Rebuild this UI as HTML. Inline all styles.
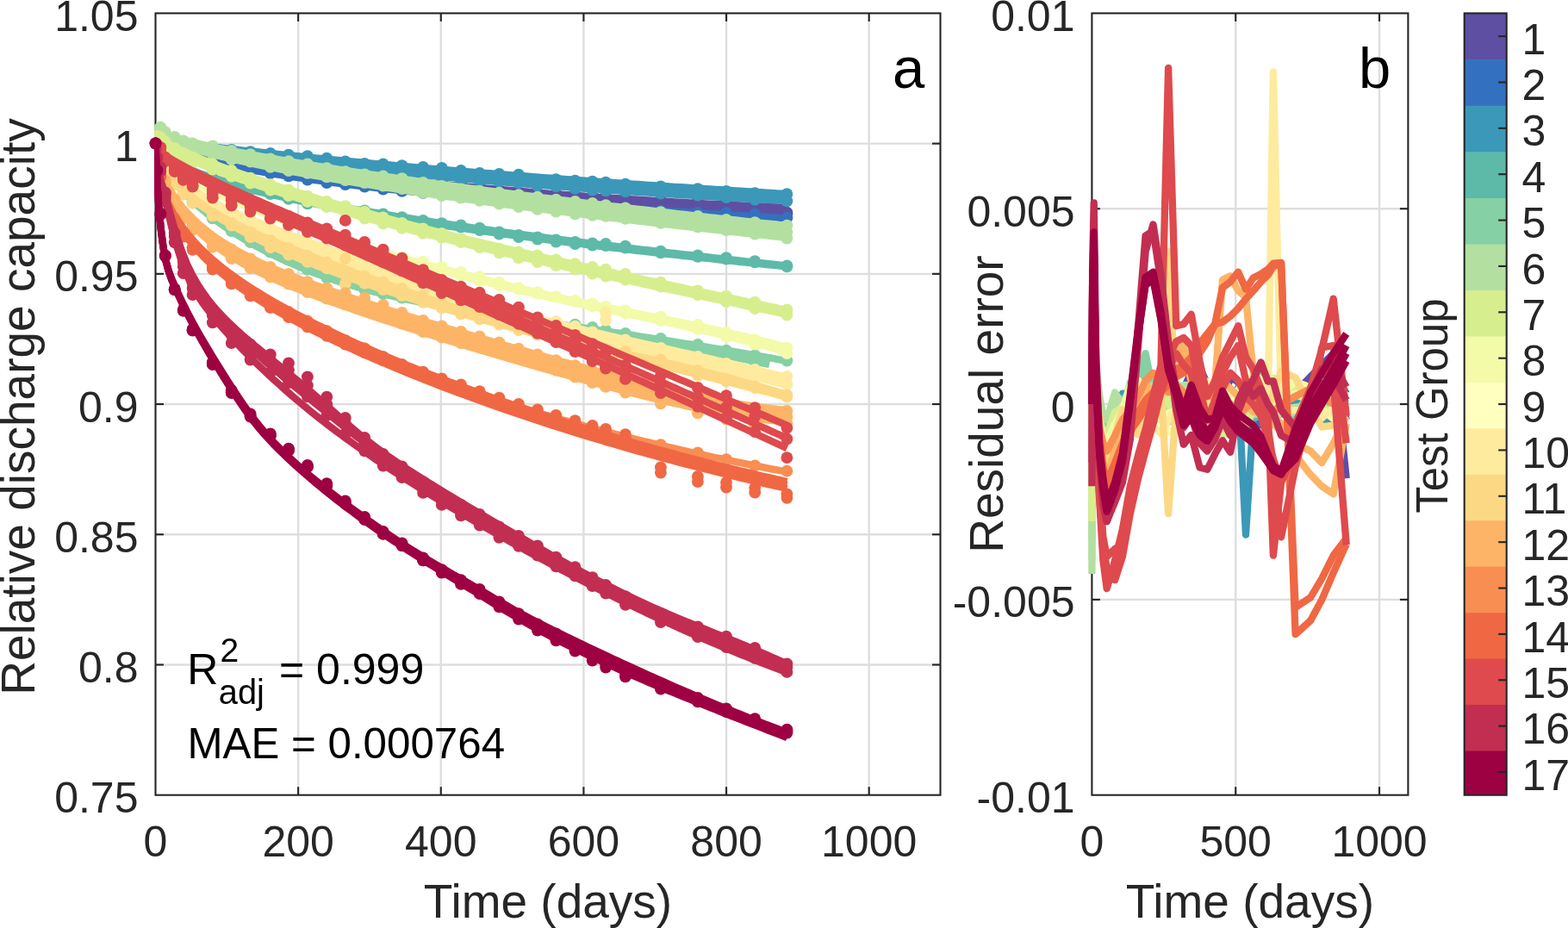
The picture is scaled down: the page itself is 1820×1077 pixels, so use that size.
<!DOCTYPE html>
<html lang="en"><head><meta charset="utf-8"><title>Capacity fade model fit</title>
<style>html,body{margin:0;padding:0;background:#fff;overflow:hidden}svg{display:block}text{font-family:"Liberation Sans", sans-serif}</style>
</head><body>
<svg width="1820" height="1077" viewBox="0 0 1820 1077" role="img" aria-label="Relative discharge capacity and residual error versus time for 17 test groups">
<rect x="0" y="0" width="1820" height="1077" fill="#fff"/>
<defs><clipPath id="ca"><rect x="179.30" y="15.40" width="912.20" height="907.30"/></clipPath>
<clipPath id="cb"><rect x="1267.40" y="15.40" width="367.00" height="907.30"/></clipPath></defs>
<g stroke="#dedede" stroke-width="2.4" fill="none"><line x1="346.14" y1="15.40" x2="346.14" y2="922.70"/><line x1="511.77" y1="15.40" x2="511.77" y2="922.70"/><line x1="677.41" y1="15.40" x2="677.41" y2="922.70"/><line x1="843.05" y1="15.40" x2="843.05" y2="922.70"/><line x1="1008.68" y1="15.40" x2="1008.68" y2="922.70"/><line x1="180.50" y1="771.48" x2="1091.50" y2="771.48"/><line x1="180.50" y1="620.27" x2="1091.50" y2="620.27"/><line x1="180.50" y1="469.05" x2="1091.50" y2="469.05"/><line x1="180.50" y1="317.83" x2="1091.50" y2="317.83"/><line x1="180.50" y1="166.62" x2="1091.50" y2="166.62"/></g>
<g stroke="#dedede" stroke-width="2.4" fill="none"><line x1="1434.22" y1="15.40" x2="1434.22" y2="922.70"/><line x1="1601.04" y1="15.40" x2="1601.04" y2="922.70"/><line x1="1267.40" y1="695.88" x2="1634.40" y2="695.88"/><line x1="1267.40" y1="469.05" x2="1634.40" y2="469.05"/><line x1="1267.40" y1="242.23" x2="1634.40" y2="242.23"/></g>
<!--PLOTS-->
<g stroke="#262626" stroke-width="2.10" fill="none" stroke-linecap="butt"><rect x="180.50" y="15.40" width="911.00" height="907.30"/><line x1="346.14" y1="922.70" x2="346.14" y2="913.20"/><line x1="346.14" y1="15.40" x2="346.14" y2="24.90"/><line x1="511.77" y1="922.70" x2="511.77" y2="913.20"/><line x1="511.77" y1="15.40" x2="511.77" y2="24.90"/><line x1="677.41" y1="922.70" x2="677.41" y2="913.20"/><line x1="677.41" y1="15.40" x2="677.41" y2="24.90"/><line x1="843.05" y1="922.70" x2="843.05" y2="913.20"/><line x1="843.05" y1="15.40" x2="843.05" y2="24.90"/><line x1="1008.68" y1="922.70" x2="1008.68" y2="913.20"/><line x1="1008.68" y1="15.40" x2="1008.68" y2="24.90"/><line x1="180.50" y1="771.48" x2="190.00" y2="771.48"/><line x1="1091.50" y1="771.48" x2="1082.00" y2="771.48"/><line x1="180.50" y1="620.27" x2="190.00" y2="620.27"/><line x1="1091.50" y1="620.27" x2="1082.00" y2="620.27"/><line x1="180.50" y1="469.05" x2="190.00" y2="469.05"/><line x1="1091.50" y1="469.05" x2="1082.00" y2="469.05"/><line x1="180.50" y1="317.83" x2="190.00" y2="317.83"/><line x1="1091.50" y1="317.83" x2="1082.00" y2="317.83"/><line x1="180.50" y1="166.62" x2="190.00" y2="166.62"/><line x1="1091.50" y1="166.62" x2="1082.00" y2="166.62"/></g>
<g stroke="#262626" stroke-width="2.10" fill="none" stroke-linecap="butt"><rect x="1267.40" y="15.40" width="367.00" height="907.30"/><line x1="1434.22" y1="922.70" x2="1434.22" y2="913.20"/><line x1="1434.22" y1="15.40" x2="1434.22" y2="24.90"/><line x1="1601.04" y1="922.70" x2="1601.04" y2="913.20"/><line x1="1601.04" y1="15.40" x2="1601.04" y2="24.90"/><line x1="1267.40" y1="695.88" x2="1276.90" y2="695.88"/><line x1="1634.40" y1="695.88" x2="1624.90" y2="695.88"/><line x1="1267.40" y1="469.05" x2="1276.90" y2="469.05"/><line x1="1634.40" y1="469.05" x2="1624.90" y2="469.05"/><line x1="1267.40" y1="242.23" x2="1276.90" y2="242.23"/><line x1="1634.40" y1="242.23" x2="1624.90" y2="242.23"/></g>
<g clip-path="url(#ca)" fill="none" stroke-linejoin="round" stroke-linecap="butt">
<g stroke="#5e4fa2" fill="#5e4fa2" stroke-width="8.33">
<polyline fill="none" points="180.5,166.5 181.3,165.4 182.2,165.4 183.0,165.5 183.8,165.7 184.6,165.8 185.5,166.0 186.3,166.2 187.1,166.4 188.0,166.6 188.8,166.8 189.6,167.0 190.4,167.2 191.3,167.4 192.1,167.6 192.9,167.8 193.8,168.0 194.6,168.2 195.4,168.4 196.2,168.6 197.1,168.9 197.9,169.1 198.7,169.3 199.5,169.5 200.4,169.7 201.2,169.9 202.0,170.1 202.9,170.3 203.7,170.4 204.5,170.6 205.3,170.8 211.3,172.2 217.2,173.6 223.2,174.9 229.1,176.1 235.1,177.3 241.1,178.5 247.0,179.7 253.0,180.8 258.9,182.0 264.9,183.0 270.8,184.1 276.8,185.2 282.7,186.2 288.7,187.2 294.6,188.2 300.6,189.2 306.5,190.1 312.5,191.0 318.4,192.0 324.4,192.9 330.3,193.8 336.3,194.6 342.2,195.5 348.2,196.4 354.1,197.2 360.1,198.0 366.0,198.8 372.0,199.6 377.9,200.4 383.9,201.2 389.8,202.0 395.8,202.7 401.7,203.5 407.7,204.2 413.6,204.9 419.6,205.7 425.5,206.4 431.5,207.1 437.4,207.8 443.4,208.4 449.3,209.1 455.3,209.8 461.2,210.5 467.2,211.1 473.1,211.7 479.1,212.4 485.0,213.0 491.0,213.6 496.9,214.2 502.9,214.8 508.8,215.4 514.8,216.0 520.7,216.6 526.7,217.2 532.6,217.8 538.6,218.3 544.5,218.9 550.5,219.4 556.4,220.0 562.4,220.5 568.3,221.1 574.3,221.6 580.3,222.1 586.2,222.6 592.2,223.2 598.1,223.7 604.1,224.2 610.0,224.7 616.0,225.1 621.9,225.6 627.9,226.1 633.8,226.6 639.8,227.1 645.7,227.5 651.7,228.0 657.6,228.4 663.6,228.9 669.5,229.3 675.5,229.8 681.4,230.2 687.4,230.6 693.3,231.1 699.3,231.5 705.2,231.9 711.2,232.3 717.1,232.7 723.1,233.1 729.0,233.5 735.0,233.9 740.9,234.3 746.9,234.7 752.8,235.1 758.8,235.4 764.7,235.8 770.7,236.2 776.6,236.6 782.6,236.9 788.5,237.3 794.5,237.6 800.4,238.0 806.4,238.3 812.3,238.7 818.3,239.0 824.2,239.4 830.2,239.7 836.1,240.0 842.1,240.3 848.0,240.7 854.0,241.0 859.9,241.3 865.9,241.6 871.8,241.9 877.8,242.2 883.7,242.5 889.7,242.8 895.6,243.1 901.6,243.4 907.5,243.7 913.5,244.0"/>
<polyline fill="none" points="180.5,166.5 181.3,165.2 182.2,165.2 183.0,165.3 183.8,165.4 184.6,165.5 185.5,165.7 186.3,165.9 187.1,166.0 188.0,166.2 188.8,166.4 189.6,166.6 190.4,166.8 191.3,167.0 192.1,167.2 192.9,167.3 193.8,167.5 194.6,167.7 195.4,167.9 196.2,168.1 197.1,168.3 197.9,168.5 198.7,168.7 199.5,168.9 200.4,169.1 201.2,169.3 202.0,169.5 202.9,169.6 203.7,169.8 204.5,170.0 205.3,170.2 211.3,171.5 217.2,172.8 223.2,174.1 229.1,175.3 235.1,176.5 241.1,177.6 247.0,178.8 253.0,179.9 258.9,180.9 264.9,182.0 270.8,183.0 276.8,184.1 282.7,185.1 288.7,186.0 294.6,187.0 300.6,187.9 306.5,188.9 312.5,189.8 318.4,190.7 324.4,191.6 330.3,192.4 336.3,193.3 342.2,194.1 348.2,195.0 354.1,195.8 360.1,196.6 366.0,197.4 372.0,198.1 377.9,198.9 383.9,199.7 389.8,200.4 395.8,201.2 401.7,201.9 407.7,202.6 413.6,203.3 419.6,204.0 425.5,204.7 431.5,205.4 437.4,206.1 443.4,206.7 449.3,207.4 455.3,208.0 461.2,208.7 467.2,209.3 473.1,209.9 479.1,210.5 485.0,211.2 491.0,211.8 496.9,212.4 502.9,212.9 508.8,213.5 514.8,214.1 520.7,214.7 526.7,215.2 532.6,215.8 538.6,216.3 544.5,216.9 550.5,217.4 556.4,217.9 562.4,218.5 568.3,219.0 574.3,219.5 580.3,220.0 586.2,220.5 592.2,221.0 598.1,221.5 604.1,222.0 610.0,222.4 616.0,222.9 621.9,223.4 627.9,223.9 633.8,224.3 639.8,224.8 645.7,225.2 651.7,225.7 657.6,226.1 663.6,226.5 669.5,227.0 675.5,227.4 681.4,227.8 687.4,228.2 693.3,228.6 699.3,229.0 705.2,229.4 711.2,229.8 717.1,230.2 723.1,230.6 729.0,231.0 735.0,231.4 740.9,231.7 746.9,232.1 752.8,232.5 758.8,232.8 764.7,233.2 770.7,233.6 776.6,233.9 782.6,234.3 788.5,234.6 794.5,234.9 800.4,235.3 806.4,235.6 812.3,235.9 818.3,236.3 824.2,236.6 830.2,236.9 836.1,237.2 842.1,237.5 848.0,237.8 854.0,238.1 859.9,238.4 865.9,238.7 871.8,239.0 877.8,239.3 883.7,239.6 889.7,239.9 895.6,240.2 901.6,240.4 907.5,240.7 913.5,241.0"/>
<circle cx="180.5" cy="166.5" r="6.9" stroke="none"/><circle cx="182.2" cy="164.3" r="6.9" stroke="none"/><circle cx="186.3" cy="164.3" r="6.9" stroke="none"/><circle cx="191.8" cy="166.8" r="6.9" stroke="none"/><circle cx="202.7" cy="170.2" r="6.9" stroke="none"/><circle cx="212.8" cy="173.1" r="6.9" stroke="none"/><circle cx="223.6" cy="175.7" r="6.9" stroke="none"/><circle cx="246.8" cy="179.0" r="6.9" stroke="none"/><circle cx="268.7" cy="183.7" r="6.9" stroke="none"/><circle cx="290.6" cy="186.4" r="6.9" stroke="none"/><circle cx="313.8" cy="189.6" r="6.9" stroke="none"/><circle cx="335.0" cy="193.3" r="6.9" stroke="none"/><circle cx="356.9" cy="196.5" r="6.9" stroke="none"/><circle cx="379.3" cy="199.9" r="6.9" stroke="none"/><circle cx="400.8" cy="202.4" r="6.9" stroke="none"/><circle cx="423.2" cy="204.0" r="6.9" stroke="none"/><circle cx="444.7" cy="205.7" r="6.9" stroke="none"/><circle cx="466.6" cy="206.8" r="6.9" stroke="none"/><circle cx="491.1" cy="208.9" r="6.9" stroke="none"/><circle cx="512.8" cy="212.4" r="6.9" stroke="none"/><circle cx="535.0" cy="214.9" r="6.9" stroke="none"/><circle cx="556.7" cy="217.2" r="6.9" stroke="none"/><circle cx="579.4" cy="221.0" r="6.9" stroke="none"/><circle cx="602.0" cy="223.3" r="6.9" stroke="none"/><circle cx="623.9" cy="223.9" r="6.9" stroke="none"/><circle cx="645.4" cy="224.9" r="6.9" stroke="none"/><circle cx="667.5" cy="226.5" r="6.9" stroke="none"/><circle cx="687.6" cy="227.7" r="6.9" stroke="none"/><circle cx="703.1" cy="228.6" r="6.9" stroke="none"/><circle cx="725.9" cy="230.2" r="6.9" stroke="none"/><circle cx="766.9" cy="232.4" r="6.9" stroke="none"/><circle cx="809.9" cy="233.7" r="6.9" stroke="none"/><circle cx="843.0" cy="234.5" r="6.9" stroke="none"/><circle cx="876.2" cy="235.3" r="6.9" stroke="none"/><circle cx="913.4" cy="246.7" r="6.9" stroke="none"/>
<polyline fill="none" points="180.5,166.5 181.3,165.6 182.2,165.6 183.0,165.8 183.8,166.0 184.6,166.2 185.5,166.4 186.3,166.6 187.1,166.8 188.0,167.0 188.8,167.2 189.6,167.4 190.4,167.7 191.3,167.9 192.1,168.1 192.9,168.3 193.8,168.5 194.6,168.7 195.4,169.0 196.2,169.2 197.1,169.4 197.9,169.6 198.7,169.8 199.5,170.0 200.4,170.2 201.2,170.4 202.0,170.7 202.9,170.9 203.7,171.1 204.5,171.3 205.3,171.5 211.3,172.9 217.2,174.3 223.2,175.6 229.1,176.9 235.1,178.2 241.1,179.4 247.0,180.6 253.0,181.8 258.9,183.0 264.9,184.1 270.8,185.2 276.8,186.3 282.7,187.3 288.7,188.3 294.6,189.4 300.6,190.4 306.5,191.3 312.5,192.3 318.4,193.2 324.4,194.2 330.3,195.1 336.3,196.0 342.2,196.9 348.2,197.7 354.1,198.6 360.1,199.5 366.0,200.3 372.0,201.1 377.9,201.9 383.9,202.7 389.8,203.5 395.8,204.3 401.7,205.1 407.7,205.8 413.6,206.6 419.6,207.3 425.5,208.0 431.5,208.8 437.4,209.5 443.4,210.2 449.3,210.9 455.3,211.6 461.2,212.2 467.2,212.9 473.1,213.6 479.1,214.2 485.0,214.9 491.0,215.5 496.9,216.1 502.9,216.7 508.8,217.4 514.8,218.0 520.7,218.6 526.7,219.2 532.6,219.8 538.6,220.3 544.5,220.9 550.5,221.5 556.4,222.1 562.4,222.6 568.3,223.2 574.3,223.7 580.3,224.3 586.2,224.8 592.2,225.3 598.1,225.8 604.1,226.4 610.0,226.9 616.0,227.4 621.9,227.9 627.9,228.4 633.8,228.9 639.8,229.3 645.7,229.8 651.7,230.3 657.6,230.8 663.6,231.2 669.5,231.7 675.5,232.1 681.4,232.6 687.4,233.0 693.3,233.5 699.3,233.9 705.2,234.4 711.2,234.8 717.1,235.2 723.1,235.6 729.0,236.0 735.0,236.5 740.9,236.9 746.9,237.3 752.8,237.7 758.8,238.1 764.7,238.4 770.7,238.8 776.6,239.2 782.6,239.6 788.5,240.0 794.5,240.3 800.4,240.7 806.4,241.1 812.3,241.4 818.3,241.8 824.2,242.1 830.2,242.5 836.1,242.8 842.1,243.2 848.0,243.5 854.0,243.8 859.9,244.2 865.9,244.5 871.8,244.8 877.8,245.1 883.7,245.4 889.7,245.8 895.6,246.1 901.6,246.4 907.5,246.7 913.5,247.0"/>
<circle cx="180.5" cy="166.5" r="6.9" stroke="none"/><circle cx="182.2" cy="164.7" r="6.9" stroke="none"/><circle cx="186.3" cy="165.1" r="6.9" stroke="none"/><circle cx="191.8" cy="167.7" r="6.9" stroke="none"/><circle cx="202.7" cy="171.4" r="6.9" stroke="none"/><circle cx="212.8" cy="174.5" r="6.9" stroke="none"/><circle cx="223.6" cy="177.2" r="6.9" stroke="none"/><circle cx="246.8" cy="180.9" r="6.9" stroke="none"/><circle cx="268.7" cy="185.8" r="6.9" stroke="none"/><circle cx="290.6" cy="189.8" r="6.9" stroke="none"/><circle cx="313.8" cy="193.2" r="6.9" stroke="none"/><circle cx="335.0" cy="195.1" r="6.9" stroke="none"/><circle cx="356.9" cy="197.7" r="6.9" stroke="none"/><circle cx="379.3" cy="201.5" r="6.9" stroke="none"/><circle cx="400.8" cy="204.7" r="6.9" stroke="none"/><circle cx="423.2" cy="208.0" r="6.9" stroke="none"/><circle cx="444.7" cy="209.9" r="6.9" stroke="none"/><circle cx="466.6" cy="211.6" r="6.9" stroke="none"/><circle cx="491.1" cy="214.6" r="6.9" stroke="none"/><circle cx="512.8" cy="217.2" r="6.9" stroke="none"/><circle cx="535.0" cy="220.3" r="6.9" stroke="none"/><circle cx="556.7" cy="221.9" r="6.9" stroke="none"/><circle cx="579.4" cy="222.1" r="6.9" stroke="none"/><circle cx="602.0" cy="224.5" r="6.9" stroke="none"/><circle cx="623.9" cy="227.6" r="6.9" stroke="none"/><circle cx="645.4" cy="230.1" r="6.9" stroke="none"/><circle cx="667.5" cy="232.2" r="6.9" stroke="none"/><circle cx="687.6" cy="233.4" r="6.9" stroke="none"/><circle cx="703.1" cy="233.6" r="6.9" stroke="none"/><circle cx="725.9" cy="234.4" r="6.9" stroke="none"/><circle cx="766.9" cy="238.0" r="6.9" stroke="none"/><circle cx="809.9" cy="239.8" r="6.9" stroke="none"/><circle cx="843.0" cy="240.5" r="6.9" stroke="none"/><circle cx="876.2" cy="241.7" r="6.9" stroke="none"/><circle cx="913.4" cy="248.2" r="6.9" stroke="none"/>
</g>
<g stroke="#3470c0" fill="#3470c0" stroke-width="8.33">
<polyline fill="none" points="180.5,166.5 181.3,167.2 182.2,167.7 183.0,168.2 183.8,168.7 184.6,169.1 185.5,169.5 186.3,169.9 187.1,170.3 188.0,170.7 188.8,171.0 189.6,171.4 190.4,171.7 191.3,172.1 192.1,172.4 192.9,172.7 193.8,173.1 194.6,173.4 195.4,173.7 196.2,174.0 197.1,174.3 197.9,174.6 198.7,174.9 199.5,175.2 200.4,175.5 201.2,175.7 202.0,176.0 202.9,176.3 203.7,176.6 204.5,176.8 205.3,177.1 211.3,178.9 217.2,180.7 223.2,182.3 229.1,183.9 235.1,185.4 241.1,186.8 247.0,188.2 253.0,189.5 258.9,190.8 264.9,192.0 270.8,193.3 276.8,194.4 282.7,195.6 288.7,196.7 294.6,197.8 300.6,198.9 306.5,199.9 312.5,200.9 318.4,201.9 324.4,202.9 330.3,203.8 336.3,204.7 342.2,205.6 348.2,206.5 354.1,207.4 360.1,208.3 366.0,209.1 372.0,209.9 377.9,210.7 383.9,211.5 389.8,212.3 395.8,213.0 401.7,213.8 407.7,214.5 413.6,215.3 419.6,216.0 425.5,216.7 431.5,217.4 437.4,218.0 443.4,218.7 449.3,219.3 455.3,220.0 461.2,220.6 467.2,221.2 473.1,221.9 479.1,222.5 485.0,223.0 491.0,223.6 496.9,224.2 502.9,224.8 508.8,225.3 514.8,225.9 520.7,226.4 526.7,226.9 532.6,227.4 538.6,228.0 544.5,228.5 550.5,229.0 556.4,229.5 562.4,229.9 568.3,230.4 574.3,230.9 580.3,231.4 586.2,231.8 592.2,232.3 598.1,232.8 604.1,233.2 610.0,233.7 616.0,234.1 621.9,234.5 627.9,235.0 633.8,235.4 639.8,235.8 645.7,236.2 651.7,236.7 657.6,237.1 663.6,237.5 669.5,237.9 675.5,238.3 681.4,238.7 687.4,239.1 693.3,239.5 699.3,239.9 705.2,240.3 711.2,240.7 717.1,241.1 723.1,241.5 729.0,241.9 735.0,242.3 740.9,242.7 746.9,243.0 752.8,243.4 758.8,243.8 764.7,244.2 770.7,244.6 776.6,244.9 782.6,245.3 788.5,245.7 794.5,246.1 800.4,246.4 806.4,246.8 812.3,247.2 818.3,247.6 824.2,247.9 830.2,248.3 836.1,248.7 842.1,249.0 848.0,249.4 854.0,249.8 859.9,250.1 865.9,250.5 871.8,250.9 877.8,251.2 883.7,251.6 889.7,252.0 895.6,252.3 901.6,252.7 907.5,253.1 913.5,253.4"/>
<circle cx="180.5" cy="166.5" r="6.9" stroke="none"/><circle cx="182.2" cy="166.8" r="6.9" stroke="none"/><circle cx="186.3" cy="168.4" r="6.9" stroke="none"/><circle cx="191.8" cy="172.0" r="6.9" stroke="none"/><circle cx="202.7" cy="176.8" r="6.9" stroke="none"/><circle cx="212.8" cy="180.6" r="6.9" stroke="none"/><circle cx="223.6" cy="183.9" r="6.9" stroke="none"/><circle cx="246.8" cy="188.4" r="6.9" stroke="none"/><circle cx="268.7" cy="194.1" r="6.9" stroke="none"/><circle cx="290.6" cy="198.4" r="6.9" stroke="none"/><circle cx="313.8" cy="201.2" r="6.9" stroke="none"/><circle cx="335.0" cy="204.4" r="6.9" stroke="none"/><circle cx="356.9" cy="208.6" r="6.9" stroke="none"/><circle cx="379.3" cy="212.1" r="6.9" stroke="none"/><circle cx="400.8" cy="214.1" r="6.9" stroke="none"/><circle cx="423.2" cy="216.5" r="6.9" stroke="none"/><circle cx="444.7" cy="219.7" r="6.9" stroke="none"/><circle cx="466.6" cy="221.9" r="6.9" stroke="none"/><circle cx="491.1" cy="223.9" r="6.9" stroke="none"/><circle cx="512.8" cy="225.3" r="6.9" stroke="none"/><circle cx="535.0" cy="226.4" r="6.9" stroke="none"/><circle cx="556.7" cy="228.8" r="6.9" stroke="none"/><circle cx="579.4" cy="231.9" r="6.9" stroke="none"/><circle cx="602.0" cy="233.5" r="6.9" stroke="none"/><circle cx="623.9" cy="234.2" r="6.9" stroke="none"/><circle cx="645.4" cy="236.7" r="6.9" stroke="none"/><circle cx="667.5" cy="239.4" r="6.9" stroke="none"/><circle cx="687.6" cy="239.5" r="6.9" stroke="none"/><circle cx="703.1" cy="239.5" r="6.9" stroke="none"/><circle cx="725.9" cy="241.5" r="6.9" stroke="none"/><circle cx="766.9" cy="244.4" r="6.9" stroke="none"/><circle cx="809.9" cy="246.6" r="6.9" stroke="none"/><circle cx="843.0" cy="247.0" r="6.9" stroke="none"/><circle cx="876.2" cy="248.5" r="6.9" stroke="none"/><circle cx="913.4" cy="252.6" r="6.9" stroke="none"/>
</g>
<g stroke="#3b98b9" fill="#3b98b9" stroke-width="8.33">
<polyline fill="none" points="180.5,166.5 181.3,164.6 182.2,164.3 183.0,164.1 183.8,164.1 184.6,164.0 185.5,164.1 186.3,164.1 187.1,164.1 188.0,164.2 188.8,164.2 189.6,164.3 190.4,164.4 191.3,164.5 192.1,164.6 192.9,164.7 193.8,164.7 194.6,164.8 195.4,164.9 196.2,165.0 197.1,165.2 197.9,165.3 198.7,165.4 199.5,165.5 200.4,165.6 201.2,165.7 202.0,165.8 202.9,165.9 203.7,166.0 204.5,166.1 205.3,166.3 211.3,167.1 217.2,167.9 223.2,168.8 229.1,169.6 235.1,170.4 241.1,171.2 247.0,172.1 253.0,172.9 258.9,173.7 264.9,174.4 270.8,175.2 276.8,176.0 282.7,176.7 288.7,177.5 294.6,178.2 300.6,179.0 306.5,179.7 312.5,180.4 318.4,181.1 324.4,181.8 330.3,182.5 336.3,183.2 342.2,183.9 348.2,184.6 354.1,185.2 360.1,185.9 366.0,186.5 372.0,187.2 377.9,187.8 383.9,188.5 389.8,189.1 395.8,189.7 401.7,190.3 407.7,191.0 413.6,191.6 419.6,192.2 425.5,192.8 431.5,193.3 437.4,193.9 443.4,194.5 449.3,195.1 455.3,195.7 461.2,196.2 467.2,196.8 473.1,197.3 479.1,197.9 485.0,198.4 491.0,199.0 496.9,199.5 502.9,200.1 508.8,200.6 514.8,201.1 520.7,201.6 526.7,202.1 532.6,202.7 538.6,203.2 544.5,203.7 550.5,204.2 556.4,204.7 562.4,205.2 568.3,205.7 574.3,206.1 580.3,206.6 586.2,207.1 592.2,207.6 598.1,208.1 604.1,208.5 610.0,209.0 616.0,209.5 621.9,209.9 627.9,210.4 633.8,210.8 639.8,211.3 645.7,211.7 651.7,212.2 657.6,212.6 663.6,213.0 669.5,213.5 675.5,213.9 681.4,214.3 687.4,214.8 693.3,215.2 699.3,215.6 705.2,216.0 711.2,216.4 717.1,216.8 723.1,217.3 729.0,217.7 735.0,218.1 740.9,218.5 746.9,218.9 752.8,219.3 758.8,219.7 764.7,220.0 770.7,220.4 776.6,220.8 782.6,221.2 788.5,221.6 794.5,222.0 800.4,222.3 806.4,222.7 812.3,223.1 818.3,223.4 824.2,223.8 830.2,224.2 836.1,224.5 842.1,224.9 848.0,225.2 854.0,225.6 859.9,225.9 865.9,226.3 871.8,226.6 877.8,227.0 883.7,227.3 889.7,227.7 895.6,228.0 901.6,228.3 907.5,228.7 913.5,229.0"/>
<polyline fill="none" points="180.5,166.5 181.3,164.7 182.2,164.4 183.0,164.2 183.8,164.1 184.6,164.1 185.5,164.1 186.3,164.1 187.1,164.1 188.0,164.1 188.8,164.1 189.6,164.2 190.4,164.2 191.3,164.3 192.1,164.4 192.9,164.4 193.8,164.5 194.6,164.6 195.4,164.6 196.2,164.7 197.1,164.8 197.9,164.9 198.7,165.0 199.5,165.1 200.4,165.1 201.2,165.2 202.0,165.3 202.9,165.4 203.7,165.5 204.5,165.6 205.3,165.7 211.3,166.3 217.2,167.0 223.2,167.7 229.1,168.4 235.1,169.1 241.1,169.8 247.0,170.5 253.0,171.2 258.9,171.9 264.9,172.6 270.8,173.2 276.8,173.9 282.7,174.6 288.7,175.2 294.6,175.9 300.6,176.5 306.5,177.2 312.5,177.8 318.4,178.5 324.4,179.1 330.3,179.7 336.3,180.3 342.2,180.9 348.2,181.5 354.1,182.1 360.1,182.7 366.0,183.3 372.0,183.9 377.9,184.5 383.9,185.1 389.8,185.7 395.8,186.2 401.7,186.8 407.7,187.4 413.6,187.9 419.6,188.5 425.5,189.0 431.5,189.6 437.4,190.1 443.4,190.7 449.3,191.2 455.3,191.7 461.2,192.3 467.2,192.8 473.1,193.3 479.1,193.8 485.0,194.3 491.0,194.9 496.9,195.4 502.9,195.9 508.8,196.4 514.8,196.9 520.7,197.4 526.7,197.9 532.6,198.4 538.6,198.8 544.5,199.3 550.5,199.8 556.4,200.3 562.4,200.8 568.3,201.2 574.3,201.7 580.3,202.2 586.2,202.7 592.2,203.1 598.1,203.6 604.1,204.0 610.0,204.5 616.0,204.9 621.9,205.4 627.9,205.9 633.8,206.3 639.8,206.7 645.7,207.2 651.7,207.6 657.6,208.1 663.6,208.5 669.5,208.9 675.5,209.4 681.4,209.8 687.4,210.2 693.3,210.6 699.3,211.1 705.2,211.5 711.2,211.9 717.1,212.3 723.1,212.7 729.0,213.1 735.0,213.6 740.9,214.0 746.9,214.4 752.8,214.8 758.8,215.2 764.7,215.6 770.7,216.0 776.6,216.4 782.6,216.8 788.5,217.2 794.5,217.5 800.4,217.9 806.4,218.3 812.3,218.7 818.3,219.1 824.2,219.5 830.2,219.9 836.1,220.2 842.1,220.6 848.0,221.0 854.0,221.4 859.9,221.7 865.9,222.1 871.8,222.5 877.8,222.8 883.7,223.2 889.7,223.6 895.6,223.9 901.6,224.3 907.5,224.6 913.5,225.0"/>
<circle cx="180.5" cy="166.5" r="6.9" stroke="none"/><circle cx="182.2" cy="163.5" r="6.9" stroke="none"/><circle cx="186.3" cy="162.5" r="6.9" stroke="none"/><circle cx="191.8" cy="164.0" r="6.9" stroke="none"/><circle cx="202.7" cy="166.0" r="6.9" stroke="none"/><circle cx="212.8" cy="167.7" r="6.9" stroke="none"/><circle cx="223.6" cy="169.3" r="6.9" stroke="none"/><circle cx="246.8" cy="170.8" r="6.9" stroke="none"/><circle cx="268.7" cy="173.8" r="6.9" stroke="none"/><circle cx="290.6" cy="176.1" r="6.9" stroke="none"/><circle cx="313.8" cy="177.8" r="6.9" stroke="none"/><circle cx="335.0" cy="179.7" r="6.9" stroke="none"/><circle cx="356.9" cy="181.2" r="6.9" stroke="none"/><circle cx="379.3" cy="183.6" r="6.9" stroke="none"/><circle cx="400.8" cy="187.5" r="6.9" stroke="none"/><circle cx="423.2" cy="189.9" r="6.9" stroke="none"/><circle cx="444.7" cy="190.5" r="6.9" stroke="none"/><circle cx="466.6" cy="192.1" r="6.9" stroke="none"/><circle cx="491.1" cy="193.9" r="6.9" stroke="none"/><circle cx="512.8" cy="195.0" r="6.9" stroke="none"/><circle cx="535.0" cy="197.8" r="6.9" stroke="none"/><circle cx="556.7" cy="200.9" r="6.9" stroke="none"/><circle cx="579.4" cy="201.8" r="6.9" stroke="none"/><circle cx="602.0" cy="202.6" r="6.9" stroke="none"/><circle cx="623.9" cy="215.7" r="6.9" stroke="none"/><circle cx="645.4" cy="208.2" r="6.9" stroke="none"/><circle cx="667.5" cy="209.7" r="6.9" stroke="none"/><circle cx="687.6" cy="210.6" r="6.9" stroke="none"/><circle cx="703.1" cy="211.7" r="6.9" stroke="none"/><circle cx="725.9" cy="213.7" r="6.9" stroke="none"/><circle cx="766.9" cy="216.5" r="6.9" stroke="none"/><circle cx="809.9" cy="219.1" r="6.9" stroke="none"/><circle cx="843.0" cy="221.9" r="6.9" stroke="none"/><circle cx="876.2" cy="224.1" r="6.9" stroke="none"/><circle cx="913.4" cy="225.1" r="6.9" stroke="none"/>
<polyline fill="none" points="180.5,166.5 181.3,164.5 182.2,164.2 183.0,164.1 183.8,164.0 184.6,164.0 185.5,164.0 186.3,164.1 187.1,164.2 188.0,164.2 188.8,164.3 189.6,164.4 190.4,164.5 191.3,164.6 192.1,164.8 192.9,164.9 193.8,165.0 194.6,165.1 195.4,165.2 196.2,165.4 197.1,165.5 197.9,165.6 198.7,165.8 199.5,165.9 200.4,166.0 201.2,166.2 202.0,166.3 202.9,166.4 203.7,166.6 204.5,166.7 205.3,166.8 211.3,167.8 217.2,168.8 223.2,169.8 229.1,170.8 235.1,171.7 241.1,172.7 247.0,173.6 253.0,174.5 258.9,175.4 264.9,176.3 270.8,177.2 276.8,178.1 282.7,178.9 288.7,179.8 294.6,180.6 300.6,181.4 306.5,182.2 312.5,183.0 318.4,183.8 324.4,184.6 330.3,185.3 336.3,186.1 342.2,186.9 348.2,187.6 354.1,188.3 360.1,189.1 366.0,189.8 372.0,190.5 377.9,191.2 383.9,191.9 389.8,192.5 395.8,193.2 401.7,193.9 407.7,194.5 413.6,195.2 419.6,195.8 425.5,196.5 431.5,197.1 437.4,197.7 443.4,198.4 449.3,199.0 455.3,199.6 461.2,200.2 467.2,200.8 473.1,201.4 479.1,202.0 485.0,202.5 491.0,203.1 496.9,203.7 502.9,204.2 508.8,204.8 514.8,205.3 520.7,205.9 526.7,206.4 532.6,207.0 538.6,207.5 544.5,208.0 550.5,208.5 556.4,209.1 562.4,209.6 568.3,210.1 574.3,210.6 580.3,211.1 586.2,211.6 592.2,212.1 598.1,212.5 604.1,213.0 610.0,213.5 616.0,214.0 621.9,214.4 627.9,214.9 633.8,215.4 639.8,215.8 645.7,216.3 651.7,216.7 657.6,217.2 663.6,217.6 669.5,218.0 675.5,218.5 681.4,218.9 687.4,219.3 693.3,219.7 699.3,220.2 705.2,220.6 711.2,221.0 717.1,221.4 723.1,221.8 729.0,222.2 735.0,222.6 740.9,223.0 746.9,223.4 752.8,223.7 758.8,224.1 764.7,224.5 770.7,224.9 776.6,225.3 782.6,225.6 788.5,226.0 794.5,226.4 800.4,226.7 806.4,227.1 812.3,227.4 818.3,227.8 824.2,228.1 830.2,228.5 836.1,228.8 842.1,229.2 848.0,229.5 854.0,229.8 859.9,230.2 865.9,230.5 871.8,230.8 877.8,231.1 883.7,231.5 889.7,231.8 895.6,232.1 901.6,232.4 907.5,232.7 913.5,233.0"/>
<circle cx="180.5" cy="166.5" r="6.9" stroke="none"/><circle cx="182.2" cy="163.3" r="6.9" stroke="none"/><circle cx="186.3" cy="162.6" r="6.9" stroke="none"/><circle cx="191.8" cy="164.4" r="6.9" stroke="none"/><circle cx="202.7" cy="167.0" r="6.9" stroke="none"/><circle cx="212.8" cy="169.3" r="6.9" stroke="none"/><circle cx="223.6" cy="171.4" r="6.9" stroke="none"/><circle cx="246.8" cy="173.9" r="6.9" stroke="none"/><circle cx="268.7" cy="176.1" r="6.9" stroke="none"/><circle cx="290.6" cy="179.3" r="6.9" stroke="none"/><circle cx="313.8" cy="182.9" r="6.9" stroke="none"/><circle cx="335.0" cy="185.4" r="6.9" stroke="none"/><circle cx="356.9" cy="187.3" r="6.9" stroke="none"/><circle cx="379.3" cy="188.9" r="6.9" stroke="none"/><circle cx="400.8" cy="191.3" r="6.9" stroke="none"/><circle cx="423.2" cy="194.8" r="6.9" stroke="none"/><circle cx="444.7" cy="198.2" r="6.9" stroke="none"/><circle cx="466.6" cy="200.8" r="6.9" stroke="none"/><circle cx="491.1" cy="202.8" r="6.9" stroke="none"/><circle cx="512.8" cy="205.4" r="6.9" stroke="none"/><circle cx="535.0" cy="208.4" r="6.9" stroke="none"/><circle cx="556.7" cy="209.6" r="6.9" stroke="none"/><circle cx="579.4" cy="210.6" r="6.9" stroke="none"/><circle cx="602.0" cy="212.2" r="6.9" stroke="none"/><circle cx="623.9" cy="214.0" r="6.9" stroke="none"/><circle cx="645.4" cy="216.4" r="6.9" stroke="none"/><circle cx="667.5" cy="218.8" r="6.9" stroke="none"/><circle cx="687.6" cy="220.6" r="6.9" stroke="none"/><circle cx="703.1" cy="221.3" r="6.9" stroke="none"/><circle cx="725.9" cy="222.3" r="6.9" stroke="none"/><circle cx="766.9" cy="224.5" r="6.9" stroke="none"/><circle cx="809.9" cy="226.7" r="6.9" stroke="none"/><circle cx="843.0" cy="229.2" r="6.9" stroke="none"/><circle cx="876.2" cy="231.6" r="6.9" stroke="none"/><circle cx="913.4" cy="233.3" r="6.9" stroke="none"/>
</g>
<g stroke="#5dbaa8" fill="#5dbaa8" stroke-width="8.33">
<polyline fill="none" points="180.5,166.5 181.3,171.6 182.2,173.3 183.0,174.7 183.8,175.8 184.6,176.8 185.5,177.7 186.3,178.6 187.1,179.3 188.0,180.0 188.8,180.7 189.6,181.4 190.4,182.0 191.3,182.6 192.1,183.2 192.9,183.7 193.8,184.3 194.6,184.8 195.4,185.3 196.2,185.8 197.1,186.3 197.9,186.8 198.7,187.2 199.5,187.7 200.4,188.1 201.2,188.6 202.0,189.0 202.9,189.4 203.7,189.8 204.5,190.2 205.3,190.6 211.3,193.4 217.2,195.8 223.2,198.1 229.1,200.3 235.1,202.3 241.1,204.3 247.0,206.1 253.0,207.9 258.9,209.7 264.9,211.3 270.8,212.9 276.8,214.5 282.7,216.0 288.7,217.5 294.6,219.0 300.6,220.4 306.5,221.8 312.5,223.1 318.4,224.5 324.4,225.8 330.3,227.1 336.3,228.3 342.2,229.6 348.2,230.8 354.1,232.0 360.1,233.1 366.0,234.3 372.0,235.5 377.9,236.6 383.9,237.7 389.8,238.8 395.8,239.9 401.7,241.0 407.7,242.0 413.6,243.1 419.6,244.1 425.5,245.1 431.5,246.1 437.4,247.1 443.4,248.1 449.3,249.1 455.3,250.1 461.2,251.0 467.2,252.0 473.1,252.9 479.1,253.9 485.0,254.8 491.0,255.7 496.9,256.6 502.9,257.5 508.8,258.4 514.8,259.3 520.7,260.2 526.7,261.1 532.6,261.9 538.6,262.8 544.5,263.6 550.5,264.5 556.4,265.3 562.4,266.2 568.3,267.0 574.3,267.8 580.3,268.6 586.2,269.5 592.2,270.3 598.1,271.1 604.1,271.9 610.0,272.7 616.0,273.5 621.9,274.2 627.9,275.0 633.8,275.8 639.8,276.6 645.7,277.3 651.7,278.1 657.6,278.9 663.6,279.6 669.5,280.4 675.5,281.1 681.4,281.9 687.4,282.6 693.3,283.3 699.3,284.1 705.2,284.8 711.2,285.5 717.1,286.2 723.1,287.0 729.0,287.7 735.0,288.4 740.9,289.1 746.9,289.8 752.8,290.5 758.8,291.2 764.7,291.9 770.7,292.6 776.6,293.3 782.6,294.0 788.5,294.7 794.5,295.3 800.4,296.0 806.4,296.7 812.3,297.4 818.3,298.0 824.2,298.7 830.2,299.4 836.1,300.0 842.1,300.7 848.0,301.4 854.0,302.0 859.9,302.7 865.9,303.3 871.8,304.0 877.8,304.6 883.7,305.2 889.7,305.9 895.6,306.5 901.6,307.2 907.5,307.8 913.5,308.4"/>
<circle cx="180.5" cy="166.5" r="6.9" stroke="none"/><circle cx="182.2" cy="172.4" r="6.9" stroke="none"/><circle cx="186.3" cy="176.7" r="6.9" stroke="none"/><circle cx="191.8" cy="182.7" r="6.9" stroke="none"/><circle cx="202.7" cy="190.2" r="6.9" stroke="none"/><circle cx="212.8" cy="195.5" r="6.9" stroke="none"/><circle cx="223.6" cy="200.1" r="6.9" stroke="none"/><circle cx="246.8" cy="206.7" r="6.9" stroke="none"/><circle cx="268.7" cy="212.7" r="6.9" stroke="none"/><circle cx="290.6" cy="217.7" r="6.9" stroke="none"/><circle cx="313.8" cy="222.9" r="6.9" stroke="none"/><circle cx="335.0" cy="228.6" r="6.9" stroke="none"/><circle cx="356.9" cy="234.0" r="6.9" stroke="none"/><circle cx="379.3" cy="237.4" r="6.9" stroke="none"/><circle cx="400.8" cy="240.4" r="6.9" stroke="none"/><circle cx="423.2" cy="244.4" r="6.9" stroke="none"/><circle cx="444.7" cy="248.3" r="6.9" stroke="none"/><circle cx="466.6" cy="252.1" r="6.9" stroke="none"/><circle cx="491.1" cy="256.0" r="6.9" stroke="none"/><circle cx="512.8" cy="259.1" r="6.9" stroke="none"/><circle cx="535.0" cy="261.4" r="6.9" stroke="none"/><circle cx="556.7" cy="264.7" r="6.9" stroke="none"/><circle cx="579.4" cy="269.4" r="6.9" stroke="none"/><circle cx="602.0" cy="272.8" r="6.9" stroke="none"/><circle cx="623.9" cy="275.4" r="6.9" stroke="none"/><circle cx="645.4" cy="278.4" r="6.9" stroke="none"/><circle cx="667.5" cy="281.0" r="6.9" stroke="none"/><circle cx="687.6" cy="282.5" r="6.9" stroke="none"/><circle cx="703.1" cy="283.0" r="6.9" stroke="none"/><circle cx="725.9" cy="285.7" r="6.9" stroke="none"/><circle cx="766.9" cy="291.6" r="6.9" stroke="none"/><circle cx="809.9" cy="296.4" r="6.9" stroke="none"/><circle cx="843.0" cy="299.1" r="6.9" stroke="none"/><circle cx="876.2" cy="303.2" r="6.9" stroke="none"/><circle cx="913.4" cy="308.4" r="6.9" stroke="none"/>
<polyline fill="none" points="180.5,166.5 181.3,172.0 182.2,174.0 183.0,175.4 183.8,176.6 184.6,177.7 185.5,178.7 186.3,179.5 187.1,180.4 188.0,181.1 188.8,181.8 189.6,182.5 190.4,183.2 191.3,183.8 192.1,184.4 192.9,185.0 193.8,185.6 194.6,186.1 195.4,186.7 196.2,187.2 197.1,187.7 197.9,188.2 198.7,188.7 199.5,189.1 200.4,189.6 201.2,190.0 202.0,190.5 202.9,190.9 203.7,191.4 204.5,191.8 205.3,192.2 211.3,195.0 217.2,197.5 223.2,199.9 229.1,202.1 235.1,204.2 241.1,206.2 247.0,208.1 253.0,209.9 258.9,211.7 264.9,213.4 270.8,215.0 276.8,216.6 282.7,218.2 288.7,219.7 294.6,221.2 300.6,222.6 306.5,224.0 312.5,225.4 318.4,226.7 324.4,228.0 330.3,229.3 336.3,230.6 342.2,231.8 348.2,233.1 354.1,234.3 360.1,235.5 366.0,236.6 372.0,237.8 377.9,238.9 383.9,240.1 389.8,241.2 395.8,242.2 401.7,243.3 407.7,244.4 413.6,245.4 419.6,246.5 425.5,247.5 431.5,248.5 437.4,249.5 443.4,250.5 449.3,251.5 455.3,252.5 461.2,253.4 467.2,254.4 473.1,255.3 479.1,256.3 485.0,257.2 491.0,258.1 496.9,259.0 502.9,259.9 508.8,260.8 514.8,261.7 520.7,262.6 526.7,263.4 532.6,264.3 538.6,265.2 544.5,266.0 550.5,266.9 556.4,267.7 562.4,268.5 568.3,269.3 574.3,270.2 580.3,271.0 586.2,271.8 592.2,272.6 598.1,273.4 604.1,274.2 610.0,274.9 616.0,275.7 621.9,276.5 627.9,277.3 633.8,278.0 639.8,278.8 645.7,279.5 651.7,280.3 657.6,281.0 663.6,281.8 669.5,282.5 675.5,283.2 681.4,284.0 687.4,284.7 693.3,285.4 699.3,286.1 705.2,286.8 711.2,287.5 717.1,288.2 723.1,288.9 729.0,289.6 735.0,290.3 740.9,291.0 746.9,291.7 752.8,292.3 758.8,293.0 764.7,293.7 770.7,294.4 776.6,295.0 782.6,295.7 788.5,296.3 794.5,297.0 800.4,297.6 806.4,298.3 812.3,298.9 818.3,299.6 824.2,300.2 830.2,300.9 836.1,301.5 842.1,302.1 848.0,302.7 854.0,303.4 859.9,304.0 865.9,304.6 871.8,305.2 877.8,305.8 883.7,306.4 889.7,307.0 895.6,307.6 901.6,308.2 907.5,308.8 913.5,309.4"/>
<circle cx="180.5" cy="166.5" r="6.9" stroke="none"/><circle cx="182.2" cy="173.1" r="6.9" stroke="none"/><circle cx="186.3" cy="177.7" r="6.9" stroke="none"/><circle cx="191.8" cy="183.9" r="6.9" stroke="none"/><circle cx="202.7" cy="191.7" r="6.9" stroke="none"/><circle cx="212.8" cy="197.2" r="6.9" stroke="none"/><circle cx="223.6" cy="201.9" r="6.9" stroke="none"/><circle cx="246.8" cy="208.6" r="6.9" stroke="none"/><circle cx="268.7" cy="214.7" r="6.9" stroke="none"/><circle cx="290.6" cy="219.9" r="6.9" stroke="none"/><circle cx="313.8" cy="225.1" r="6.9" stroke="none"/><circle cx="335.0" cy="230.9" r="6.9" stroke="none"/><circle cx="356.9" cy="236.3" r="6.9" stroke="none"/><circle cx="379.3" cy="239.7" r="6.9" stroke="none"/><circle cx="400.8" cy="242.8" r="6.9" stroke="none"/><circle cx="423.2" cy="246.8" r="6.9" stroke="none"/><circle cx="444.7" cy="250.7" r="6.9" stroke="none"/><circle cx="466.6" cy="254.5" r="6.9" stroke="none"/><circle cx="491.1" cy="258.4" r="6.9" stroke="none"/><circle cx="512.8" cy="261.5" r="6.9" stroke="none"/><circle cx="535.0" cy="263.7" r="6.9" stroke="none"/><circle cx="556.7" cy="267.0" r="6.9" stroke="none"/><circle cx="579.4" cy="271.7" r="6.9" stroke="none"/><circle cx="602.0" cy="275.1" r="6.9" stroke="none"/><circle cx="623.9" cy="277.6" r="6.9" stroke="none"/><circle cx="645.4" cy="280.6" r="6.9" stroke="none"/><circle cx="667.5" cy="283.2" r="6.9" stroke="none"/><circle cx="687.6" cy="284.6" r="6.9" stroke="none"/><circle cx="703.1" cy="285.1" r="6.9" stroke="none"/><circle cx="725.9" cy="287.7" r="6.9" stroke="none"/><circle cx="766.9" cy="293.3" r="6.9" stroke="none"/><circle cx="809.9" cy="297.9" r="6.9" stroke="none"/><circle cx="843.0" cy="300.5" r="6.9" stroke="none"/><circle cx="876.2" cy="304.4" r="6.9" stroke="none"/><circle cx="913.4" cy="309.4" r="6.9" stroke="none"/>
</g>
<g stroke="#85d0a4" fill="#85d0a4" stroke-width="8.33">
<polyline fill="none" points="180.5,166.5 181.3,173.3 182.2,176.4 183.0,178.8 183.8,181.0 184.6,183.0 185.5,184.9 186.3,186.6 187.1,188.2 188.0,189.8 188.8,191.3 189.6,192.7 190.4,194.1 191.3,195.5 192.1,196.8 192.9,198.1 193.8,199.3 194.6,200.5 195.4,201.7 196.2,202.9 197.1,204.0 197.9,205.1 198.7,206.2 199.5,207.3 200.4,208.4 201.2,209.4 202.0,210.4 202.9,211.4 203.7,212.4 204.5,213.4 205.3,214.4 211.1,220.8 216.9,226.8 222.7,232.3 228.5,237.6 234.2,242.5 240.0,247.3 245.8,251.8 251.6,256.1 257.4,260.3 263.1,264.3 268.9,268.2 274.7,271.9 280.5,275.5 286.2,279.0 292.0,282.3 297.8,285.5 303.6,288.7 309.4,291.7 315.1,294.6 320.9,297.5 326.7,300.2 332.5,302.9 338.3,305.5 344.0,308.0 349.8,310.4 355.6,312.7 361.4,315.0 367.1,317.2 372.9,319.3 378.7,321.4 384.5,323.4 390.3,325.3 396.0,327.2 401.8,329.0 407.6,330.8 413.4,332.5 419.2,334.1 424.9,335.7 430.7,337.3 436.5,338.8 442.3,340.2 448.0,341.6 453.8,343.0 459.6,344.3 465.4,345.6 471.2,346.8 476.9,348.1 482.7,349.2 488.5,350.4 494.3,351.6 500.1,352.7 505.8,353.8 511.6,354.9 517.4,355.9 523.2,357.0 528.9,358.0 534.7,359.0 540.5,360.0 546.3,361.0 552.1,362.0 557.8,363.0 563.6,363.9 569.4,364.9 575.2,365.8 581.0,366.7 586.7,367.7 592.5,368.6 598.3,369.5 604.1,370.4 609.8,371.3 615.6,372.2 621.4,373.1 627.2,374.0 633.0,374.9 638.7,375.8 644.5,376.7 650.3,377.6 656.1,378.5 661.9,379.4 667.6,380.3 673.4,381.2 679.2,382.1 685.0,383.0 690.7,383.9 696.5,384.8 702.3,385.8 708.1,386.7 713.9,387.6 719.6,388.5 725.4,389.5 731.2,390.4 737.0,391.3 742.8,392.3 748.5,393.2 754.3,394.2 760.1,395.1 765.9,396.1 771.6,397.1 777.4,398.0 783.2,399.0 789.0,400.0 794.8,401.0 800.5,402.0 806.3,403.0 812.1,404.1 817.9,405.1 823.7,406.1 829.4,407.2 835.2,408.2 841.0,409.3 846.8,410.3 852.5,411.4 858.3,412.5 864.1,413.6 869.9,414.6 875.7,415.8 881.4,416.9 887.2,418.0 893.0,419.1"/>
<polyline fill="none" points="180.5,166.5 181.3,173.5 182.2,176.6 183.0,179.1 183.8,181.3 184.6,183.3 185.5,185.1 186.3,186.9 187.1,188.5 188.0,190.1 188.8,191.6 189.6,193.0 190.4,194.4 191.3,195.7 192.1,197.0 192.9,198.3 193.8,199.5 194.6,200.7 195.4,201.9 196.2,203.1 197.1,204.2 197.9,205.3 198.7,206.4 199.5,207.5 200.4,208.5 201.2,209.6 202.0,210.6 202.9,211.6 203.7,212.6 204.5,213.6 205.3,214.5 211.3,221.1 217.2,227.1 223.2,232.8 229.1,238.1 235.1,243.2 241.1,248.0 247.0,252.6 253.0,257.0 258.9,261.2 264.9,265.3 270.8,269.2 276.8,273.0 282.7,276.6 288.7,280.1 294.6,283.5 300.6,286.8 306.5,290.0 312.5,293.0 318.4,296.0 324.4,298.9 330.3,301.6 336.3,304.3 342.2,306.9 348.2,309.4 354.1,311.8 360.1,314.2 366.0,316.5 372.0,318.7 377.9,320.8 383.9,322.9 389.8,324.9 395.8,326.8 401.7,328.7 407.7,330.5 413.6,332.2 419.6,333.9 425.5,335.5 431.5,337.1 437.4,338.6 443.4,340.1 449.3,341.5 455.3,342.9 461.2,344.3 467.2,345.6 473.1,346.8 479.1,348.1 485.0,349.3 491.0,350.5 496.9,351.6 502.9,352.8 508.8,353.9 514.8,355.0 520.7,356.0 526.7,357.1 532.6,358.1 538.6,359.1 544.5,360.1 550.5,361.1 556.4,362.1 562.4,363.1 568.3,364.0 574.3,365.0 580.3,365.9 586.2,366.8 592.2,367.7 598.1,368.7 604.1,369.6 610.0,370.5 616.0,371.4 621.9,372.3 627.9,373.1 633.8,374.0 639.8,374.9 645.7,375.8 651.7,376.7 657.6,377.6 663.6,378.5 669.5,379.3 675.5,380.2 681.4,381.1 687.4,382.0 693.3,382.9 699.3,383.8 705.2,384.6 711.2,385.5 717.1,386.4 723.1,387.3 729.0,388.2 735.0,389.1 740.9,390.1 746.9,391.0 752.8,391.9 758.8,392.8 764.7,393.7 770.7,394.7 776.6,395.6 782.6,396.6 788.5,397.5 794.5,398.5 800.4,399.4 806.4,400.4 812.3,401.4 818.3,402.3 824.2,403.3 830.2,404.3 836.1,405.3 842.1,406.3 848.0,407.3 854.0,408.4 859.9,409.4 865.9,410.4 871.8,411.5 877.8,412.5 883.7,413.6 889.7,414.7 895.6,415.7 901.6,416.8 907.5,417.9 913.5,419.0"/>
<circle cx="180.5" cy="166.5" r="6.9" stroke="none"/><circle cx="182.2" cy="175.4" r="6.9" stroke="none"/><circle cx="186.3" cy="184.5" r="6.9" stroke="none"/><circle cx="191.8" cy="195.9" r="6.9" stroke="none"/><circle cx="202.7" cy="212.3" r="6.9" stroke="none"/><circle cx="212.8" cy="224.5" r="6.9" stroke="none"/><circle cx="223.6" cy="235.3" r="6.9" stroke="none"/><circle cx="246.8" cy="253.0" r="6.9" stroke="none"/><circle cx="268.7" cy="267.5" r="6.9" stroke="none"/><circle cx="290.6" cy="280.4" r="6.9" stroke="none"/><circle cx="313.8" cy="291.6" r="6.9" stroke="none"/><circle cx="335.0" cy="299.8" r="6.9" stroke="none"/><circle cx="356.9" cy="312.1" r="6.9" stroke="none"/><circle cx="379.3" cy="320.9" r="6.9" stroke="none"/><circle cx="400.8" cy="328.5" r="6.9" stroke="none"/><circle cx="423.2" cy="334.8" r="6.9" stroke="none"/><circle cx="444.7" cy="340.8" r="6.9" stroke="none"/><circle cx="466.6" cy="345.6" r="6.9" stroke="none"/><circle cx="491.1" cy="350.1" r="6.9" stroke="none"/><circle cx="512.8" cy="355.2" r="6.9" stroke="none"/><circle cx="535.0" cy="359.7" r="6.9" stroke="none"/><circle cx="556.7" cy="362.2" r="6.9" stroke="none"/><circle cx="579.4" cy="365.6" r="6.9" stroke="none"/><circle cx="602.0" cy="370.2" r="6.9" stroke="none"/><circle cx="623.9" cy="372.7" r="6.9" stroke="none"/><circle cx="645.4" cy="374.1" r="6.9" stroke="none"/><circle cx="667.5" cy="376.6" r="6.9" stroke="none"/><circle cx="687.6" cy="380.0" r="6.9" stroke="none"/><circle cx="703.1" cy="383.1" r="6.9" stroke="none"/><circle cx="725.9" cy="387.0" r="6.9" stroke="none"/><circle cx="766.9" cy="393.0" r="6.9" stroke="none"/><circle cx="809.9" cy="399.9" r="6.9" stroke="none"/><circle cx="843.0" cy="406.6" r="6.9" stroke="none"/><circle cx="876.2" cy="412.4" r="6.9" stroke="none"/><circle cx="913.4" cy="418.5" r="6.9" stroke="none"/>
<polyline fill="none" points="180.5,166.5 181.3,173.1 182.2,176.1 183.0,178.6 183.8,180.8 184.6,182.7 185.5,184.6 186.3,186.3 187.1,188.0 188.0,189.5 188.8,191.0 189.6,192.5 190.4,193.9 191.3,195.2 192.1,196.6 192.9,197.8 193.8,199.1 194.6,200.3 195.4,201.5 196.2,202.7 197.1,203.8 197.9,204.9 198.7,206.0 199.5,207.1 200.4,208.2 201.2,209.3 202.0,210.3 202.9,211.3 203.7,212.3 204.5,213.3 205.3,214.3 211.1,220.7 216.9,226.7 222.7,232.3 228.5,237.6 234.2,242.6 240.0,247.4 245.8,251.9 251.6,256.3 257.4,260.5 263.1,264.5 268.9,268.4 274.7,272.1 280.5,275.7 286.2,279.2 292.0,282.5 297.8,285.8 303.6,288.9 309.4,292.0 315.1,294.9 320.9,297.8 326.7,300.5 332.5,303.2 338.3,305.8 344.0,308.3 349.8,310.7 355.6,313.0 361.4,315.3 367.1,317.5 372.9,319.6 378.7,321.7 384.5,323.7 390.3,325.7 396.0,327.5 401.8,329.4 407.6,331.1 413.4,332.8 419.2,334.5 424.9,336.1 430.7,337.6 436.5,339.1 442.3,340.6 448.0,342.0 453.8,343.3 459.6,344.7 465.4,346.0 471.2,347.2 476.9,348.5 482.7,349.7 488.5,350.8 494.3,352.0 500.1,353.1 505.8,354.3 511.6,355.4 517.4,356.4 523.2,357.5 528.9,358.5 534.7,359.6 540.5,360.6 546.3,361.6 552.1,362.6 557.8,363.6 563.6,364.6 569.4,365.5 575.2,366.5 581.0,367.5 586.7,368.4 592.5,369.4 598.3,370.3 604.1,371.3 609.8,372.2 615.6,373.1 621.4,374.1 627.2,375.0 633.0,375.9 638.7,376.9 644.5,377.8 650.3,378.8 656.1,379.7 661.9,380.6 667.6,381.6 673.4,382.5 679.2,383.5 685.0,384.4 690.7,385.4 696.5,386.3 702.3,387.3 708.1,388.3 713.9,389.3 719.6,390.2 725.4,391.2 731.2,392.2 737.0,393.2 742.8,394.2 748.5,395.2 754.3,396.2 760.1,397.2 765.9,398.3 771.6,399.3 777.4,400.4 783.2,401.4 789.0,402.5 794.8,403.5 800.5,404.6 806.3,405.7 812.1,406.8 817.9,407.9 823.7,409.0 829.4,410.1 835.2,411.2 841.0,412.4 846.8,413.5 852.5,414.7 858.3,415.8 864.1,417.0 869.9,418.2 875.7,419.4 881.4,420.6 887.2,421.8 893.0,423.0"/>
<circle cx="180.5" cy="166.5" r="6.9" stroke="none"/><circle cx="182.2" cy="174.9" r="6.9" stroke="none"/><circle cx="186.3" cy="184.2" r="6.9" stroke="none"/><circle cx="191.8" cy="195.7" r="6.9" stroke="none"/><circle cx="202.7" cy="212.0" r="6.9" stroke="none"/><circle cx="212.8" cy="224.0" r="6.9" stroke="none"/><circle cx="223.6" cy="235.0" r="6.9" stroke="none"/><circle cx="246.8" cy="253.3" r="6.9" stroke="none"/><circle cx="268.7" cy="268.2" r="6.9" stroke="none"/><circle cx="290.6" cy="281.2" r="6.9" stroke="none"/><circle cx="313.8" cy="292.7" r="6.9" stroke="none"/><circle cx="335.0" cy="301.6" r="6.9" stroke="none"/><circle cx="356.9" cy="312.9" r="6.9" stroke="none"/><circle cx="379.3" cy="322.3" r="6.9" stroke="none"/><circle cx="400.8" cy="329.2" r="6.9" stroke="none"/><circle cx="423.2" cy="336.0" r="6.9" stroke="none"/><circle cx="444.7" cy="340.9" r="6.9" stroke="none"/><circle cx="466.6" cy="345.1" r="6.9" stroke="none"/><circle cx="491.1" cy="350.4" r="6.9" stroke="none"/><circle cx="512.8" cy="355.3" r="6.9" stroke="none"/><circle cx="535.0" cy="359.6" r="6.9" stroke="none"/><circle cx="556.7" cy="362.7" r="6.9" stroke="none"/><circle cx="579.4" cy="366.7" r="6.9" stroke="none"/><circle cx="602.0" cy="371.4" r="6.9" stroke="none"/><circle cx="623.9" cy="375.1" r="6.9" stroke="none"/><circle cx="645.4" cy="378.2" r="6.9" stroke="none"/><circle cx="667.5" cy="382.1" r="6.9" stroke="none"/><circle cx="687.6" cy="385.1" r="6.9" stroke="none"/><circle cx="703.1" cy="386.8" r="6.9" stroke="none"/><circle cx="725.9" cy="391.4" r="6.9" stroke="none"/><circle cx="766.9" cy="399.5" r="6.9" stroke="none"/><circle cx="809.9" cy="405.8" r="6.9" stroke="none"/><circle cx="843.0" cy="412.5" r="6.9" stroke="none"/><circle cx="876.2" cy="420.1" r="6.9" stroke="none"/>
</g>
<g stroke="#b3e0a1" fill="#b3e0a1" stroke-width="8.33">
<polyline fill="none" points="180.5,152.5 181.3,153.4 182.2,153.9 183.0,154.4 183.8,154.8 184.6,155.2 185.5,155.6 186.3,155.9 187.1,156.3 188.0,156.6 188.8,156.9 189.6,157.2 190.4,157.5 191.3,157.8 192.1,158.1 192.9,158.4 193.8,158.7 194.6,159.0 195.4,159.3 196.2,159.5 197.1,159.8 197.9,160.1 198.7,160.3 199.5,160.6 200.4,160.8 201.2,161.1 202.0,161.3 202.9,161.6 203.7,161.8 204.5,162.1 205.3,162.3 211.3,164.0 217.2,165.6 223.2,167.1 229.1,168.5 235.1,170.0 241.1,171.3 247.0,172.7 253.0,174.0 258.9,175.3 264.9,176.5 270.8,177.7 276.8,179.0 282.7,180.1 288.7,181.3 294.6,182.5 300.6,183.6 306.5,184.7 312.5,185.8 318.4,186.9 324.4,188.0 330.3,189.0 336.3,190.1 342.2,191.1 348.2,192.1 354.1,193.2 360.1,194.2 366.0,195.2 372.0,196.2 377.9,197.1 383.9,198.1 389.8,199.1 395.8,200.0 401.7,201.0 407.7,201.9 413.6,202.8 419.6,203.7 425.5,204.7 431.5,205.6 437.4,206.5 443.4,207.4 449.3,208.3 455.3,209.1 461.2,210.0 467.2,210.9 473.1,211.8 479.1,212.6 485.0,213.5 491.0,214.3 496.9,215.2 502.9,216.0 508.8,216.8 514.8,217.7 520.7,218.5 526.7,219.3 532.6,220.1 538.6,220.9 544.5,221.7 550.5,222.5 556.4,223.3 562.4,224.1 568.3,224.9 574.3,225.7 580.3,226.5 586.2,227.3 592.2,228.0 598.1,228.8 604.1,229.6 610.0,230.3 616.0,231.1 621.9,231.9 627.9,232.6 633.8,233.4 639.8,234.1 645.7,234.8 651.7,235.6 657.6,236.3 663.6,237.1 669.5,237.8 675.5,238.5 681.4,239.2 687.4,240.0 693.3,240.7 699.3,241.4 705.2,242.1 711.2,242.8 717.1,243.5 723.1,244.2 729.0,244.9 735.0,245.6 740.9,246.3 746.9,247.0 752.8,247.7 758.8,248.4 764.7,249.1 770.7,249.7 776.6,250.4 782.6,251.1 788.5,251.8 794.5,252.5 800.4,253.1 806.4,253.8 812.3,254.5 818.3,255.1 824.2,255.8 830.2,256.4 836.1,257.1 842.1,257.8 848.0,258.4 854.0,259.1 859.9,259.7 865.9,260.3 871.8,261.0 877.8,261.6 883.7,262.3 889.7,262.9 895.6,263.5 901.6,264.2 907.5,264.8 913.5,265.4"/>
<polyline fill="none" points="180.5,155.5 181.3,156.3 182.2,156.8 183.0,157.3 183.8,157.7 184.6,158.1 185.5,158.5 186.3,158.9 187.1,159.3 188.0,159.6 188.8,160.0 189.6,160.3 190.4,160.7 191.3,161.0 192.1,161.3 192.9,161.6 193.8,161.9 194.6,162.2 195.4,162.5 196.2,162.8 197.1,163.1 197.9,163.4 198.7,163.7 199.5,163.9 200.4,164.2 201.2,164.5 202.0,164.8 202.9,165.0 203.7,165.3 204.5,165.6 205.3,165.8 211.3,167.6 217.2,169.4 223.2,171.0 229.1,172.6 235.1,174.1 241.1,175.6 247.0,177.1 253.0,178.5 258.9,179.9 264.9,181.2 270.8,182.5 276.8,183.8 282.7,185.1 288.7,186.3 294.6,187.6 300.6,188.8 306.5,190.0 312.5,191.1 318.4,192.3 324.4,193.4 330.3,194.5 336.3,195.6 342.2,196.7 348.2,197.8 354.1,198.9 360.1,199.9 366.0,201.0 372.0,202.0 377.9,203.0 383.9,204.1 389.8,205.1 395.8,206.0 401.7,207.0 407.7,208.0 413.6,209.0 419.6,209.9 425.5,210.9 431.5,211.8 437.4,212.7 443.4,213.7 449.3,214.6 455.3,215.5 461.2,216.4 467.2,217.3 473.1,218.2 479.1,219.0 485.0,219.9 491.0,220.8 496.9,221.6 502.9,222.5 508.8,223.3 514.8,224.2 520.7,225.0 526.7,225.9 532.6,226.7 538.6,227.5 544.5,228.3 550.5,229.1 556.4,230.0 562.4,230.8 568.3,231.6 574.3,232.4 580.3,233.2 586.2,233.9 592.2,234.7 598.1,235.5 604.1,236.3 610.0,237.0 616.0,237.8 621.9,238.6 627.9,239.3 633.8,240.1 639.8,240.8 645.7,241.6 651.7,242.3 657.6,243.1 663.6,243.8 669.5,244.6 675.5,245.3 681.4,246.0 687.4,246.8 693.3,247.5 699.3,248.2 705.2,248.9 711.2,249.6 717.1,250.3 723.1,251.0 729.0,251.8 735.0,252.5 740.9,253.2 746.9,253.9 752.8,254.6 758.8,255.2 764.7,255.9 770.7,256.6 776.6,257.3 782.6,258.0 788.5,258.7 794.5,259.3 800.4,260.0 806.4,260.7 812.3,261.4 818.3,262.0 824.2,262.7 830.2,263.4 836.1,264.0 842.1,264.7 848.0,265.3 854.0,266.0 859.9,266.7 865.9,267.3 871.8,268.0 877.8,268.6 883.7,269.2 889.7,269.9 895.6,270.5 901.6,271.2 907.5,271.8 913.5,272.4"/>
<polyline fill="none" points="180.5,151.0 181.3,151.9 182.2,152.4 183.0,152.8 183.8,153.2 184.6,153.6 185.5,153.9 186.3,154.3 187.1,154.6 188.0,154.9 188.8,155.2 189.6,155.5 190.4,155.8 191.3,156.1 192.1,156.4 192.9,156.7 193.8,156.9 194.6,157.2 195.4,157.5 196.2,157.7 197.1,158.0 197.9,158.2 198.7,158.5 199.5,158.7 200.4,159.0 201.2,159.2 202.0,159.5 202.9,159.7 203.7,159.9 204.5,160.2 205.3,160.4 211.3,162.0 217.2,163.5 223.2,165.0 229.1,166.4 235.1,167.8 241.1,169.1 247.0,170.4 253.0,171.7 258.9,172.9 264.9,174.1 270.8,175.3 276.8,176.5 282.7,177.7 288.7,178.8 294.6,179.9 300.6,181.0 306.5,182.1 312.5,183.2 318.4,184.2 324.4,185.3 330.3,186.3 336.3,187.3 342.2,188.4 348.2,189.4 354.1,190.4 360.1,191.3 366.0,192.3 372.0,193.3 377.9,194.2 383.9,195.2 389.8,196.1 395.8,197.1 401.7,198.0 407.7,198.9 413.6,199.8 419.6,200.7 425.5,201.6 431.5,202.5 437.4,203.4 443.4,204.3 449.3,205.2 455.3,206.0 461.2,206.9 467.2,207.7 473.1,208.6 479.1,209.4 485.0,210.3 491.0,211.1 496.9,212.0 502.9,212.8 508.8,213.6 514.8,214.4 520.7,215.2 526.7,216.0 532.6,216.8 538.6,217.6 544.5,218.4 550.5,219.2 556.4,220.0 562.4,220.8 568.3,221.6 574.3,222.4 580.3,223.1 586.2,223.9 592.2,224.7 598.1,225.4 604.1,226.2 610.0,227.0 616.0,227.7 621.9,228.5 627.9,229.2 633.8,229.9 639.8,230.7 645.7,231.4 651.7,232.2 657.6,232.9 663.6,233.6 669.5,234.3 675.5,235.1 681.4,235.8 687.4,236.5 693.3,237.2 699.3,237.9 705.2,238.6 711.2,239.3 717.1,240.0 723.1,240.7 729.0,241.4 735.0,242.1 740.9,242.8 746.9,243.5 752.8,244.2 758.8,244.9 764.7,245.6 770.7,246.2 776.6,246.9 782.6,247.6 788.5,248.3 794.5,248.9 800.4,249.6 806.4,250.3 812.3,250.9 818.3,251.6 824.2,252.3 830.2,252.9 836.1,253.6 842.1,254.2 848.0,254.9 854.0,255.5 859.9,256.2 865.9,256.8 871.8,257.5 877.8,258.1 883.7,258.8 889.7,259.4 895.6,260.0 901.6,260.7 907.5,261.3 913.5,261.9"/>
<circle cx="180.5" cy="164.1" r="6.9" stroke="none"/><circle cx="182.2" cy="150.8" r="6.9" stroke="none"/><circle cx="186.3" cy="147.6" r="6.9" stroke="none"/><circle cx="191.8" cy="153.2" r="6.9" stroke="none"/><circle cx="202.7" cy="159.0" r="6.9" stroke="none"/><circle cx="212.8" cy="163.3" r="6.9" stroke="none"/><circle cx="223.6" cy="166.3" r="6.9" stroke="none"/><circle cx="246.8" cy="169.5" r="6.9" stroke="none"/><circle cx="268.7" cy="174.9" r="6.9" stroke="none"/><circle cx="290.6" cy="179.1" r="6.9" stroke="none"/><circle cx="313.8" cy="184.5" r="6.9" stroke="none"/><circle cx="335.0" cy="187.1" r="6.9" stroke="none"/><circle cx="356.9" cy="190.4" r="6.9" stroke="none"/><circle cx="379.3" cy="195.2" r="6.9" stroke="none"/><circle cx="400.8" cy="199.2" r="6.9" stroke="none"/><circle cx="423.2" cy="202.5" r="6.9" stroke="none"/><circle cx="444.7" cy="204.4" r="6.9" stroke="none"/><circle cx="466.6" cy="207.2" r="6.9" stroke="none"/><circle cx="491.1" cy="211.8" r="6.9" stroke="none"/><circle cx="512.8" cy="215.8" r="6.9" stroke="none"/><circle cx="535.0" cy="219.3" r="6.9" stroke="none"/><circle cx="556.7" cy="221.6" r="6.9" stroke="none"/><circle cx="579.4" cy="223.7" r="6.9" stroke="none"/><circle cx="602.0" cy="226.2" r="6.9" stroke="none"/><circle cx="623.9" cy="228.6" r="6.9" stroke="none"/><circle cx="645.4" cy="231.6" r="6.9" stroke="none"/><circle cx="667.5" cy="234.0" r="6.9" stroke="none"/><circle cx="687.6" cy="235.9" r="6.9" stroke="none"/><circle cx="703.1" cy="238.1" r="6.9" stroke="none"/><circle cx="725.9" cy="241.5" r="6.9" stroke="none"/><circle cx="766.9" cy="246.1" r="6.9" stroke="none"/><circle cx="809.9" cy="250.8" r="6.9" stroke="none"/><circle cx="843.0" cy="255.0" r="6.9" stroke="none"/><circle cx="876.2" cy="258.2" r="6.9" stroke="none"/><circle cx="913.4" cy="261.6" r="6.9" stroke="none"/>
<polyline fill="none" points="180.5,154.0 181.3,155.0 182.2,155.5 183.0,156.0 183.8,156.4 184.6,156.8 185.5,157.2 186.3,157.6 187.1,157.9 188.0,158.3 188.8,158.6 189.6,159.0 190.4,159.3 191.3,159.6 192.1,159.9 192.9,160.2 193.8,160.5 194.6,160.8 195.4,161.1 196.2,161.3 197.1,161.6 197.9,161.9 198.7,162.2 199.5,162.4 200.4,162.7 201.2,163.0 202.0,163.2 202.9,163.5 203.7,163.7 204.5,164.0 205.3,164.2 211.3,165.9 217.2,167.6 223.2,169.2 229.1,170.7 235.1,172.1 241.1,173.6 247.0,174.9 253.0,176.3 258.9,177.6 264.9,178.9 270.8,180.2 276.8,181.4 282.7,182.6 288.7,183.8 294.6,185.0 300.6,186.2 306.5,187.3 312.5,188.4 318.4,189.6 324.4,190.7 330.3,191.7 336.3,192.8 342.2,193.9 348.2,194.9 354.1,196.0 360.1,197.0 366.0,198.0 372.0,199.0 377.9,200.0 383.9,201.0 389.8,202.0 395.8,203.0 401.7,203.9 407.7,204.9 413.6,205.8 419.6,206.8 425.5,207.7 431.5,208.6 437.4,209.5 443.4,210.5 449.3,211.4 455.3,212.3 461.2,213.1 467.2,214.0 473.1,214.9 479.1,215.8 485.0,216.7 491.0,217.5 496.9,218.4 502.9,219.2 508.8,220.1 514.8,220.9 520.7,221.7 526.7,222.6 532.6,223.4 538.6,224.2 544.5,225.0 550.5,225.8 556.4,226.7 562.4,227.5 568.3,228.3 574.3,229.1 580.3,229.8 586.2,230.6 592.2,231.4 598.1,232.2 604.1,233.0 610.0,233.7 616.0,234.5 621.9,235.3 627.9,236.0 633.8,236.8 639.8,237.5 645.7,238.3 651.7,239.0 657.6,239.8 663.6,240.5 669.5,241.2 675.5,242.0 681.4,242.7 687.4,243.4 693.3,244.1 699.3,244.9 705.2,245.6 711.2,246.3 717.1,247.0 723.1,247.7 729.0,248.4 735.0,249.1 740.9,249.8 746.9,250.5 752.8,251.2 758.8,251.9 764.7,252.6 770.7,253.3 776.6,253.9 782.6,254.6 788.5,255.3 794.5,256.0 800.4,256.6 806.4,257.3 812.3,258.0 818.3,258.6 824.2,259.3 830.2,260.0 836.1,260.6 842.1,261.3 848.0,261.9 854.0,262.6 859.9,263.2 865.9,263.9 871.8,264.5 877.8,265.1 883.7,265.8 889.7,266.4 895.6,267.1 901.6,267.7 907.5,268.3 913.5,268.9"/>
<circle cx="180.5" cy="166.1" r="6.9" stroke="none"/><circle cx="182.2" cy="154.3" r="6.9" stroke="none"/><circle cx="186.3" cy="152.1" r="6.9" stroke="none"/><circle cx="191.8" cy="157.3" r="6.9" stroke="none"/><circle cx="202.7" cy="163.1" r="6.9" stroke="none"/><circle cx="212.8" cy="167.3" r="6.9" stroke="none"/><circle cx="223.6" cy="170.5" r="6.9" stroke="none"/><circle cx="246.8" cy="174.3" r="6.9" stroke="none"/><circle cx="268.7" cy="180.0" r="6.9" stroke="none"/><circle cx="290.6" cy="185.1" r="6.9" stroke="none"/><circle cx="313.8" cy="188.6" r="6.9" stroke="none"/><circle cx="335.0" cy="192.5" r="6.9" stroke="none"/><circle cx="356.9" cy="197.3" r="6.9" stroke="none"/><circle cx="379.3" cy="201.5" r="6.9" stroke="none"/><circle cx="400.8" cy="204.3" r="6.9" stroke="none"/><circle cx="423.2" cy="206.6" r="6.9" stroke="none"/><circle cx="444.7" cy="209.2" r="6.9" stroke="none"/><circle cx="466.6" cy="212.5" r="6.9" stroke="none"/><circle cx="491.1" cy="217.6" r="6.9" stroke="none"/><circle cx="512.8" cy="222.1" r="6.9" stroke="none"/><circle cx="535.0" cy="224.1" r="6.9" stroke="none"/><circle cx="556.7" cy="225.8" r="6.9" stroke="none"/><circle cx="579.4" cy="230.0" r="6.9" stroke="none"/><circle cx="602.0" cy="234.3" r="6.9" stroke="none"/><circle cx="623.9" cy="237.1" r="6.9" stroke="none"/><circle cx="645.4" cy="238.9" r="6.9" stroke="none"/><circle cx="667.5" cy="241.7" r="6.9" stroke="none"/><circle cx="687.6" cy="245.3" r="6.9" stroke="none"/><circle cx="703.1" cy="246.6" r="6.9" stroke="none"/><circle cx="725.9" cy="248.5" r="6.9" stroke="none"/><circle cx="766.9" cy="253.5" r="6.9" stroke="none"/><circle cx="809.9" cy="257.0" r="6.9" stroke="none"/><circle cx="843.0" cy="259.6" r="6.9" stroke="none"/><circle cx="876.2" cy="264.6" r="6.9" stroke="none"/><circle cx="913.4" cy="269.6" r="6.9" stroke="none"/>
<polyline fill="none" points="180.5,157.0 181.3,157.6 182.2,158.1 183.0,158.6 183.8,159.0 184.6,159.5 185.5,159.9 186.3,160.3 187.1,160.6 188.0,161.0 188.8,161.3 189.6,161.7 190.4,162.0 191.3,162.4 192.1,162.7 192.9,163.0 193.8,163.3 194.6,163.7 195.4,164.0 196.2,164.3 197.1,164.6 197.9,164.9 198.7,165.2 199.5,165.5 200.4,165.8 201.2,166.0 202.0,166.3 202.9,166.6 203.7,166.9 204.5,167.2 205.3,167.4 211.3,169.3 217.2,171.1 223.2,172.9 229.1,174.5 235.1,176.1 241.1,177.7 247.0,179.2 253.0,180.7 258.9,182.1 264.9,183.5 270.8,184.9 276.8,186.2 282.7,187.5 288.7,188.8 294.6,190.1 300.6,191.4 306.5,192.6 312.5,193.8 318.4,195.0 324.4,196.2 330.3,197.3 336.3,198.5 342.2,199.6 348.2,200.7 354.1,201.8 360.1,202.9 366.0,204.0 372.0,205.0 377.9,206.1 383.9,207.1 389.8,208.1 395.8,209.1 401.7,210.1 407.7,211.1 413.6,212.1 419.6,213.1 425.5,214.0 431.5,215.0 437.4,215.9 443.4,216.9 449.3,217.8 455.3,218.7 461.2,219.6 467.2,220.5 473.1,221.4 479.1,222.3 485.0,223.2 491.0,224.0 496.9,224.9 502.9,225.8 508.8,226.6 514.8,227.5 520.7,228.3 526.7,229.2 532.6,230.0 538.6,230.8 544.5,231.6 550.5,232.5 556.4,233.3 562.4,234.1 568.3,234.9 574.3,235.7 580.3,236.5 586.2,237.3 592.2,238.0 598.1,238.8 604.1,239.6 610.0,240.4 616.0,241.1 621.9,241.9 627.9,242.7 633.8,243.4 639.8,244.2 645.7,244.9 651.7,245.7 657.6,246.4 663.6,247.2 669.5,247.9 675.5,248.6 681.4,249.4 687.4,250.1 693.3,250.8 699.3,251.5 705.2,252.3 711.2,253.0 717.1,253.7 723.1,254.4 729.0,255.1 735.0,255.8 740.9,256.5 746.9,257.2 752.8,257.9 758.8,258.6 764.7,259.3 770.7,260.0 776.6,260.7 782.6,261.4 788.5,262.1 794.5,262.7 800.4,263.4 806.4,264.1 812.3,264.8 818.3,265.4 824.2,266.1 830.2,266.8 836.1,267.4 842.1,268.1 848.0,268.8 854.0,269.4 859.9,270.1 865.9,270.8 871.8,271.4 877.8,272.1 883.7,272.7 889.7,273.4 895.6,274.0 901.6,274.7 907.5,275.3 913.5,276.0"/>
<circle cx="180.5" cy="167.6" r="6.9" stroke="none"/><circle cx="182.2" cy="157.2" r="6.9" stroke="none"/><circle cx="186.3" cy="155.7" r="6.9" stroke="none"/><circle cx="191.8" cy="160.8" r="6.9" stroke="none"/><circle cx="202.7" cy="166.5" r="6.9" stroke="none"/><circle cx="212.8" cy="170.7" r="6.9" stroke="none"/><circle cx="223.6" cy="174.2" r="6.9" stroke="none"/><circle cx="246.8" cy="178.8" r="6.9" stroke="none"/><circle cx="268.7" cy="185.0" r="6.9" stroke="none"/><circle cx="290.6" cy="187.6" r="6.9" stroke="none"/><circle cx="313.8" cy="193.8" r="6.9" stroke="none"/><circle cx="335.0" cy="198.0" r="6.9" stroke="none"/><circle cx="356.9" cy="200.8" r="6.9" stroke="none"/><circle cx="379.3" cy="205.3" r="6.9" stroke="none"/><circle cx="400.8" cy="209.1" r="6.9" stroke="none"/><circle cx="423.2" cy="212.2" r="6.9" stroke="none"/><circle cx="444.7" cy="215.7" r="6.9" stroke="none"/><circle cx="466.6" cy="219.1" r="6.9" stroke="none"/><circle cx="491.1" cy="223.6" r="6.9" stroke="none"/><circle cx="512.8" cy="227.0" r="6.9" stroke="none"/><circle cx="535.0" cy="229.6" r="6.9" stroke="none"/><circle cx="556.7" cy="232.8" r="6.9" stroke="none"/><circle cx="579.4" cy="236.6" r="6.9" stroke="none"/><circle cx="602.0" cy="240.1" r="6.9" stroke="none"/><circle cx="623.9" cy="242.9" r="6.9" stroke="none"/><circle cx="645.4" cy="245.7" r="6.9" stroke="none"/><circle cx="667.5" cy="248.4" r="6.9" stroke="none"/><circle cx="687.6" cy="249.9" r="6.9" stroke="none"/><circle cx="703.1" cy="250.9" r="6.9" stroke="none"/><circle cx="725.9" cy="253.9" r="6.9" stroke="none"/><circle cx="766.9" cy="258.8" r="6.9" stroke="none"/><circle cx="809.9" cy="263.4" r="6.9" stroke="none"/><circle cx="843.0" cy="267.1" r="6.9" stroke="none"/><circle cx="876.2" cy="271.7" r="6.9" stroke="none"/><circle cx="913.4" cy="276.7" r="6.9" stroke="none"/>
</g>
<g stroke="#d7ee8f" fill="#d7ee8f" stroke-width="8.33">
<polyline fill="none" points="180.5,160.0 181.3,161.0 182.2,161.7 183.0,162.4 183.8,163.0 184.6,163.6 185.5,164.2 186.3,164.8 187.1,165.3 188.0,165.8 188.8,166.3 189.6,166.8 190.4,167.3 191.3,167.8 192.1,168.3 192.9,168.8 193.8,169.2 194.6,169.7 195.4,170.1 196.2,170.6 197.1,171.0 197.9,171.5 198.7,171.9 199.5,172.3 200.4,172.7 201.2,173.2 202.0,173.6 202.9,174.0 203.7,174.4 204.5,174.8 205.3,175.2 211.3,178.0 217.2,180.7 223.2,183.3 229.1,185.8 235.1,188.3 241.1,190.6 247.0,193.0 253.0,195.2 258.9,197.5 264.9,199.7 270.8,201.8 276.8,204.0 282.7,206.0 288.7,208.1 294.6,210.1 300.6,212.1 306.5,214.1 312.5,216.1 318.4,218.0 324.4,219.9 330.3,221.8 336.3,223.7 342.2,225.6 348.2,227.4 354.1,229.2 360.1,231.1 366.0,232.9 372.0,234.6 377.9,236.4 383.9,238.1 389.8,239.9 395.8,241.6 401.7,243.3 407.7,245.0 413.6,246.7 419.6,248.4 425.5,250.1 431.5,251.7 437.4,253.4 443.4,255.0 449.3,256.6 455.3,258.2 461.2,259.8 467.2,261.4 473.1,263.0 479.1,264.6 485.0,266.1 491.0,267.7 496.9,269.2 502.9,270.7 508.8,272.2 514.8,273.7 520.7,275.2 526.7,276.7 532.6,278.2 538.6,279.7 544.5,281.1 550.5,282.6 556.4,284.0 562.4,285.4 568.3,286.8 574.3,288.3 580.3,289.7 586.2,291.1 592.2,292.5 598.1,293.9 604.1,295.2 610.0,296.6 616.0,298.0 621.9,299.3 627.9,300.7 633.8,302.0 639.8,303.4 645.7,304.7 651.7,306.1 657.6,307.4 663.6,308.7 669.5,310.0 675.5,311.4 681.4,312.7 687.4,314.0 693.3,315.3 699.3,316.6 705.2,317.9 711.2,319.2 717.1,320.5 723.1,321.7 729.0,323.0 735.0,324.3 740.9,325.6 746.9,326.9 752.8,328.1 758.8,329.4 764.7,330.7 770.7,332.0 776.6,333.2 782.6,334.5 788.5,335.8 794.5,337.0 800.4,338.3 806.4,339.6 812.3,340.8 818.3,342.1 824.2,343.4 830.2,344.7 836.1,345.9 842.1,347.2 848.0,348.5 854.0,349.7 859.9,351.0 865.9,352.3 871.8,353.5 877.8,354.8 883.7,356.1 889.7,357.4 895.6,358.6 901.6,359.9 907.5,361.2 913.5,362.5"/>
<polyline fill="none" points="180.5,158.0 181.3,158.6 182.2,159.3 183.0,159.9 183.8,160.5 184.6,161.0 185.5,161.6 186.3,162.1 187.1,162.6 188.0,163.1 188.8,163.6 189.6,164.1 190.4,164.5 191.3,165.0 192.1,165.4 192.9,165.9 193.8,166.3 194.6,166.8 195.4,167.2 196.2,167.7 197.1,168.1 197.9,168.5 198.7,168.9 199.5,169.3 200.4,169.8 201.2,170.2 202.0,170.6 202.9,171.0 203.7,171.4 204.5,171.8 205.3,172.2 211.3,174.9 217.2,177.6 223.2,180.1 229.1,182.6 235.1,185.0 241.1,187.4 247.0,189.7 253.0,192.0 258.9,194.2 264.9,196.4 270.8,198.5 276.8,200.6 282.7,202.7 288.7,204.8 294.6,206.8 300.6,208.8 306.5,210.8 312.5,212.8 318.4,214.7 324.4,216.6 330.3,218.5 336.3,220.4 342.2,222.3 348.2,224.1 354.1,226.0 360.1,227.8 366.0,229.6 372.0,231.4 377.9,233.1 383.9,234.9 389.8,236.6 395.8,238.4 401.7,240.1 407.7,241.8 413.6,243.5 419.6,245.2 425.5,246.9 431.5,248.5 437.4,250.2 443.4,251.8 449.3,253.5 455.3,255.1 461.2,256.7 467.2,258.3 473.1,259.9 479.1,261.5 485.0,263.1 491.0,264.6 496.9,266.2 502.9,267.7 508.8,269.2 514.8,270.7 520.7,272.2 526.7,273.7 532.6,275.2 538.6,276.7 544.5,278.2 550.5,279.6 556.4,281.1 562.4,282.5 568.3,283.9 574.3,285.4 580.3,286.8 586.2,288.2 592.2,289.6 598.1,291.0 604.1,292.4 610.0,293.8 616.0,295.1 621.9,296.5 627.9,297.9 633.8,299.2 639.8,300.6 645.7,301.9 651.7,303.3 657.6,304.6 663.6,305.9 669.5,307.3 675.5,308.6 681.4,309.9 687.4,311.2 693.3,312.5 699.3,313.8 705.2,315.1 711.2,316.4 717.1,317.7 723.1,319.0 729.0,320.3 735.0,321.6 740.9,322.9 746.9,324.2 752.8,325.5 758.8,326.7 764.7,328.0 770.7,329.3 776.6,330.6 782.6,331.8 788.5,333.1 794.5,334.4 800.4,335.7 806.4,336.9 812.3,338.2 818.3,339.5 824.2,340.8 830.2,342.0 836.1,343.3 842.1,344.6 848.0,345.9 854.0,347.1 859.9,348.4 865.9,349.7 871.8,351.0 877.8,352.3 883.7,353.5 889.7,354.8 895.6,356.1 901.6,357.4 907.5,358.7 913.5,360.0"/>
<circle cx="180.5" cy="167.1" r="6.9" stroke="none"/><circle cx="182.2" cy="157.8" r="6.9" stroke="none"/><circle cx="186.3" cy="159.1" r="6.9" stroke="none"/><circle cx="191.8" cy="164.4" r="6.9" stroke="none"/><circle cx="202.7" cy="172.1" r="6.9" stroke="none"/><circle cx="212.8" cy="178.0" r="6.9" stroke="none"/><circle cx="223.6" cy="183.0" r="6.9" stroke="none"/><circle cx="246.8" cy="190.5" r="6.9" stroke="none"/><circle cx="268.7" cy="197.9" r="6.9" stroke="none"/><circle cx="290.6" cy="206.6" r="6.9" stroke="none"/><circle cx="313.8" cy="214.1" r="6.9" stroke="none"/><circle cx="335.0" cy="220.4" r="6.9" stroke="none"/><circle cx="356.9" cy="227.7" r="6.9" stroke="none"/><circle cx="379.3" cy="233.9" r="6.9" stroke="none"/><circle cx="400.8" cy="239.2" r="6.9" stroke="none"/><circle cx="423.2" cy="245.6" r="6.9" stroke="none"/><circle cx="444.7" cy="252.3" r="6.9" stroke="none"/><circle cx="466.6" cy="258.8" r="6.9" stroke="none"/><circle cx="491.1" cy="265.3" r="6.9" stroke="none"/><circle cx="512.8" cy="271.0" r="6.9" stroke="none"/><circle cx="535.0" cy="277.1" r="6.9" stroke="none"/><circle cx="556.7" cy="283.6" r="6.9" stroke="none"/><circle cx="579.4" cy="288.7" r="6.9" stroke="none"/><circle cx="602.0" cy="292.4" r="6.9" stroke="none"/><circle cx="623.9" cy="296.5" r="6.9" stroke="none"/><circle cx="645.4" cy="301.3" r="6.9" stroke="none"/><circle cx="667.5" cy="306.1" r="6.9" stroke="none"/><circle cx="687.6" cy="310.0" r="6.9" stroke="none"/><circle cx="703.1" cy="312.7" r="6.9" stroke="none"/><circle cx="725.9" cy="317.8" r="6.9" stroke="none"/><circle cx="766.9" cy="327.7" r="6.9" stroke="none"/><circle cx="809.9" cy="337.4" r="6.9" stroke="none"/><circle cx="843.0" cy="343.7" r="6.9" stroke="none"/><circle cx="876.2" cy="350.7" r="6.9" stroke="none"/><circle cx="913.4" cy="359.4" r="6.9" stroke="none"/>
<polyline fill="none" points="180.5,162.0 181.3,163.3 182.2,164.2 183.0,164.9 183.8,165.6 184.6,166.2 185.5,166.9 186.3,167.4 187.1,168.0 188.0,168.6 188.8,169.1 189.6,169.6 190.4,170.1 191.3,170.6 192.1,171.1 192.9,171.6 193.8,172.1 194.6,172.6 195.4,173.0 196.2,173.5 197.1,174.0 197.9,174.4 198.7,174.9 199.5,175.3 200.4,175.7 201.2,176.2 202.0,176.6 202.9,177.0 203.7,177.4 204.5,177.8 205.3,178.3 211.3,181.1 217.2,183.9 223.2,186.5 229.1,189.0 235.1,191.5 241.1,193.9 247.0,196.2 253.0,198.5 258.9,200.8 264.9,203.0 270.8,205.1 276.8,207.3 282.7,209.4 288.7,211.4 294.6,213.5 300.6,215.5 306.5,217.5 312.5,219.4 318.4,221.3 324.4,223.3 330.3,225.2 336.3,227.0 342.2,228.9 348.2,230.7 354.1,232.5 360.1,234.3 366.0,236.1 372.0,237.9 377.9,239.7 383.9,241.4 389.8,243.1 395.8,244.8 401.7,246.5 407.7,248.2 413.6,249.9 419.6,251.6 425.5,253.2 431.5,254.9 437.4,256.5 443.4,258.1 449.3,259.7 455.3,261.3 461.2,262.9 467.2,264.5 473.1,266.1 479.1,267.6 485.0,269.2 491.0,270.7 496.9,272.2 502.9,273.7 508.8,275.3 514.8,276.7 520.7,278.2 526.7,279.7 532.6,281.2 538.6,282.6 544.5,284.1 550.5,285.5 556.4,286.9 562.4,288.4 568.3,289.8 574.3,291.2 580.3,292.6 586.2,294.0 592.2,295.3 598.1,296.7 604.1,298.1 610.0,299.5 616.0,300.8 621.9,302.2 627.9,303.5 633.8,304.9 639.8,306.2 645.7,307.5 651.7,308.9 657.6,310.2 663.6,311.5 669.5,312.8 675.5,314.1 681.4,315.4 687.4,316.7 693.3,318.0 699.3,319.3 705.2,320.6 711.2,321.9 717.1,323.2 723.1,324.5 729.0,325.7 735.0,327.0 740.9,328.3 746.9,329.6 752.8,330.8 758.8,332.1 764.7,333.4 770.7,334.6 776.6,335.9 782.6,337.2 788.5,338.4 794.5,339.7 800.4,341.0 806.4,342.2 812.3,343.5 818.3,344.7 824.2,346.0 830.2,347.3 836.1,348.5 842.1,349.8 848.0,351.0 854.0,352.3 859.9,353.6 865.9,354.8 871.8,356.1 877.8,357.4 883.7,358.6 889.7,359.9 895.6,361.2 901.6,362.4 907.5,363.7 913.5,365.0"/>
<circle cx="180.5" cy="169.6" r="6.9" stroke="none"/><circle cx="182.2" cy="163.0" r="6.9" stroke="none"/><circle cx="186.3" cy="165.0" r="6.9" stroke="none"/><circle cx="191.8" cy="170.3" r="6.9" stroke="none"/><circle cx="202.7" cy="178.1" r="6.9" stroke="none"/><circle cx="212.8" cy="183.9" r="6.9" stroke="none"/><circle cx="223.6" cy="189.1" r="6.9" stroke="none"/><circle cx="246.8" cy="196.7" r="6.9" stroke="none"/><circle cx="268.7" cy="204.6" r="6.9" stroke="none"/><circle cx="290.6" cy="212.7" r="6.9" stroke="none"/><circle cx="313.8" cy="220.6" r="6.9" stroke="none"/><circle cx="335.0" cy="227.2" r="6.9" stroke="none"/><circle cx="356.9" cy="233.9" r="6.9" stroke="none"/><circle cx="379.3" cy="239.8" r="6.9" stroke="none"/><circle cx="400.8" cy="246.2" r="6.9" stroke="none"/><circle cx="423.2" cy="253.7" r="6.9" stroke="none"/><circle cx="444.7" cy="259.3" r="6.9" stroke="none"/><circle cx="466.6" cy="264.8" r="6.9" stroke="none"/><circle cx="491.1" cy="270.8" r="6.9" stroke="none"/><circle cx="512.8" cy="275.7" r="6.9" stroke="none"/><circle cx="535.0" cy="281.2" r="6.9" stroke="none"/><circle cx="556.7" cy="287.0" r="6.9" stroke="none"/><circle cx="579.4" cy="293.3" r="6.9" stroke="none"/><circle cx="602.0" cy="299.3" r="6.9" stroke="none"/><circle cx="623.9" cy="304.1" r="6.9" stroke="none"/><circle cx="645.4" cy="308.0" r="6.9" stroke="none"/><circle cx="667.5" cy="312.6" r="6.9" stroke="none"/><circle cx="687.6" cy="317.5" r="6.9" stroke="none"/><circle cx="703.1" cy="320.5" r="6.9" stroke="none"/><circle cx="725.9" cy="324.3" r="6.9" stroke="none"/><circle cx="766.9" cy="332.7" r="6.9" stroke="none"/><circle cx="809.9" cy="342.1" r="6.9" stroke="none"/><circle cx="843.0" cy="350.1" r="6.9" stroke="none"/><circle cx="876.2" cy="358.0" r="6.9" stroke="none"/><circle cx="913.4" cy="365.6" r="6.9" stroke="none"/>
</g>
<g stroke="#f3faa8" fill="#f3faa8" stroke-width="8.33">
<polyline fill="none" points="180.5,166.5 181.3,172.0 182.2,174.2 183.0,175.8 183.8,177.3 184.6,178.6 185.5,179.7 186.3,180.8 187.1,181.9 188.0,182.8 188.8,183.8 189.6,184.7 190.4,185.5 191.3,186.4 192.1,187.2 192.9,187.9 193.8,188.7 194.6,189.4 195.4,190.2 196.2,190.9 197.1,191.6 197.9,192.3 198.7,192.9 199.5,193.6 200.4,194.2 201.2,194.9 202.0,195.5 202.9,196.1 203.7,196.7 204.5,197.3 205.3,197.9 211.3,202.0 217.2,205.7 223.2,209.3 229.1,212.6 235.1,215.8 241.1,218.9 247.0,221.9 253.0,224.8 258.9,227.6 264.9,230.3 270.8,232.9 276.8,235.5 282.7,238.0 288.7,240.5 294.6,242.9 300.6,245.3 306.5,247.6 312.5,249.9 318.4,252.1 324.4,254.3 330.3,256.5 336.3,258.7 342.2,260.8 348.2,262.9 354.1,264.9 360.1,267.0 366.0,269.0 372.0,271.0 377.9,272.9 383.9,274.9 389.8,276.8 395.8,278.7 401.7,280.6 407.7,282.5 413.6,284.3 419.6,286.1 425.5,287.9 431.5,289.7 437.4,291.5 443.4,293.3 449.3,295.0 455.3,296.7 461.2,298.5 467.2,300.2 473.1,301.8 479.1,303.5 485.0,305.2 491.0,306.8 496.9,308.5 502.9,310.1 508.8,311.7 514.8,313.3 520.7,314.9 526.7,316.5 532.6,318.0 538.6,319.6 544.5,321.1 550.5,322.7 556.4,324.2 562.4,325.7 568.3,327.2 574.3,328.7 580.3,330.2 586.2,331.6 592.2,333.1 598.1,334.5 604.1,336.0 610.0,337.4 616.0,338.8 621.9,340.2 627.9,341.6 633.8,342.9 639.8,344.3 645.7,345.7 651.7,347.0 657.6,348.3 663.6,349.6 669.5,350.9 675.5,352.2 681.4,353.4 687.4,354.7 693.3,355.9 699.3,357.2 705.2,358.4 711.2,359.6 717.1,360.8 723.1,362.0 729.0,363.2 735.0,364.4 740.9,365.6 746.9,366.9 752.8,368.1 758.8,369.3 764.7,370.5 770.7,371.8 776.6,373.0 782.6,374.3 788.5,375.5 794.5,376.8 800.4,378.1 806.4,379.4 812.3,380.7 818.3,382.1 824.2,383.4 830.2,384.8 836.1,386.2 842.1,387.6 848.0,389.0 854.0,390.4 859.9,391.9 865.9,393.4 871.8,394.9 877.8,396.4 883.7,397.9 889.7,399.5 895.6,401.1 901.6,402.7 907.5,404.3 913.5,406.0"/>
<polyline fill="none" points="180.5,166.5 181.3,171.8 182.2,173.9 183.0,175.5 183.8,176.9 184.6,178.2 185.5,179.3 186.3,180.4 187.1,181.4 188.0,182.4 188.8,183.3 189.6,184.2 190.4,185.1 191.3,185.9 192.1,186.7 192.9,187.5 193.8,188.2 194.6,189.0 195.4,189.7 196.2,190.4 197.1,191.1 197.9,191.8 198.7,192.5 199.5,193.1 200.4,193.8 201.2,194.4 202.0,195.0 202.9,195.6 203.7,196.2 204.5,196.8 205.3,197.4 211.3,201.5 217.2,205.2 223.2,208.8 229.1,212.1 235.1,215.4 241.1,218.4 247.0,221.4 253.0,224.3 258.9,227.1 264.9,229.8 270.8,232.4 276.8,235.0 282.7,237.5 288.7,240.0 294.6,242.4 300.6,244.8 306.5,247.1 312.5,249.4 318.4,251.6 324.4,253.8 330.3,256.0 336.3,258.1 342.2,260.2 348.2,262.3 354.1,264.3 360.1,266.4 366.0,268.4 372.0,270.3 377.9,272.3 383.9,274.2 389.8,276.1 395.8,278.0 401.7,279.9 407.7,281.7 413.6,283.5 419.6,285.3 425.5,287.1 431.5,288.9 437.4,290.7 443.4,292.4 449.3,294.1 455.3,295.8 461.2,297.5 467.2,299.2 473.1,300.9 479.1,302.5 485.0,304.2 491.0,305.8 496.9,307.4 502.9,309.0 508.8,310.6 514.8,312.2 520.7,313.7 526.7,315.3 532.6,316.8 538.6,318.4 544.5,319.9 550.5,321.4 556.4,322.9 562.4,324.4 568.3,325.9 574.3,327.4 580.3,328.9 586.2,330.4 592.2,331.8 598.1,333.3 604.1,334.7 610.0,336.1 616.0,337.5 621.9,338.9 627.9,340.3 633.8,341.7 639.8,343.0 645.7,344.4 651.7,345.7 657.6,347.0 663.6,348.3 669.5,349.6 675.5,350.9 681.4,352.1 687.4,353.4 693.3,354.6 699.3,355.8 705.2,357.0 711.2,358.2 717.1,359.4 723.1,360.6 729.0,361.8 735.0,363.0 740.9,364.1 746.9,365.3 752.8,366.5 758.8,367.7 764.7,368.9 770.7,370.1 776.6,371.3 782.6,372.5 788.5,373.7 794.5,375.0 800.4,376.2 806.4,377.5 812.3,378.7 818.3,380.0 824.2,381.3 830.2,382.6 836.1,384.0 842.1,385.3 848.0,386.7 854.0,388.0 859.9,389.4 865.9,390.9 871.8,392.3 877.8,393.8 883.7,395.2 889.7,396.7 895.6,398.3 901.6,399.8 907.5,401.4 913.5,403.0"/>
<circle cx="180.5" cy="166.5" r="6.9" stroke="none"/><circle cx="182.2" cy="171.5" r="6.9" stroke="none"/><circle cx="186.3" cy="176.8" r="6.9" stroke="none"/><circle cx="191.8" cy="185.8" r="6.9" stroke="none"/><circle cx="202.7" cy="197.0" r="6.9" stroke="none"/><circle cx="212.8" cy="205.2" r="6.9" stroke="none"/><circle cx="223.6" cy="212.3" r="6.9" stroke="none"/><circle cx="246.8" cy="223.1" r="6.9" stroke="none"/><circle cx="268.7" cy="231.9" r="6.9" stroke="none"/><circle cx="290.6" cy="239.4" r="6.9" stroke="none"/><circle cx="313.8" cy="248.1" r="6.9" stroke="none"/><circle cx="335.0" cy="256.7" r="6.9" stroke="none"/><circle cx="356.9" cy="265.5" r="6.9" stroke="none"/><circle cx="379.3" cy="273.6" r="6.9" stroke="none"/><circle cx="400.8" cy="280.3" r="6.9" stroke="none"/><circle cx="423.2" cy="286.9" r="6.9" stroke="none"/><circle cx="444.7" cy="293.3" r="6.9" stroke="none"/><circle cx="466.6" cy="298.5" r="6.9" stroke="none"/><circle cx="491.1" cy="303.8" r="6.9" stroke="none"/><circle cx="512.8" cy="309.9" r="6.9" stroke="none"/><circle cx="535.0" cy="316.0" r="6.9" stroke="none"/><circle cx="556.7" cy="321.2" r="6.9" stroke="none"/><circle cx="579.4" cy="327.7" r="6.9" stroke="none"/><circle cx="602.0" cy="334.1" r="6.9" stroke="none"/><circle cx="623.9" cy="339.2" r="6.9" stroke="none"/><circle cx="645.4" cy="344.4" r="6.9" stroke="none"/><circle cx="667.5" cy="348.9" r="6.9" stroke="none"/><circle cx="687.6" cy="352.3" r="6.9" stroke="none"/><circle cx="703.1" cy="355.6" r="6.9" stroke="none"/><circle cx="725.9" cy="360.4" r="6.9" stroke="none"/><circle cx="766.9" cy="367.6" r="6.9" stroke="none"/><circle cx="809.9" cy="376.9" r="6.9" stroke="none"/><circle cx="843.0" cy="386.0" r="6.9" stroke="none"/><circle cx="876.2" cy="394.3" r="6.9" stroke="none"/><circle cx="913.4" cy="403.7" r="6.9" stroke="none"/>
<polyline fill="none" points="180.5,166.5 181.3,172.3 182.2,174.5 183.0,176.2 183.8,177.6 184.6,178.9 185.5,180.1 186.3,181.2 187.1,182.3 188.0,183.3 188.8,184.2 189.6,185.1 190.4,186.0 191.3,186.8 192.1,187.6 192.9,188.4 193.8,189.2 194.6,189.9 195.4,190.6 196.2,191.4 197.1,192.1 197.9,192.7 198.7,193.4 199.5,194.1 200.4,194.7 201.2,195.4 202.0,196.0 202.9,196.6 203.7,197.2 204.5,197.8 205.3,198.4 211.3,202.5 217.2,206.2 223.2,209.8 229.1,213.1 235.1,216.3 241.1,219.4 247.0,222.4 253.0,225.2 258.9,228.0 264.9,230.7 270.8,233.4 276.8,236.0 282.7,238.5 288.7,241.0 294.6,243.4 300.6,245.8 306.5,248.1 312.5,250.4 318.4,252.7 324.4,254.9 330.3,257.1 336.3,259.2 342.2,261.4 348.2,263.5 354.1,265.5 360.1,267.6 366.0,269.6 372.0,271.6 377.9,273.6 383.9,275.6 389.8,277.5 395.8,279.4 401.7,281.3 407.7,283.2 413.6,285.1 419.6,286.9 425.5,288.7 431.5,290.5 437.4,292.3 443.4,294.1 449.3,295.9 455.3,297.6 461.2,299.4 467.2,301.1 473.1,302.8 479.1,304.5 485.0,306.2 491.0,307.9 496.9,309.6 502.9,311.2 508.8,312.8 514.8,314.5 520.7,316.1 526.7,317.7 532.6,319.3 538.6,320.8 544.5,322.4 550.5,323.9 556.4,325.5 562.4,327.0 568.3,328.5 574.3,330.0 580.3,331.5 586.2,332.9 592.2,334.4 598.1,335.8 604.1,337.3 610.0,338.7 616.0,340.1 621.9,341.5 627.9,342.8 633.8,344.2 639.8,345.6 645.7,346.9 651.7,348.2 657.6,349.6 663.6,350.9 669.5,352.2 675.5,353.5 681.4,354.7 687.4,356.0 693.3,357.2 699.3,358.5 705.2,359.7 711.2,361.0 717.1,362.2 723.1,363.4 729.0,364.7 735.0,365.9 740.9,367.2 746.9,368.4 752.8,369.7 758.8,370.9 764.7,372.2 770.7,373.5 776.6,374.7 782.6,376.0 788.5,377.4 794.5,378.7 800.4,380.0 806.4,381.4 812.3,382.7 818.3,384.1 824.2,385.5 830.2,386.9 836.1,388.4 842.1,389.8 848.0,391.3 854.0,392.8 859.9,394.3 865.9,395.8 871.8,397.4 877.8,399.0 883.7,400.6 889.7,402.2 895.6,403.9 901.6,405.6 907.5,407.3 913.5,409.0"/>
<circle cx="180.5" cy="166.5" r="6.9" stroke="none"/><circle cx="182.2" cy="172.0" r="6.9" stroke="none"/><circle cx="186.3" cy="178.2" r="6.9" stroke="none"/><circle cx="191.8" cy="187.0" r="6.9" stroke="none"/><circle cx="202.7" cy="198.0" r="6.9" stroke="none"/><circle cx="212.8" cy="205.9" r="6.9" stroke="none"/><circle cx="223.6" cy="213.0" r="6.9" stroke="none"/><circle cx="246.8" cy="223.8" r="6.9" stroke="none"/><circle cx="268.7" cy="233.1" r="6.9" stroke="none"/><circle cx="290.6" cy="241.7" r="6.9" stroke="none"/><circle cx="313.8" cy="251.6" r="6.9" stroke="none"/><circle cx="335.0" cy="259.0" r="6.9" stroke="none"/><circle cx="356.9" cy="266.6" r="6.9" stroke="none"/><circle cx="379.3" cy="275.3" r="6.9" stroke="none"/><circle cx="400.8" cy="283.2" r="6.9" stroke="none"/><circle cx="423.2" cy="289.9" r="6.9" stroke="none"/><circle cx="444.7" cy="294.9" r="6.9" stroke="none"/><circle cx="466.6" cy="300.5" r="6.9" stroke="none"/><circle cx="491.1" cy="307.6" r="6.9" stroke="none"/><circle cx="512.8" cy="313.7" r="6.9" stroke="none"/><circle cx="535.0" cy="319.8" r="6.9" stroke="none"/><circle cx="556.7" cy="325.8" r="6.9" stroke="none"/><circle cx="579.4" cy="330.8" r="6.9" stroke="none"/><circle cx="602.0" cy="335.7" r="6.9" stroke="none"/><circle cx="623.9" cy="340.3" r="6.9" stroke="none"/><circle cx="645.4" cy="344.6" r="6.9" stroke="none"/><circle cx="667.5" cy="349.8" r="6.9" stroke="none"/><circle cx="687.6" cy="355.4" r="6.9" stroke="none"/><circle cx="703.1" cy="359.3" r="6.9" stroke="none"/><circle cx="725.9" cy="363.5" r="6.9" stroke="none"/><circle cx="766.9" cy="371.8" r="6.9" stroke="none"/><circle cx="809.9" cy="381.7" r="6.9" stroke="none"/><circle cx="843.0" cy="390.5" r="6.9" stroke="none"/><circle cx="876.2" cy="399.7" r="6.9" stroke="none"/><circle cx="913.4" cy="410.1" r="6.9" stroke="none"/>
</g>
<g stroke="#feeb9e" fill="#feeb9e" stroke-width="8.33">
<polyline fill="none" points="180.5,166.5 181.3,170.2 182.2,172.4 183.0,174.4 183.8,176.2 184.6,177.8 185.5,179.4 186.3,180.8 187.1,182.2 188.0,183.5 188.8,184.8 189.6,186.1 190.4,187.3 191.3,188.4 192.1,189.6 192.9,190.7 193.8,191.8 194.6,192.8 195.4,193.9 196.2,194.9 197.1,195.9 197.9,196.8 198.7,197.8 199.5,198.7 200.4,199.6 201.2,200.5 202.0,201.4 202.9,202.3 203.7,203.1 204.5,204.0 205.3,204.8 211.3,210.5 217.2,215.6 223.2,220.3 229.1,224.7 235.1,228.8 241.1,232.6 247.0,236.1 253.0,239.5 258.9,242.7 264.9,245.7 270.8,248.6 276.8,251.4 282.7,254.1 288.7,256.7 294.6,259.3 300.6,261.8 306.5,264.2 312.5,266.6 318.4,269.0 324.4,271.3 330.3,273.7 336.3,276.0 342.2,278.2 348.2,280.5 354.1,282.8 360.1,285.0 366.0,287.2 372.0,289.5 377.9,291.7 383.9,293.9 389.8,296.2 395.8,298.4 401.7,300.6 407.7,302.8 413.6,305.1 419.6,307.3 425.5,309.5 431.5,311.8 437.4,314.0 443.4,316.3 449.3,318.5 455.3,320.7 461.2,322.9 467.2,325.1 473.1,327.3 479.1,329.5 485.0,331.6 491.0,333.7 496.9,335.8 502.9,337.8 508.8,339.8 514.8,341.8 520.7,343.7 526.7,345.7 532.6,347.5 538.6,349.4 544.5,351.2 550.5,353.0 556.4,354.8 562.4,356.6 568.3,358.3 574.3,360.0 580.3,361.7 586.2,363.4 592.2,365.0 598.1,366.6 604.1,368.3 610.0,369.9 616.0,371.4 621.9,373.0 627.9,374.5 633.8,376.1 639.8,377.6 645.7,379.1 651.7,380.6 657.6,382.1 663.6,383.5 669.5,385.0 675.5,386.4 681.4,387.9 687.4,389.3 693.3,390.7 699.3,392.1 705.2,393.5 711.2,394.9 717.1,396.3 723.1,397.7 729.0,399.1 735.0,400.4 740.9,401.8 746.9,403.2 752.8,404.5 758.8,405.9 764.7,407.3 770.7,408.6 776.6,410.0 782.6,411.4 788.5,412.7 794.5,414.1 800.4,415.5 806.4,416.9 812.3,418.2 818.3,419.6 824.2,421.0 830.2,422.4 836.1,423.8 842.1,425.2 848.0,426.6 854.0,428.0 859.9,429.4 865.9,430.8 871.8,432.3 877.8,433.7 883.7,435.2 889.7,436.6 895.6,438.1 901.6,439.5 907.5,441.0 913.5,442.5"/>
<polyline fill="none" points="180.5,166.5 181.3,169.4 182.2,171.5 183.0,173.3 183.8,175.0 184.6,176.6 185.5,178.1 186.3,179.5 187.1,180.9 188.0,182.2 188.8,183.5 189.6,184.7 190.4,185.9 191.3,187.0 192.1,188.1 192.9,189.2 193.8,190.3 194.6,191.3 195.4,192.4 196.2,193.4 197.1,194.3 197.9,195.3 198.7,196.2 199.5,197.2 200.4,198.1 201.2,199.0 202.0,199.8 202.9,200.7 203.7,201.5 204.5,202.4 205.3,203.2 211.3,208.8 217.2,213.8 223.2,218.5 229.1,222.8 235.1,226.8 241.1,230.5 247.0,234.0 253.0,237.2 258.9,240.3 264.9,243.2 270.8,245.9 276.8,248.6 282.7,251.2 288.7,253.7 294.6,256.1 300.6,258.5 306.5,260.9 312.5,263.2 318.4,265.5 324.4,267.8 330.3,270.0 336.3,272.2 342.2,274.4 348.2,276.7 354.1,278.9 360.1,281.1 366.0,283.3 372.0,285.5 377.9,287.7 383.9,289.9 389.8,292.1 395.8,294.3 401.7,296.5 407.7,298.8 413.6,301.0 419.6,303.3 425.5,305.5 431.5,307.8 437.4,310.1 443.4,312.4 449.3,314.6 455.3,316.9 461.2,319.2 467.2,321.4 473.1,323.6 479.1,325.8 485.0,328.0 491.0,330.1 496.9,332.2 502.9,334.3 508.8,336.3 514.8,338.3 520.7,340.2 526.7,342.2 532.6,344.0 538.6,345.9 544.5,347.7 550.5,349.5 556.4,351.3 562.4,353.0 568.3,354.7 574.3,356.4 580.3,358.1 586.2,359.7 592.2,361.3 598.1,362.9 604.1,364.5 610.0,366.1 616.0,367.6 621.9,369.1 627.9,370.7 633.8,372.2 639.8,373.6 645.7,375.1 651.7,376.6 657.6,378.0 663.6,379.4 669.5,380.9 675.5,382.3 681.4,383.7 687.4,385.1 693.3,386.5 699.3,387.9 705.2,389.2 711.2,390.6 717.1,392.0 723.1,393.3 729.0,394.7 735.0,396.0 740.9,397.4 746.9,398.7 752.8,400.1 758.8,401.4 764.7,402.8 770.7,404.1 776.6,405.5 782.6,406.9 788.5,408.2 794.5,409.6 800.4,410.9 806.4,412.3 812.3,413.7 818.3,415.1 824.2,416.4 830.2,417.8 836.1,419.2 842.1,420.6 848.0,422.0 854.0,423.4 859.9,424.9 865.9,426.3 871.8,427.7 877.8,429.2 883.7,430.6 889.7,432.1 895.6,433.5 901.6,435.0 907.5,436.5 913.5,438.0"/>
<circle cx="180.5" cy="166.5" r="6.9" stroke="none"/><circle cx="182.2" cy="168.5" r="6.9" stroke="none"/><circle cx="186.3" cy="175.0" r="6.9" stroke="none"/><circle cx="191.8" cy="186.8" r="6.9" stroke="none"/><circle cx="202.7" cy="202.3" r="6.9" stroke="none"/><circle cx="212.8" cy="213.1" r="6.9" stroke="none"/><circle cx="223.6" cy="222.7" r="6.9" stroke="none"/><circle cx="246.8" cy="236.2" r="6.9" stroke="none"/><circle cx="268.7" cy="245.5" r="6.9" stroke="none"/><circle cx="290.6" cy="255.5" r="6.9" stroke="none"/><circle cx="313.8" cy="265.4" r="6.9" stroke="none"/><circle cx="335.0" cy="273.2" r="6.9" stroke="none"/><circle cx="356.9" cy="281.5" r="6.9" stroke="none"/><circle cx="379.3" cy="290.5" r="6.9" stroke="none"/><circle cx="400.8" cy="297.4" r="6.9" stroke="none"/><circle cx="423.2" cy="305.0" r="6.9" stroke="none"/><circle cx="444.7" cy="313.5" r="6.9" stroke="none"/><circle cx="466.6" cy="321.4" r="6.9" stroke="none"/><circle cx="491.1" cy="329.8" r="6.9" stroke="none"/><circle cx="512.8" cy="338.4" r="6.9" stroke="none"/><circle cx="535.0" cy="345.6" r="6.9" stroke="none"/><circle cx="556.7" cy="351.2" r="6.9" stroke="none"/><circle cx="579.4" cy="358.5" r="6.9" stroke="none"/><circle cx="602.0" cy="364.6" r="6.9" stroke="none"/><circle cx="623.9" cy="368.8" r="6.9" stroke="none"/><circle cx="645.4" cy="372.9" r="6.9" stroke="none"/><circle cx="667.5" cy="378.9" r="6.9" stroke="none"/><circle cx="687.6" cy="385.3" r="6.9" stroke="none"/><circle cx="703.1" cy="363.0" r="6.9" stroke="none"/><circle cx="725.9" cy="394.4" r="6.9" stroke="none"/><circle cx="766.9" cy="403.8" r="6.9" stroke="none"/><circle cx="809.9" cy="413.8" r="6.9" stroke="none"/><circle cx="843.0" cy="421.9" r="6.9" stroke="none"/><circle cx="876.2" cy="429.0" r="6.9" stroke="none"/><circle cx="913.4" cy="437.0" r="6.9" stroke="none"/>
<polyline fill="none" points="180.5,166.5 181.3,171.0 182.2,173.4 183.0,175.5 183.8,177.3 184.6,179.0 185.5,180.6 186.3,182.1 187.1,183.5 188.0,184.9 188.8,186.2 189.6,187.5 190.4,188.7 191.3,189.9 192.1,191.0 192.9,192.2 193.8,193.3 194.6,194.3 195.4,195.4 196.2,196.4 197.1,197.4 197.9,198.4 198.7,199.3 199.5,200.3 200.4,201.2 201.2,202.1 202.0,203.0 202.9,203.9 203.7,204.7 204.5,205.6 205.3,206.4 211.3,212.1 217.2,217.3 223.2,222.1 229.1,226.6 235.1,230.8 241.1,234.7 247.0,238.3 253.0,241.8 258.9,245.1 264.9,248.2 270.8,251.2 276.8,254.2 282.7,257.0 288.7,259.7 294.6,262.4 300.6,265.0 306.5,267.5 312.5,270.0 318.4,272.5 324.4,274.9 330.3,277.3 336.3,279.7 342.2,282.0 348.2,284.4 354.1,286.7 360.1,289.0 366.0,291.2 372.0,293.5 377.9,295.7 383.9,298.0 389.8,300.2 395.8,302.5 401.7,304.7 407.7,306.9 413.6,309.1 419.6,311.3 425.5,313.6 431.5,315.8 437.4,318.0 443.4,320.2 449.3,322.4 455.3,324.6 461.2,326.7 467.2,328.9 473.1,331.0 479.1,333.1 485.0,335.2 491.0,337.3 496.9,339.3 502.9,341.3 508.8,343.3 514.8,345.3 520.7,347.2 526.7,349.1 532.6,351.0 538.6,352.9 544.5,354.7 550.5,356.6 556.4,358.3 562.4,360.1 568.3,361.9 574.3,363.6 580.3,365.3 586.2,367.0 592.2,368.7 598.1,370.4 604.1,372.0 610.0,373.6 616.0,375.2 621.9,376.8 627.9,378.4 633.8,380.0 639.8,381.5 645.7,383.1 651.7,384.6 657.6,386.1 663.6,387.6 669.5,389.1 675.5,390.6 681.4,392.0 687.4,393.5 693.3,394.9 699.3,396.4 705.2,397.8 711.2,399.2 717.1,400.6 723.1,402.0 729.0,403.4 735.0,404.8 740.9,406.2 746.9,407.6 752.8,409.0 758.8,410.4 764.7,411.7 770.7,413.1 776.6,414.5 782.6,415.9 788.5,417.2 794.5,418.6 800.4,420.0 806.4,421.4 812.3,422.8 818.3,424.2 824.2,425.6 830.2,426.9 836.1,428.3 842.1,429.7 848.0,431.1 854.0,432.6 859.9,434.0 865.9,435.4 871.8,436.8 877.8,438.3 883.7,439.7 889.7,441.1 895.6,442.6 901.6,444.1 907.5,445.5 913.5,447.0"/>
<circle cx="180.5" cy="166.5" r="6.9" stroke="none"/><circle cx="182.2" cy="170.4" r="6.9" stroke="none"/><circle cx="186.3" cy="177.6" r="6.9" stroke="none"/><circle cx="191.8" cy="189.7" r="6.9" stroke="none"/><circle cx="202.7" cy="205.5" r="6.9" stroke="none"/><circle cx="212.8" cy="216.5" r="6.9" stroke="none"/><circle cx="223.6" cy="226.4" r="6.9" stroke="none"/><circle cx="246.8" cy="240.6" r="6.9" stroke="none"/><circle cx="268.7" cy="250.7" r="6.9" stroke="none"/><circle cx="290.6" cy="261.6" r="6.9" stroke="none"/><circle cx="313.8" cy="272.2" r="6.9" stroke="none"/><circle cx="335.0" cy="280.6" r="6.9" stroke="none"/><circle cx="356.9" cy="289.4" r="6.9" stroke="none"/><circle cx="379.3" cy="298.6" r="6.9" stroke="none"/><circle cx="400.8" cy="305.6" r="6.9" stroke="none"/><circle cx="423.2" cy="313.0" r="6.9" stroke="none"/><circle cx="444.7" cy="321.3" r="6.9" stroke="none"/><circle cx="466.6" cy="328.9" r="6.9" stroke="none"/><circle cx="491.1" cy="337.0" r="6.9" stroke="none"/><circle cx="512.8" cy="345.4" r="6.9" stroke="none"/><circle cx="535.0" cy="352.6" r="6.9" stroke="none"/><circle cx="556.7" cy="358.2" r="6.9" stroke="none"/><circle cx="579.4" cy="365.8" r="6.9" stroke="none"/><circle cx="602.0" cy="372.1" r="6.9" stroke="none"/><circle cx="623.9" cy="376.5" r="6.9" stroke="none"/><circle cx="645.4" cy="380.9" r="6.9" stroke="none"/><circle cx="667.5" cy="387.1" r="6.9" stroke="none"/><circle cx="687.6" cy="393.7" r="6.9" stroke="none"/><circle cx="703.1" cy="371.6" r="6.9" stroke="none"/><circle cx="725.9" cy="403.1" r="6.9" stroke="none"/><circle cx="766.9" cy="412.7" r="6.9" stroke="none"/><circle cx="809.9" cy="422.9" r="6.9" stroke="none"/><circle cx="843.0" cy="431.0" r="6.9" stroke="none"/><circle cx="876.2" cy="438.1" r="6.9" stroke="none"/><circle cx="913.4" cy="446.0" r="6.9" stroke="none"/>
</g>
<g stroke="#fdd884" fill="#fdd884" stroke-width="8.33">
<polyline fill="none" points="180.5,166.5 181.3,174.5 182.2,177.8 183.0,180.3 183.8,182.6 184.6,184.5 185.5,186.3 186.3,188.0 187.1,189.6 188.0,191.1 188.8,192.5 189.6,193.9 190.4,195.2 191.3,196.5 192.1,197.7 192.9,198.9 193.8,200.0 194.6,201.1 195.4,202.2 196.2,203.3 197.1,204.3 197.9,205.4 198.7,206.4 199.5,207.3 200.4,208.3 201.2,209.2 202.0,210.2 202.9,211.1 203.7,212.0 204.5,212.8 205.3,213.7 211.3,219.6 217.2,224.9 223.2,229.8 229.1,234.4 235.1,238.8 241.1,242.8 247.0,246.7 253.0,250.4 258.9,253.9 264.9,257.3 270.8,260.6 276.8,263.7 282.7,266.8 288.7,269.8 294.6,272.7 300.6,275.5 306.5,278.2 312.5,280.9 318.4,283.6 324.4,286.2 330.3,288.7 336.3,291.2 342.2,293.7 348.2,296.1 354.1,298.5 360.1,300.9 366.0,303.2 372.0,305.5 377.9,307.8 383.9,310.1 389.8,312.3 395.8,314.5 401.7,316.7 407.7,318.9 413.6,321.1 419.6,323.2 425.5,325.4 431.5,327.5 437.4,329.6 443.4,331.6 449.3,333.7 455.3,335.7 461.2,337.8 467.2,339.8 473.1,341.8 479.1,343.8 485.0,345.7 491.0,347.7 496.9,349.6 502.9,351.5 508.8,353.4 514.8,355.3 520.7,357.2 526.7,359.0 532.6,360.9 538.6,362.7 544.5,364.5 550.5,366.3 556.4,368.1 562.4,369.8 568.3,371.5 574.3,373.3 580.3,375.0 586.2,376.7 592.2,378.4 598.1,380.0 604.1,381.7 610.0,383.3 616.0,384.9 621.9,386.5 627.9,388.1 633.8,389.7 639.8,391.2 645.7,392.8 651.7,394.3 657.6,395.8 663.6,397.3 669.5,398.8 675.5,400.3 681.4,401.7 687.4,403.2 693.3,404.6 699.3,406.0 705.2,407.4 711.2,408.8 717.1,410.2 723.1,411.6 729.0,413.0 735.0,414.4 740.9,415.8 746.9,417.2 752.8,418.6 758.8,420.0 764.7,421.4 770.7,422.8 776.6,424.2 782.6,425.6 788.5,427.0 794.5,428.4 800.4,429.8 806.4,431.3 812.3,432.7 818.3,434.2 824.2,435.7 830.2,437.2 836.1,438.7 842.1,440.2 848.0,441.7 854.0,443.2 859.9,444.8 865.9,446.3 871.8,447.9 877.8,449.5 883.7,451.1 889.7,452.8 895.6,454.4 901.6,456.1 907.5,457.8 913.5,459.5"/>
<polyline fill="none" points="180.5,166.5 181.3,173.2 182.2,176.2 183.0,178.7 183.8,180.8 184.6,182.8 185.5,184.6 186.3,186.2 187.1,187.8 188.0,189.3 188.8,190.8 189.6,192.2 190.4,193.5 191.3,194.8 192.1,196.0 192.9,197.2 193.8,198.4 194.6,199.6 195.4,200.7 196.2,201.8 197.1,202.8 197.9,203.9 198.7,204.9 199.5,205.9 200.4,206.9 201.2,207.8 202.0,208.8 202.9,209.7 203.7,210.6 204.5,211.5 205.3,212.4 211.3,218.3 217.2,223.8 223.2,228.7 229.1,233.3 235.1,237.6 241.1,241.6 247.0,245.4 253.0,248.9 258.9,252.3 264.9,255.5 270.8,258.6 276.8,261.6 282.7,264.5 288.7,267.3 294.6,270.0 300.6,272.6 306.5,275.2 312.5,277.7 318.4,280.2 324.4,282.7 330.3,285.1 336.3,287.5 342.2,289.8 348.2,292.2 354.1,294.5 360.1,296.8 366.0,299.0 372.0,301.3 377.9,303.5 383.9,305.8 389.8,308.0 395.8,310.2 401.7,312.4 407.7,314.6 413.6,316.8 419.6,318.9 425.5,321.1 431.5,323.3 437.4,325.5 443.4,327.6 449.3,329.8 455.3,331.9 461.2,334.1 467.2,336.2 473.1,338.3 479.1,340.4 485.0,342.5 491.0,344.5 496.9,346.6 502.9,348.6 508.8,350.6 514.8,352.6 520.7,354.6 526.7,356.6 532.6,358.5 538.6,360.4 544.5,362.3 550.5,364.2 556.4,366.1 562.4,367.9 568.3,369.8 574.3,371.6 580.3,373.4 586.2,375.1 592.2,376.9 598.1,378.6 604.1,380.3 610.0,382.0 616.0,383.6 621.9,385.2 627.9,386.9 633.8,388.5 639.8,390.0 645.7,391.6 651.7,393.1 657.6,394.6 663.6,396.1 669.5,397.5 675.5,399.0 681.4,400.4 687.4,401.8 693.3,403.2 699.3,404.5 705.2,405.9 711.2,407.2 717.1,408.5 723.1,409.9 729.0,411.2 735.0,412.5 740.9,413.8 746.9,415.1 752.8,416.4 758.8,417.8 764.7,419.1 770.7,420.4 776.6,421.8 782.6,423.1 788.5,424.5 794.5,425.9 800.4,427.3 806.4,428.7 812.3,430.1 818.3,431.6 824.2,433.0 830.2,434.5 836.1,436.0 842.1,437.6 848.0,439.1 854.0,440.7 859.9,442.3 865.9,443.9 871.8,445.6 877.8,447.3 883.7,449.0 889.7,450.7 895.6,452.5 901.6,454.3 907.5,456.1 913.5,458.0"/>
<circle cx="180.5" cy="166.5" r="6.9" stroke="none"/><circle cx="182.2" cy="172.6" r="6.9" stroke="none"/><circle cx="186.3" cy="180.8" r="6.9" stroke="none"/><circle cx="191.8" cy="194.3" r="6.9" stroke="none"/><circle cx="202.7" cy="211.6" r="6.9" stroke="none"/><circle cx="212.8" cy="223.4" r="6.9" stroke="none"/><circle cx="223.6" cy="233.5" r="6.9" stroke="none"/><circle cx="246.8" cy="248.0" r="6.9" stroke="none"/><circle cx="268.7" cy="258.8" r="6.9" stroke="none"/><circle cx="290.6" cy="269.4" r="6.9" stroke="none"/><circle cx="313.8" cy="278.9" r="6.9" stroke="none"/><circle cx="335.0" cy="288.0" r="6.9" stroke="none"/><circle cx="356.9" cy="296.7" r="6.9" stroke="none"/><circle cx="379.3" cy="304.4" r="6.9" stroke="none"/><circle cx="400.8" cy="300.2" r="6.9" stroke="none"/><circle cx="423.2" cy="320.6" r="6.9" stroke="none"/><circle cx="444.7" cy="327.5" r="6.9" stroke="none"/><circle cx="466.6" cy="334.9" r="6.9" stroke="none"/><circle cx="491.1" cy="343.1" r="6.9" stroke="none"/><circle cx="512.8" cy="351.3" r="6.9" stroke="none"/><circle cx="535.0" cy="359.5" r="6.9" stroke="none"/><circle cx="556.7" cy="366.8" r="6.9" stroke="none"/><circle cx="579.4" cy="374.0" r="6.9" stroke="none"/><circle cx="602.0" cy="380.0" r="6.9" stroke="none"/><circle cx="623.9" cy="385.0" r="6.9" stroke="none"/><circle cx="645.4" cy="391.2" r="6.9" stroke="none"/><circle cx="667.5" cy="397.9" r="6.9" stroke="none"/><circle cx="687.6" cy="402.3" r="6.9" stroke="none"/><circle cx="703.1" cy="404.4" r="6.9" stroke="none"/><circle cx="725.9" cy="407.9" r="6.9" stroke="none"/><circle cx="766.9" cy="417.5" r="6.9" stroke="none"/><circle cx="809.9" cy="429.8" r="6.9" stroke="none"/><circle cx="843.0" cy="439.6" r="6.9" stroke="none"/><circle cx="876.2" cy="448.5" r="6.9" stroke="none"/><circle cx="913.4" cy="458.4" r="6.9" stroke="none"/>
<polyline fill="none" points="180.5,166.5 181.3,175.9 182.2,179.3 183.0,182.0 183.8,184.3 184.6,186.3 185.5,188.1 186.3,189.8 187.1,191.4 188.0,192.8 188.8,194.3 189.6,195.6 190.4,196.9 191.3,198.1 192.1,199.3 192.9,200.5 193.8,201.6 194.6,202.7 195.4,203.8 196.2,204.8 197.1,205.9 197.9,206.9 198.7,207.8 199.5,208.8 200.4,209.7 201.2,210.6 202.0,211.5 202.9,212.4 203.7,213.3 204.5,214.2 205.3,215.0 211.3,220.8 217.2,226.0 223.2,230.9 229.1,235.6 235.1,239.9 241.1,244.1 247.0,248.1 253.0,251.9 258.9,255.6 264.9,259.1 270.8,262.5 276.8,265.9 282.7,269.1 288.7,272.3 294.6,275.3 300.6,278.3 306.5,281.3 312.5,284.1 318.4,286.9 324.4,289.7 330.3,292.3 336.3,295.0 342.2,297.6 348.2,300.1 354.1,302.6 360.1,305.0 366.0,307.4 372.0,309.8 377.9,312.1 383.9,314.4 389.8,316.7 395.8,318.9 401.7,321.1 407.7,323.3 413.6,325.4 419.6,327.5 425.5,329.6 431.5,331.6 437.4,333.7 443.4,335.7 449.3,337.6 455.3,339.6 461.2,341.5 467.2,343.4 473.1,345.3 479.1,347.2 485.0,349.0 491.0,350.9 496.9,352.7 502.9,354.5 508.8,356.3 514.8,358.0 520.7,359.8 526.7,361.5 532.6,363.2 538.6,365.0 544.5,366.7 550.5,368.3 556.4,370.0 562.4,371.7 568.3,373.3 574.3,375.0 580.3,376.6 586.2,378.2 592.2,379.8 598.1,381.4 604.1,383.0 610.0,384.6 616.0,386.2 621.9,387.8 627.9,389.3 633.8,390.9 639.8,392.4 645.7,394.0 651.7,395.5 657.6,397.0 663.6,398.5 669.5,400.0 675.5,401.5 681.4,403.0 687.4,404.5 693.3,406.0 699.3,407.5 705.2,409.0 711.2,410.4 717.1,411.9 723.1,413.4 729.0,414.8 735.0,416.3 740.9,417.8 746.9,419.2 752.8,420.7 758.8,422.2 764.7,423.6 770.7,425.1 776.6,426.5 782.6,428.0 788.5,429.5 794.5,430.9 800.4,432.4 806.4,433.9 812.3,435.3 818.3,436.8 824.2,438.3 830.2,439.8 836.1,441.3 842.1,442.7 848.0,444.2 854.0,445.7 859.9,447.2 865.9,448.7 871.8,450.3 877.8,451.8 883.7,453.3 889.7,454.8 895.6,456.3 901.6,457.9 907.5,459.4 913.5,461.0"/>
<circle cx="180.5" cy="166.5" r="6.9" stroke="none"/><circle cx="182.2" cy="176.0" r="6.9" stroke="none"/><circle cx="186.3" cy="184.9" r="6.9" stroke="none"/><circle cx="191.8" cy="198.0" r="6.9" stroke="none"/><circle cx="202.7" cy="214.4" r="6.9" stroke="none"/><circle cx="212.8" cy="225.5" r="6.9" stroke="none"/><circle cx="223.6" cy="235.5" r="6.9" stroke="none"/><circle cx="246.8" cy="250.3" r="6.9" stroke="none"/><circle cx="268.7" cy="261.7" r="6.9" stroke="none"/><circle cx="290.6" cy="275.1" r="6.9" stroke="none"/><circle cx="313.8" cy="287.1" r="6.9" stroke="none"/><circle cx="335.0" cy="295.5" r="6.9" stroke="none"/><circle cx="356.9" cy="303.9" r="6.9" stroke="none"/><circle cx="379.3" cy="311.4" r="6.9" stroke="none"/><circle cx="400.8" cy="329.2" r="6.9" stroke="none"/><circle cx="423.2" cy="328.9" r="6.9" stroke="none"/><circle cx="444.7" cy="336.1" r="6.9" stroke="none"/><circle cx="466.6" cy="343.0" r="6.9" stroke="none"/><circle cx="491.1" cy="350.8" r="6.9" stroke="none"/><circle cx="512.8" cy="357.4" r="6.9" stroke="none"/><circle cx="535.0" cy="364.5" r="6.9" stroke="none"/><circle cx="556.7" cy="370.4" r="6.9" stroke="none"/><circle cx="579.4" cy="376.5" r="6.9" stroke="none"/><circle cx="602.0" cy="383.1" r="6.9" stroke="none"/><circle cx="623.9" cy="388.5" r="6.9" stroke="none"/><circle cx="645.4" cy="393.2" r="6.9" stroke="none"/><circle cx="667.5" cy="398.8" r="6.9" stroke="none"/><circle cx="687.6" cy="405.0" r="6.9" stroke="none"/><circle cx="703.1" cy="409.6" r="6.9" stroke="none"/><circle cx="725.9" cy="415.6" r="6.9" stroke="none"/><circle cx="766.9" cy="425.8" r="6.9" stroke="none"/><circle cx="809.9" cy="435.7" r="6.9" stroke="none"/><circle cx="843.0" cy="442.3" r="6.9" stroke="none"/><circle cx="876.2" cy="450.0" r="6.9" stroke="none"/><circle cx="913.4" cy="460.3" r="6.9" stroke="none"/>
</g>
<g stroke="#fdb466" fill="#fdb466" stroke-width="8.33">
<polyline fill="none" points="180.5,166.5 181.3,178.5 182.2,183.6 183.0,187.6 183.8,191.0 184.6,194.1 185.5,196.9 186.3,199.5 187.1,202.0 188.0,204.3 188.8,206.5 189.6,208.6 190.4,210.6 191.3,212.5 192.1,214.4 192.9,216.2 193.8,218.0 194.6,219.7 195.4,221.3 196.2,222.9 197.1,224.5 197.9,226.0 198.7,227.5 199.5,229.0 200.4,230.4 201.2,231.8 202.0,233.1 202.9,234.5 203.7,235.8 204.5,237.1 205.3,238.3 211.3,246.8 217.2,254.3 223.2,261.1 229.1,267.3 235.1,273.0 241.1,278.2 247.0,283.1 253.0,287.6 258.9,291.8 264.9,295.7 270.8,299.4 276.8,303.0 282.7,306.4 288.7,309.6 294.6,312.7 300.6,315.7 306.5,318.5 312.5,321.3 318.4,324.0 324.4,326.6 330.3,329.2 336.3,331.7 342.2,334.1 348.2,336.5 354.1,338.9 360.1,341.2 366.0,343.4 372.0,345.6 377.9,347.8 383.9,350.0 389.8,352.1 395.8,354.3 401.7,356.3 407.7,358.4 413.6,360.5 419.6,362.5 425.5,364.5 431.5,366.5 437.4,368.5 443.4,370.5 449.3,372.5 455.3,374.4 461.2,376.4 467.2,378.3 473.1,380.2 479.1,382.1 485.0,384.0 491.0,385.9 496.9,387.8 502.9,389.6 508.8,391.5 514.8,393.3 520.7,395.2 526.7,397.0 532.6,398.8 538.6,400.6 544.5,402.4 550.5,404.2 556.4,406.0 562.4,407.8 568.3,409.6 574.3,411.3 580.3,413.1 586.2,414.8 592.2,416.6 598.1,418.3 604.1,420.0 610.0,421.8 616.0,423.5 621.9,425.2 627.9,426.9 633.8,428.6 639.8,430.3 645.7,432.0 651.7,433.7 657.6,435.3 663.6,437.0 669.5,438.7 675.5,440.3 681.4,442.0 687.4,443.6 693.3,445.3 699.3,446.9 705.2,448.5 711.2,450.1 717.1,451.7 723.1,453.3 729.0,454.9 735.0,456.4 740.9,457.9 746.9,459.5 752.8,460.9 758.8,462.4 764.7,463.8 770.7,465.3 776.6,466.6 782.6,468.0 788.5,469.3 794.5,470.7 800.4,471.9 806.4,473.2 812.3,474.4 818.3,475.6 824.2,476.8 830.2,477.9 836.1,479.0 842.1,480.0 848.0,481.1 854.0,482.1 859.9,483.0 865.9,484.0 871.8,484.8 877.8,485.7 883.7,486.5 889.7,487.3 895.6,488.0 901.6,488.7 907.5,489.4 913.5,490.0"/>
<circle cx="180.5" cy="166.5" r="6.9" stroke="none"/><circle cx="182.2" cy="178.7" r="6.9" stroke="none"/><circle cx="186.3" cy="192.3" r="6.9" stroke="none"/><circle cx="191.8" cy="212.2" r="6.9" stroke="none"/><circle cx="202.7" cy="236.9" r="6.9" stroke="none"/><circle cx="212.8" cy="253.3" r="6.9" stroke="none"/><circle cx="223.6" cy="266.9" r="6.9" stroke="none"/><circle cx="246.8" cy="286.5" r="6.9" stroke="none"/><circle cx="268.7" cy="300.0" r="6.9" stroke="none"/><circle cx="290.6" cy="311.2" r="6.9" stroke="none"/><circle cx="313.8" cy="321.3" r="6.9" stroke="none"/><circle cx="335.0" cy="329.6" r="6.9" stroke="none"/><circle cx="356.9" cy="339.0" r="6.9" stroke="none"/><circle cx="379.3" cy="346.5" r="6.9" stroke="none"/><circle cx="400.8" cy="353.3" r="6.9" stroke="none"/><circle cx="423.2" cy="360.1" r="6.9" stroke="none"/><circle cx="444.7" cy="366.4" r="6.9" stroke="none"/><circle cx="466.6" cy="375.7" r="6.9" stroke="none"/><circle cx="491.1" cy="385.0" r="6.9" stroke="none"/><circle cx="512.8" cy="391.5" r="6.9" stroke="none"/><circle cx="535.0" cy="398.0" r="6.9" stroke="none"/><circle cx="556.7" cy="396.5" r="6.9" stroke="none"/><circle cx="579.4" cy="402.9" r="6.9" stroke="none"/><circle cx="602.0" cy="410.7" r="6.9" stroke="none"/><circle cx="623.9" cy="417.5" r="6.9" stroke="none"/><circle cx="645.4" cy="429.5" r="6.9" stroke="none"/><circle cx="667.5" cy="437.5" r="6.9" stroke="none"/><circle cx="687.6" cy="444.0" r="6.9" stroke="none"/><circle cx="703.1" cy="448.9" r="6.9" stroke="none"/><circle cx="725.9" cy="455.6" r="6.9" stroke="none"/><circle cx="766.9" cy="468.3" r="6.9" stroke="none"/><circle cx="809.9" cy="479.4" r="6.9" stroke="none"/><circle cx="843.0" cy="486.6" r="6.9" stroke="none"/><circle cx="876.2" cy="492.4" r="6.9" stroke="none"/><circle cx="913.4" cy="491.5" r="6.9" stroke="none"/>
<polyline fill="none" points="180.5,166.5 181.3,178.3 182.2,183.2 183.0,187.0 183.8,190.3 184.6,193.3 185.5,195.9 186.3,198.4 187.1,200.8 188.0,203.0 188.8,205.1 189.6,207.1 190.4,209.0 191.3,210.8 192.1,212.6 192.9,214.3 193.8,216.0 194.6,217.6 195.4,219.2 196.2,220.7 197.1,222.2 197.9,223.6 198.7,225.0 199.5,226.4 200.4,227.8 201.2,229.1 202.0,230.4 202.9,231.6 203.7,232.9 204.5,234.1 205.3,235.3 211.3,243.3 217.2,250.5 223.2,257.0 229.1,262.9 235.1,268.3 241.1,273.3 247.0,278.0 253.0,282.4 258.9,286.4 264.9,290.3 270.8,293.9 276.8,297.3 282.7,300.6 288.7,303.8 294.6,306.8 300.6,309.7 306.5,312.5 312.5,315.3 318.4,317.9 324.4,320.5 330.3,323.0 336.3,325.5 342.2,327.9 348.2,330.2 354.1,332.5 360.1,334.8 366.0,337.0 372.0,339.2 377.9,341.4 383.9,343.5 389.8,345.6 395.8,347.7 401.7,349.8 407.7,351.8 413.6,353.9 419.6,355.9 425.5,357.9 431.5,359.8 437.4,361.8 443.4,363.7 449.3,365.7 455.3,367.6 461.2,369.5 467.2,371.4 473.1,373.3 479.1,375.2 485.0,377.0 491.0,378.9 496.9,380.7 502.9,382.6 508.8,384.4 514.8,386.2 520.7,388.0 526.7,389.8 532.6,391.6 538.6,393.4 544.5,395.2 550.5,397.0 556.4,398.8 562.4,400.5 568.3,402.3 574.3,404.0 580.3,405.8 586.2,407.5 592.2,409.2 598.1,411.0 604.1,412.7 610.0,414.4 616.0,416.1 621.9,417.8 627.9,419.5 633.8,421.2 639.8,422.9 645.7,424.6 651.7,426.3 657.6,428.0 663.6,429.7 669.5,431.3 675.5,433.0 681.4,434.7 687.4,436.3 693.3,438.0 699.3,439.6 705.2,441.3 711.2,442.9 717.1,444.5 723.1,446.1 729.0,447.7 735.0,449.2 740.9,450.8 746.9,452.3 752.8,453.8 758.8,455.3 764.7,456.7 770.7,458.2 776.6,459.6 782.6,460.9 788.5,462.3 794.5,463.6 800.4,464.9 806.4,466.2 812.3,467.4 818.3,468.6 824.2,469.8 830.2,470.9 836.1,472.0 842.1,473.1 848.0,474.1 854.0,475.1 859.9,476.1 865.9,477.0 871.8,477.9 877.8,478.8 883.7,479.6 889.7,480.3 895.6,481.1 901.6,481.8 907.5,482.4 913.5,483.0"/>
<circle cx="180.5" cy="166.5" r="6.9" stroke="none"/><circle cx="182.2" cy="178.9" r="6.9" stroke="none"/><circle cx="186.3" cy="192.4" r="6.9" stroke="none"/><circle cx="191.8" cy="211.0" r="6.9" stroke="none"/><circle cx="202.7" cy="234.4" r="6.9" stroke="none"/><circle cx="212.8" cy="250.3" r="6.9" stroke="none"/><circle cx="223.6" cy="263.4" r="6.9" stroke="none"/><circle cx="246.8" cy="282.1" r="6.9" stroke="none"/><circle cx="268.7" cy="295.0" r="6.9" stroke="none"/><circle cx="290.6" cy="306.0" r="6.9" stroke="none"/><circle cx="313.8" cy="315.9" r="6.9" stroke="none"/><circle cx="335.0" cy="324.0" r="6.9" stroke="none"/><circle cx="356.9" cy="333.3" r="6.9" stroke="none"/><circle cx="379.3" cy="340.7" r="6.9" stroke="none"/><circle cx="400.8" cy="346.4" r="6.9" stroke="none"/><circle cx="423.2" cy="352.2" r="6.9" stroke="none"/><circle cx="444.7" cy="360.2" r="6.9" stroke="none"/><circle cx="466.6" cy="369.4" r="6.9" stroke="none"/><circle cx="491.1" cy="378.6" r="6.9" stroke="none"/><circle cx="512.8" cy="385.0" r="6.9" stroke="none"/><circle cx="535.0" cy="391.7" r="6.9" stroke="none"/><circle cx="556.7" cy="397.0" r="6.9" stroke="none"/><circle cx="579.4" cy="404.3" r="6.9" stroke="none"/><circle cx="602.0" cy="411.5" r="6.9" stroke="none"/><circle cx="623.9" cy="418.4" r="6.9" stroke="none"/><circle cx="645.4" cy="425.1" r="6.9" stroke="none"/><circle cx="667.5" cy="431.1" r="6.9" stroke="none"/><circle cx="687.6" cy="437.3" r="6.9" stroke="none"/><circle cx="703.1" cy="442.2" r="6.9" stroke="none"/><circle cx="725.9" cy="448.9" r="6.9" stroke="none"/><circle cx="766.9" cy="460.3" r="6.9" stroke="none"/><circle cx="809.9" cy="470.5" r="6.9" stroke="none"/><circle cx="843.0" cy="477.8" r="6.9" stroke="none"/><circle cx="876.2" cy="481.5" r="6.9" stroke="none"/><circle cx="913.4" cy="483.9" r="6.9" stroke="none"/>
<polyline fill="none" points="180.5,166.5 181.3,178.0 182.2,182.7 183.0,186.4 183.8,189.5 184.6,192.3 185.5,194.9 186.3,197.2 187.1,199.4 188.0,201.5 188.8,203.5 189.6,205.4 190.4,207.3 191.3,209.0 192.1,210.7 192.9,212.3 193.8,213.9 194.6,215.4 195.4,216.9 196.2,218.4 197.1,219.8 197.9,221.1 198.7,222.5 199.5,223.8 200.4,225.1 201.2,226.3 202.0,227.6 202.9,228.8 203.7,230.0 204.5,231.1 205.3,232.3 211.3,239.9 217.2,246.7 223.2,252.9 229.1,258.5 235.1,263.8 241.1,268.6 247.0,273.1 253.0,277.3 258.9,281.2 264.9,284.9 270.8,288.5 276.8,291.8 282.7,295.0 288.7,298.1 294.6,301.1 300.6,303.9 306.5,306.7 312.5,309.4 318.4,312.0 324.4,314.5 330.3,317.0 336.3,319.4 342.2,321.8 348.2,324.1 354.1,326.4 360.1,328.7 366.0,330.9 372.0,333.0 377.9,335.2 383.9,337.3 389.8,339.4 395.8,341.5 401.7,343.5 407.7,345.5 413.6,347.5 419.6,349.5 425.5,351.5 431.5,353.4 437.4,355.4 443.4,357.3 449.3,359.2 455.3,361.1 461.2,363.0 467.2,364.9 473.1,366.8 479.1,368.6 485.0,370.5 491.0,372.3 496.9,374.2 502.9,376.0 508.8,377.8 514.8,379.6 520.7,381.4 526.7,383.2 532.6,385.0 538.6,386.7 544.5,388.5 550.5,390.3 556.4,392.0 562.4,393.8 568.3,395.5 574.3,397.2 580.3,399.0 586.2,400.7 592.2,402.4 598.1,404.1 604.1,405.8 610.0,407.6 616.0,409.3 621.9,411.0 627.9,412.6 633.8,414.3 639.8,416.0 645.7,417.7 651.7,419.4 657.6,421.1 663.6,422.7 669.5,424.4 675.5,426.1 681.4,427.7 687.4,429.4 693.3,431.0 699.3,432.7 705.2,434.3 711.2,435.9 717.1,437.5 723.1,439.1 729.0,440.7 735.0,442.2 740.9,443.8 746.9,445.3 752.8,446.8 758.8,448.3 764.7,449.7 770.7,451.2 776.6,452.6 782.6,453.9 788.5,455.3 794.5,456.6 800.4,457.9 806.4,459.2 812.3,460.4 818.3,461.6 824.2,462.8 830.2,463.9 836.1,465.0 842.1,466.1 848.0,467.1 854.0,468.1 859.9,469.1 865.9,470.0 871.8,470.9 877.8,471.7 883.7,472.6 889.7,473.3 895.6,474.1 901.6,474.8 907.5,475.4 913.5,476.0"/>
<circle cx="180.5" cy="166.5" r="6.9" stroke="none"/><circle cx="182.2" cy="178.4" r="6.9" stroke="none"/><circle cx="186.3" cy="191.2" r="6.9" stroke="none"/><circle cx="191.8" cy="209.1" r="6.9" stroke="none"/><circle cx="202.7" cy="231.6" r="6.9" stroke="none"/><circle cx="212.8" cy="246.8" r="6.9" stroke="none"/><circle cx="223.6" cy="259.3" r="6.9" stroke="none"/><circle cx="246.8" cy="277.1" r="6.9" stroke="none"/><circle cx="268.7" cy="289.7" r="6.9" stroke="none"/><circle cx="290.6" cy="300.3" r="6.9" stroke="none"/><circle cx="313.8" cy="310.0" r="6.9" stroke="none"/><circle cx="335.0" cy="318.0" r="6.9" stroke="none"/><circle cx="356.9" cy="327.2" r="6.9" stroke="none"/><circle cx="379.3" cy="334.5" r="6.9" stroke="none"/><circle cx="400.8" cy="340.2" r="6.9" stroke="none"/><circle cx="423.2" cy="345.9" r="6.9" stroke="none"/><circle cx="444.7" cy="353.8" r="6.9" stroke="none"/><circle cx="466.6" cy="362.9" r="6.9" stroke="none"/><circle cx="491.1" cy="372.0" r="6.9" stroke="none"/><circle cx="512.8" cy="378.4" r="6.9" stroke="none"/><circle cx="535.0" cy="385.0" r="6.9" stroke="none"/><circle cx="556.7" cy="390.3" r="6.9" stroke="none"/><circle cx="579.4" cy="397.5" r="6.9" stroke="none"/><circle cx="602.0" cy="404.7" r="6.9" stroke="none"/><circle cx="623.9" cy="411.5" r="6.9" stroke="none"/><circle cx="645.4" cy="418.2" r="6.9" stroke="none"/><circle cx="667.5" cy="424.1" r="6.9" stroke="none"/><circle cx="687.6" cy="430.3" r="6.9" stroke="none"/><circle cx="703.1" cy="435.2" r="6.9" stroke="none"/><circle cx="725.9" cy="442.0" r="6.9" stroke="none"/><circle cx="766.9" cy="453.3" r="6.9" stroke="none"/><circle cx="809.9" cy="463.5" r="6.9" stroke="none"/><circle cx="843.0" cy="470.8" r="6.9" stroke="none"/><circle cx="876.2" cy="474.5" r="6.9" stroke="none"/><circle cx="913.4" cy="476.9" r="6.9" stroke="none"/>
</g>
<g stroke="#f98e52" fill="#f98e52" stroke-width="8.33">
<polyline fill="none" points="180.5,166.5 181.3,183.3 182.2,189.9 183.0,195.0 183.8,199.4 184.6,203.2 185.5,206.7 186.3,210.0 187.1,213.0 188.0,215.8 188.8,218.5 189.6,221.1 190.4,223.5 191.3,225.9 192.1,228.1 192.9,230.3 193.8,232.4 194.6,234.4 195.4,236.4 196.2,238.3 197.1,240.2 197.9,242.0 198.7,243.8 199.5,245.5 200.4,247.2 201.2,248.8 202.0,250.5 202.9,252.0 203.7,253.6 204.5,255.1 205.3,256.6 211.3,266.4 217.2,275.2 223.2,283.1 229.1,290.2 235.1,296.7 241.1,302.7 247.0,308.2 253.0,313.3 258.9,318.1 264.9,322.5 270.8,326.7 276.8,330.8 282.7,334.6 288.7,338.3 294.6,341.8 300.6,345.3 306.5,348.6 312.5,351.9 318.4,355.1 324.4,358.3 330.3,361.4 336.3,364.4 342.2,367.4 348.2,370.4 354.1,373.4 360.1,376.3 366.0,379.2 372.0,382.1 377.9,385.0 383.9,387.8 389.8,390.6 395.8,393.4 401.7,396.1 407.7,398.8 413.6,401.5 419.6,404.2 425.5,406.8 431.5,409.4 437.4,411.9 443.4,414.5 449.3,417.0 455.3,419.4 461.2,421.9 467.2,424.3 473.1,426.7 479.1,429.1 485.0,431.4 491.0,433.7 496.9,436.0 502.9,438.2 508.8,440.5 514.8,442.7 520.7,444.8 526.7,447.0 532.6,449.1 538.6,451.2 544.5,453.3 550.5,455.3 556.4,457.4 562.4,459.4 568.3,461.3 574.3,463.3 580.3,465.2 586.2,467.1 592.2,469.0 598.1,470.9 604.1,472.8 610.0,474.6 616.0,476.4 621.9,478.2 627.9,480.0 633.8,481.7 639.8,483.5 645.7,485.2 651.7,486.9 657.6,488.6 663.6,490.3 669.5,491.9 675.5,493.5 681.4,495.2 687.4,496.8 693.3,498.4 699.3,499.9 705.2,501.5 711.2,503.0 717.1,504.6 723.1,506.1 729.0,507.6 735.0,509.1 740.9,510.5 746.9,512.0 752.8,513.4 758.8,514.8 764.7,516.3 770.7,517.7 776.6,519.1 782.6,520.4 788.5,521.8 794.5,523.1 800.4,524.5 806.4,525.8 812.3,527.1 818.3,528.4 824.2,529.7 830.2,531.0 836.1,532.2 842.1,533.5 848.0,534.7 854.0,536.0 859.9,537.2 865.9,538.4 871.8,539.6 877.8,540.8 883.7,541.9 889.7,543.1 895.6,544.3 901.6,545.4 907.5,546.5 913.5,547.7"/>
<circle cx="180.5" cy="166.5" r="6.9" stroke="none"/><circle cx="182.2" cy="185.4" r="6.9" stroke="none"/><circle cx="186.3" cy="203.3" r="6.9" stroke="none"/><circle cx="191.8" cy="225.4" r="6.9" stroke="none"/><circle cx="202.7" cy="253.5" r="6.9" stroke="none"/><circle cx="212.8" cy="271.8" r="6.9" stroke="none"/><circle cx="223.6" cy="287.1" r="6.9" stroke="none"/><circle cx="246.8" cy="310.4" r="6.9" stroke="none"/><circle cx="268.7" cy="326.5" r="6.9" stroke="none"/><circle cx="290.6" cy="339.9" r="6.9" stroke="none"/><circle cx="313.8" cy="352.1" r="6.9" stroke="none"/><circle cx="335.0" cy="361.9" r="6.9" stroke="none"/><circle cx="356.9" cy="372.4" r="6.9" stroke="none"/><circle cx="379.3" cy="383.8" r="6.9" stroke="none"/><circle cx="400.8" cy="394.8" r="6.9" stroke="none"/><circle cx="423.2" cy="404.2" r="6.9" stroke="none"/><circle cx="444.7" cy="414.1" r="6.9" stroke="none"/><circle cx="466.6" cy="424.1" r="6.9" stroke="none"/><circle cx="491.1" cy="433.1" r="6.9" stroke="none"/><circle cx="512.8" cy="440.7" r="6.9" stroke="none"/><circle cx="535.0" cy="449.6" r="6.9" stroke="none"/><circle cx="556.7" cy="458.1" r="6.9" stroke="none"/><circle cx="579.4" cy="465.0" r="6.9" stroke="none"/><circle cx="602.0" cy="473.0" r="6.9" stroke="none"/><circle cx="623.9" cy="479.1" r="6.9" stroke="none"/><circle cx="645.4" cy="484.8" r="6.9" stroke="none"/><circle cx="667.5" cy="492.0" r="6.9" stroke="none"/><circle cx="687.6" cy="498.0" r="6.9" stroke="none"/><circle cx="703.1" cy="501.5" r="6.9" stroke="none"/><circle cx="725.9" cy="506.8" r="6.9" stroke="none"/><circle cx="766.9" cy="516.2" r="6.9" stroke="none"/><circle cx="809.9" cy="525.4" r="6.9" stroke="none"/><circle cx="843.0" cy="533.1" r="6.9" stroke="none"/><circle cx="876.2" cy="540.4" r="6.9" stroke="none"/><circle cx="913.4" cy="546.7" r="6.9" stroke="none"/>
</g>
<g stroke="#f06744" fill="#f06744" stroke-width="8.33">
<polyline fill="none" points="180.5,166.5 181.3,186.8 182.2,193.8 183.0,199.2 183.8,203.6 184.6,207.4 185.5,210.9 186.3,214.1 187.1,217.0 188.0,219.7 188.8,222.3 189.6,224.8 190.4,227.1 191.3,229.3 192.1,231.5 192.9,233.5 193.8,235.5 194.6,237.4 195.4,239.3 196.2,241.1 197.1,242.8 197.9,244.5 198.7,246.2 199.5,247.8 200.4,249.4 201.2,250.9 202.0,252.4 202.9,253.9 203.7,255.4 204.5,256.8 205.3,258.2 211.3,267.5 217.2,275.8 223.2,283.3 229.1,290.3 235.1,296.7 241.1,302.7 247.0,308.3 253.0,313.6 258.9,318.6 264.9,323.4 270.8,327.9 276.8,332.3 282.7,336.5 288.7,340.6 294.6,344.5 300.6,348.3 306.5,352.0 312.5,355.6 318.4,359.1 324.4,362.6 330.3,365.9 336.3,369.2 342.2,372.4 348.2,375.6 354.1,378.7 360.1,381.8 366.0,384.8 372.0,387.8 377.9,390.7 383.9,393.6 389.8,396.4 395.8,399.2 401.7,402.0 407.7,404.7 413.6,407.4 419.6,410.1 425.5,412.8 431.5,415.4 437.4,417.9 443.4,420.5 449.3,423.0 455.3,425.5 461.2,428.0 467.2,430.4 473.1,432.9 479.1,435.3 485.0,437.7 491.0,440.0 496.9,442.4 502.9,444.7 508.8,447.0 514.8,449.3 520.7,451.5 526.7,453.8 532.6,456.0 538.6,458.2 544.5,460.4 550.5,462.6 556.4,464.7 562.4,466.9 568.3,469.0 574.3,471.1 580.3,473.2 586.2,475.2 592.2,477.3 598.1,479.3 604.1,481.4 610.0,483.4 616.0,485.4 621.9,487.3 627.9,489.3 633.8,491.2 639.8,493.2 645.7,495.1 651.7,497.0 657.6,498.8 663.6,500.7 669.5,502.6 675.5,504.4 681.4,506.2 687.4,508.0 693.3,509.8 699.3,511.6 705.2,513.4 711.2,515.1 717.1,516.8 723.1,518.6 729.0,520.3 735.0,522.0 740.9,523.7 746.9,525.3 752.8,527.0 758.8,528.6 764.7,530.2 770.7,531.9 776.6,533.5 782.6,535.1 788.5,536.6 794.5,538.2 800.4,539.8 806.4,541.3 812.3,542.8 818.3,544.3 824.2,545.8 830.2,547.3 836.1,548.8 842.1,550.3 848.0,551.7 854.0,553.2 859.9,554.6 865.9,556.0 871.8,557.4 877.8,558.8 883.7,560.2 889.7,561.6 895.6,563.0 901.6,564.3 907.5,565.7 913.5,567.0"/>
<circle cx="180.5" cy="166.5" r="6.9" stroke="none"/><circle cx="182.2" cy="187.8" r="6.9" stroke="none"/><circle cx="186.3" cy="205.0" r="6.9" stroke="none"/><circle cx="191.8" cy="227.6" r="6.9" stroke="none"/><circle cx="202.7" cy="256.0" r="6.9" stroke="none"/><circle cx="212.8" cy="274.5" r="6.9" stroke="none"/><circle cx="223.6" cy="289.8" r="6.9" stroke="none"/><circle cx="246.8" cy="312.6" r="6.9" stroke="none"/><circle cx="268.7" cy="329.4" r="6.9" stroke="none"/><circle cx="290.6" cy="343.4" r="6.9" stroke="none"/><circle cx="313.8" cy="357.0" r="6.9" stroke="none"/><circle cx="335.0" cy="368.2" r="6.9" stroke="none"/><circle cx="356.9" cy="379.3" r="6.9" stroke="none"/><circle cx="379.3" cy="389.8" r="6.9" stroke="none"/><circle cx="400.8" cy="399.5" r="6.9" stroke="none"/><circle cx="423.2" cy="409.0" r="6.9" stroke="none"/><circle cx="444.7" cy="418.0" r="6.9" stroke="none"/><circle cx="466.6" cy="426.6" r="6.9" stroke="none"/><circle cx="491.1" cy="435.3" r="6.9" stroke="none"/><circle cx="512.8" cy="443.1" r="6.9" stroke="none"/><circle cx="535.0" cy="450.7" r="6.9" stroke="none"/><circle cx="556.7" cy="455.8" r="6.9" stroke="none"/><circle cx="579.4" cy="463.4" r="6.9" stroke="none"/><circle cx="602.0" cy="470.5" r="6.9" stroke="none"/><circle cx="623.9" cy="479.1" r="6.9" stroke="none"/><circle cx="645.4" cy="485.2" r="6.9" stroke="none"/><circle cx="667.5" cy="491.9" r="6.9" stroke="none"/><circle cx="687.6" cy="497.7" r="6.9" stroke="none"/><circle cx="703.1" cy="501.8" r="6.9" stroke="none"/><circle cx="725.9" cy="508.4" r="6.9" stroke="none"/><circle cx="766.9" cy="548.6" r="6.9" stroke="none"/><circle cx="809.9" cy="559.0" r="6.9" stroke="none"/><circle cx="843.0" cy="565.6" r="6.9" stroke="none"/><circle cx="876.2" cy="571.5" r="6.9" stroke="none"/><circle cx="913.4" cy="577.8" r="6.9" stroke="none"/>
<polyline fill="none" points="180.5,166.5 181.3,186.0 182.2,192.9 183.0,198.1 183.8,202.4 184.6,206.2 185.5,209.6 186.3,212.7 187.1,215.6 188.0,218.3 188.8,220.9 189.6,223.3 190.4,225.6 191.3,227.8 192.1,229.9 192.9,231.9 193.8,233.8 194.6,235.7 195.4,237.6 196.2,239.3 197.1,241.1 197.9,242.7 198.7,244.4 199.5,246.0 200.4,247.5 201.2,249.0 202.0,250.5 202.9,251.9 203.7,253.4 204.5,254.7 205.3,256.1 211.3,265.2 217.2,273.3 223.2,280.6 229.1,287.3 235.1,293.6 241.1,299.4 247.0,304.9 253.0,310.0 258.9,314.9 264.9,319.6 270.8,324.0 276.8,328.3 282.7,332.5 288.7,336.5 294.6,340.3 300.6,344.1 306.5,347.8 312.5,351.3 318.4,354.8 324.4,358.2 330.3,361.5 336.3,364.8 342.2,368.0 348.2,371.2 354.1,374.3 360.1,377.3 366.0,380.3 372.0,383.3 377.9,386.2 383.9,389.1 389.8,391.9 395.8,394.8 401.7,397.5 407.7,400.3 413.6,403.0 419.6,405.6 425.5,408.3 431.5,410.9 437.4,413.5 443.4,416.0 449.3,418.6 455.3,421.1 461.2,423.5 467.2,426.0 473.1,428.4 479.1,430.8 485.0,433.2 491.0,435.6 496.9,437.9 502.9,440.3 508.8,442.6 514.8,444.9 520.7,447.1 526.7,449.4 532.6,451.6 538.6,453.8 544.5,456.0 550.5,458.2 556.4,460.4 562.4,462.5 568.3,464.6 574.3,466.7 580.3,468.8 586.2,470.9 592.2,473.0 598.1,475.0 604.1,477.0 610.0,479.0 616.0,481.0 621.9,483.0 627.9,485.0 633.8,486.9 639.8,488.8 645.7,490.8 651.7,492.7 657.6,494.6 663.6,496.4 669.5,498.3 675.5,500.1 681.4,501.9 687.4,503.8 693.3,505.6 699.3,507.3 705.2,509.1 711.2,510.9 717.1,512.6 723.1,514.3 729.0,516.0 735.0,517.7 740.9,519.4 746.9,521.1 752.8,522.8 758.8,524.4 764.7,526.1 770.7,527.7 776.6,529.3 782.6,530.9 788.5,532.5 794.5,534.0 800.4,535.6 806.4,537.1 812.3,538.7 818.3,540.2 824.2,541.7 830.2,543.2 836.1,544.7 842.1,546.2 848.0,547.6 854.0,549.1 859.9,550.5 865.9,552.0 871.8,553.4 877.8,554.8 883.7,556.2 889.7,557.6 895.6,558.9 901.6,560.3 907.5,561.6 913.5,563.0"/>
<circle cx="180.5" cy="166.5" r="6.9" stroke="none"/><circle cx="182.2" cy="187.4" r="6.9" stroke="none"/><circle cx="186.3" cy="204.9" r="6.9" stroke="none"/><circle cx="191.8" cy="226.6" r="6.9" stroke="none"/><circle cx="202.7" cy="254.7" r="6.9" stroke="none"/><circle cx="212.8" cy="272.7" r="6.9" stroke="none"/><circle cx="223.6" cy="287.7" r="6.9" stroke="none"/><circle cx="246.8" cy="309.8" r="6.9" stroke="none"/><circle cx="268.7" cy="326.1" r="6.9" stroke="none"/><circle cx="290.6" cy="339.9" r="6.9" stroke="none"/><circle cx="313.8" cy="353.3" r="6.9" stroke="none"/><circle cx="335.0" cy="364.4" r="6.9" stroke="none"/><circle cx="356.9" cy="375.4" r="6.9" stroke="none"/><circle cx="379.3" cy="386.0" r="6.9" stroke="none"/><circle cx="400.8" cy="395.6" r="6.9" stroke="none"/><circle cx="423.2" cy="405.1" r="6.9" stroke="none"/><circle cx="444.7" cy="414.2" r="6.9" stroke="none"/><circle cx="466.6" cy="422.8" r="6.9" stroke="none"/><circle cx="491.1" cy="431.7" r="6.9" stroke="none"/><circle cx="512.8" cy="439.3" r="6.9" stroke="none"/><circle cx="535.0" cy="446.3" r="6.9" stroke="none"/><circle cx="556.7" cy="454.1" r="6.9" stroke="none"/><circle cx="579.4" cy="461.7" r="6.9" stroke="none"/><circle cx="602.0" cy="468.9" r="6.9" stroke="none"/><circle cx="623.9" cy="475.5" r="6.9" stroke="none"/><circle cx="645.4" cy="481.9" r="6.9" stroke="none"/><circle cx="667.5" cy="488.2" r="6.9" stroke="none"/><circle cx="687.6" cy="493.8" r="6.9" stroke="none"/><circle cx="703.1" cy="497.8" r="6.9" stroke="none"/><circle cx="725.9" cy="504.2" r="6.9" stroke="none"/><circle cx="766.9" cy="542.4" r="6.9" stroke="none"/><circle cx="809.9" cy="553.0" r="6.9" stroke="none"/><circle cx="843.0" cy="559.9" r="6.9" stroke="none"/><circle cx="876.2" cy="566.1" r="6.9" stroke="none"/><circle cx="913.4" cy="573.3" r="6.9" stroke="none"/>
<polyline fill="none" points="180.5,166.5 181.3,185.7 182.2,192.5 183.0,197.6 183.8,201.8 184.6,205.5 185.5,208.8 186.3,211.9 187.1,214.7 188.0,217.3 188.8,219.8 189.6,222.1 190.4,224.4 191.3,226.5 192.1,228.5 192.9,230.5 193.8,232.4 194.6,234.2 195.4,236.0 196.2,237.7 197.1,239.4 197.9,241.0 198.7,242.6 199.5,244.2 200.4,245.7 201.2,247.1 202.0,248.6 202.9,250.0 203.7,251.4 204.5,252.7 205.3,254.0 211.3,262.8 217.2,270.7 223.2,277.8 229.1,284.4 235.1,290.4 241.1,296.1 247.0,301.4 253.0,306.5 258.9,311.3 264.9,315.8 270.8,320.2 276.8,324.4 282.7,328.5 288.7,332.4 294.6,336.2 300.6,339.9 306.5,343.5 312.5,347.1 318.4,350.5 324.4,353.9 330.3,357.2 336.3,360.4 342.2,363.6 348.2,366.7 354.1,369.8 360.1,372.9 366.0,375.9 372.0,378.8 377.9,381.7 383.9,384.6 389.8,387.5 395.8,390.3 401.7,393.0 407.7,395.8 413.6,398.5 419.6,401.1 425.5,403.8 431.5,406.4 437.4,409.0 443.4,411.6 449.3,414.1 455.3,416.6 461.2,419.1 467.2,421.6 473.1,424.0 479.1,426.4 485.0,428.8 491.0,431.2 496.9,433.6 502.9,435.9 508.8,438.2 514.8,440.5 520.7,442.8 526.7,445.0 532.6,447.3 538.6,449.5 544.5,451.7 550.5,453.9 556.4,456.1 562.4,458.2 568.3,460.4 574.3,462.5 580.3,464.6 586.2,466.7 592.2,468.7 598.1,470.8 604.1,472.8 610.0,474.8 616.0,476.8 621.9,478.8 627.9,480.8 633.8,482.7 639.8,484.7 645.7,486.6 651.7,488.5 657.6,490.4 663.6,492.3 669.5,494.1 675.5,496.0 681.4,497.8 687.4,499.6 693.3,501.4 699.3,503.2 705.2,505.0 711.2,506.8 717.1,508.5 723.1,510.2 729.0,512.0 735.0,513.7 740.9,515.4 746.9,517.0 752.8,518.7 758.8,520.4 764.7,522.0 770.7,523.6 776.6,525.2 782.6,526.8 788.5,528.4 794.5,530.0 800.4,531.6 806.4,533.1 812.3,534.6 818.3,536.2 824.2,537.7 830.2,539.2 836.1,540.7 842.1,542.2 848.0,543.6 854.0,545.1 859.9,546.5 865.9,547.9 871.8,549.4 877.8,550.8 883.7,552.2 889.7,553.6 895.6,554.9 901.6,556.3 907.5,557.6 913.5,559.0"/>

</g>
<g stroke="#de4a4d" fill="#de4a4d" stroke-width="8.33">
<polyline fill="none" points="180.5,166.5 181.3,170.1 182.2,171.5 183.0,172.6 183.8,173.6 184.6,174.4 185.5,175.2 186.3,176.0 187.1,176.7 188.0,177.4 188.8,178.0 189.6,178.6 190.4,179.2 191.3,179.8 192.1,180.4 192.9,181.0 193.8,181.5 194.6,182.1 195.4,182.6 196.2,183.1 197.1,183.6 197.9,184.1 198.7,184.6 199.5,185.1 200.4,185.6 201.2,186.1 202.0,186.6 202.9,187.1 203.7,187.6 204.5,188.0 205.3,188.5 211.3,191.7 217.2,194.9 223.2,197.9 229.1,200.8 235.1,203.7 241.1,206.5 247.0,209.3 253.0,212.1 258.9,214.8 264.9,217.5 270.8,220.2 276.8,222.9 282.7,225.5 288.7,228.2 294.6,230.8 300.6,233.4 306.5,236.0 312.5,238.6 318.4,241.2 324.4,243.7 330.3,246.3 336.3,248.9 342.2,251.4 348.2,254.0 354.1,256.5 360.1,259.1 366.0,261.6 372.0,264.1 377.9,266.7 383.9,269.2 389.8,271.7 395.8,274.2 401.7,276.7 407.7,279.3 413.6,281.8 419.6,284.3 425.5,286.8 431.5,289.3 437.4,291.8 443.4,294.3 449.3,296.8 455.3,299.3 461.2,301.9 467.2,304.4 473.1,306.9 479.1,309.4 485.0,311.9 491.0,314.4 496.9,316.9 502.9,319.4 508.8,321.9 514.8,324.4 520.7,326.9 526.7,329.4 532.6,331.9 538.6,334.4 544.5,336.9 550.5,339.4 556.4,341.9 562.4,344.4 568.3,346.9 574.3,349.4 580.3,351.9 586.2,354.4 592.2,357.0 598.1,359.5 604.1,362.0 610.0,364.5 616.0,367.0 621.9,369.5 627.9,372.0 633.8,374.5 639.8,377.0 645.7,379.6 651.7,382.1 657.6,384.6 663.6,387.1 669.5,389.6 675.5,392.1 681.4,394.7 687.4,397.2 693.3,399.7 699.3,402.2 705.2,404.7 711.2,407.3 717.1,409.8 723.1,412.3 729.0,414.8 735.0,417.4 740.9,419.9 746.9,422.4 752.8,425.0 758.8,427.5 764.7,430.0 770.7,432.6 776.6,435.1 782.6,437.6 788.5,440.2 794.5,442.7 800.4,445.2 806.4,447.8 812.3,450.3 818.3,452.9 824.2,455.4 830.2,457.9 836.1,460.5 842.1,463.0 848.0,465.6 854.0,468.1 859.9,470.7 865.9,473.2 871.8,475.8 877.8,478.3 883.7,480.9 889.7,483.4 895.6,486.0 901.6,488.5 907.5,491.1 913.5,493.7"/>
<circle cx="180.5" cy="166.5" r="6.9" stroke="none"/><circle cx="182.2" cy="167.9" r="6.9" stroke="none"/><circle cx="186.3" cy="171.1" r="6.9" stroke="none"/><circle cx="191.8" cy="182.6" r="6.9" stroke="none"/><circle cx="202.7" cy="193.6" r="6.9" stroke="none"/><circle cx="212.8" cy="202.8" r="6.9" stroke="none"/><circle cx="223.6" cy="209.9" r="6.9" stroke="none"/><circle cx="246.8" cy="220.4" r="6.9" stroke="none"/><circle cx="268.7" cy="230.2" r="6.9" stroke="none"/><circle cx="290.6" cy="236.2" r="6.9" stroke="none"/><circle cx="313.8" cy="243.7" r="6.9" stroke="none"/><circle cx="335.0" cy="251.0" r="6.9" stroke="none"/><circle cx="356.9" cy="258.3" r="6.9" stroke="none"/><circle cx="379.3" cy="265.4" r="6.9" stroke="none"/><circle cx="400.8" cy="272.7" r="6.9" stroke="none"/><circle cx="423.2" cy="281.0" r="6.9" stroke="none"/><circle cx="444.7" cy="289.7" r="6.9" stroke="none"/><circle cx="466.6" cy="299.6" r="6.9" stroke="none"/><circle cx="491.1" cy="313.2" r="6.9" stroke="none"/><circle cx="512.8" cy="324.8" r="6.9" stroke="none"/><circle cx="535.0" cy="332.6" r="6.9" stroke="none"/><circle cx="556.7" cy="339.6" r="6.9" stroke="none"/><circle cx="579.4" cy="348.0" r="6.9" stroke="none"/><circle cx="602.0" cy="356.6" r="6.9" stroke="none"/><circle cx="623.9" cy="368.5" r="6.9" stroke="none"/><circle cx="645.4" cy="377.9" r="6.9" stroke="none"/><circle cx="667.5" cy="388.8" r="6.9" stroke="none"/><circle cx="687.6" cy="399.1" r="6.9" stroke="none"/><circle cx="703.1" cy="408.4" r="6.9" stroke="none"/><circle cx="725.9" cy="423.8" r="6.9" stroke="none"/><circle cx="766.9" cy="435.8" r="6.9" stroke="none"/><circle cx="809.9" cy="449.9" r="6.9" stroke="none"/><circle cx="843.0" cy="459.1" r="6.9" stroke="none"/><circle cx="876.2" cy="473.1" r="6.9" stroke="none"/><circle cx="913.4" cy="496.7" r="6.9" stroke="none"/>
<polyline fill="none" points="180.5,166.5 181.3,171.0 182.2,172.6 183.0,173.9 183.8,174.9 184.6,175.9 185.5,176.8 186.3,177.6 187.1,178.4 188.0,179.1 188.8,179.8 189.6,180.5 190.4,181.1 191.3,181.8 192.1,182.4 192.9,183.0 193.8,183.6 194.6,184.2 195.4,184.7 196.2,185.3 197.1,185.9 197.9,186.4 198.7,186.9 199.5,187.5 200.4,188.0 201.2,188.5 202.0,189.0 202.9,189.5 203.7,190.0 204.5,190.5 205.3,191.0 211.3,194.4 217.2,197.7 223.2,200.8 229.1,203.9 235.1,206.9 241.1,209.8 247.0,212.7 253.0,215.6 258.9,218.4 264.9,221.2 270.8,224.0 276.8,226.7 282.7,229.4 288.7,232.2 294.6,234.9 300.6,237.6 306.5,240.2 312.5,242.9 318.4,245.6 324.4,248.2 330.3,250.9 336.3,253.5 342.2,256.2 348.2,258.8 354.1,261.4 360.1,264.1 366.0,266.7 372.0,269.3 377.9,271.9 383.9,274.5 389.8,277.1 395.8,279.7 401.7,282.3 407.7,284.9 413.6,287.6 419.6,290.2 425.5,292.8 431.5,295.4 437.4,298.0 443.4,300.6 449.3,303.2 455.3,305.7 461.2,308.3 467.2,310.9 473.1,313.5 479.1,316.1 485.0,318.7 491.0,321.3 496.9,323.9 502.9,326.5 508.8,329.1 514.8,331.7 520.7,334.3 526.7,336.9 532.6,339.5 538.6,342.1 544.5,344.8 550.5,347.4 556.4,350.0 562.4,352.6 568.3,355.2 574.3,357.8 580.3,360.4 586.2,363.0 592.2,365.6 598.1,368.2 604.1,370.8 610.0,373.5 616.0,376.1 621.9,378.7 627.9,381.3 633.8,383.9 639.8,386.6 645.7,389.2 651.7,391.8 657.6,394.4 663.6,397.0 669.5,399.7 675.5,402.3 681.4,404.9 687.4,407.6 693.3,410.2 699.3,412.8 705.2,415.5 711.2,418.1 717.1,420.7 723.1,423.4 729.0,426.0 735.0,428.7 740.9,431.3 746.9,434.0 752.8,436.6 758.8,439.3 764.7,441.9 770.7,444.6 776.6,447.2 782.6,449.9 788.5,452.5 794.5,455.2 800.4,457.8 806.4,460.5 812.3,463.1 818.3,465.8 824.2,468.5 830.2,471.1 836.1,473.8 842.1,476.5 848.0,479.1 854.0,481.8 859.9,484.5 865.9,487.2 871.8,489.8 877.8,492.5 883.7,495.2 889.7,497.9 895.6,500.6 901.6,503.2 907.5,505.9 913.5,508.6"/>
<circle cx="180.5" cy="166.5" r="6.9" stroke="none"/><circle cx="182.2" cy="168.1" r="6.9" stroke="none"/><circle cx="186.3" cy="171.5" r="6.9" stroke="none"/><circle cx="191.8" cy="183.7" r="6.9" stroke="none"/><circle cx="202.7" cy="197.0" r="6.9" stroke="none"/><circle cx="212.8" cy="207.3" r="6.9" stroke="none"/><circle cx="223.6" cy="215.3" r="6.9" stroke="none"/><circle cx="246.8" cy="224.7" r="6.9" stroke="none"/><circle cx="268.7" cy="232.7" r="6.9" stroke="none"/><circle cx="290.6" cy="239.4" r="6.9" stroke="none"/><circle cx="313.8" cy="247.5" r="6.9" stroke="none"/><circle cx="335.0" cy="254.9" r="6.9" stroke="none"/><circle cx="356.9" cy="262.1" r="6.9" stroke="none"/><circle cx="379.3" cy="269.5" r="6.9" stroke="none"/><circle cx="400.8" cy="255.9" r="6.9" stroke="none"/><circle cx="423.2" cy="285.7" r="6.9" stroke="none"/><circle cx="444.7" cy="294.9" r="6.9" stroke="none"/><circle cx="466.6" cy="303.8" r="6.9" stroke="none"/><circle cx="491.1" cy="318.0" r="6.9" stroke="none"/><circle cx="512.8" cy="330.3" r="6.9" stroke="none"/><circle cx="535.0" cy="338.7" r="6.9" stroke="none"/><circle cx="556.7" cy="346.5" r="6.9" stroke="none"/><circle cx="579.4" cy="355.2" r="6.9" stroke="none"/><circle cx="602.0" cy="363.9" r="6.9" stroke="none"/><circle cx="623.9" cy="375.9" r="6.9" stroke="none"/><circle cx="645.4" cy="386.3" r="6.9" stroke="none"/><circle cx="667.5" cy="397.6" r="6.9" stroke="none"/><circle cx="687.6" cy="408.3" r="6.9" stroke="none"/><circle cx="703.1" cy="426.2" r="6.9" stroke="none"/><circle cx="725.9" cy="430.7" r="6.9" stroke="none"/><circle cx="766.9" cy="444.4" r="6.9" stroke="none"/><circle cx="809.9" cy="460.9" r="6.9" stroke="none"/><circle cx="843.0" cy="472.7" r="6.9" stroke="none"/><circle cx="876.2" cy="483.6" r="6.9" stroke="none"/><circle cx="913.4" cy="509.5" r="6.9" stroke="none"/>
<polyline fill="none" points="180.5,166.5 181.3,171.8 182.2,173.6 183.0,175.1 183.8,176.3 184.6,177.3 185.5,178.3 186.3,179.2 187.1,180.0 188.0,180.8 188.8,181.6 189.6,182.3 190.4,183.1 191.3,183.7 192.1,184.4 192.9,185.1 193.8,185.7 194.6,186.3 195.4,186.9 196.2,187.5 197.1,188.1 197.9,188.7 198.7,189.3 199.5,189.8 200.4,190.4 201.2,190.9 202.0,191.5 202.9,192.0 203.7,192.5 204.5,193.0 205.3,193.6 211.3,197.1 217.2,200.5 223.2,203.8 229.1,207.0 235.1,210.1 241.1,213.2 247.0,216.1 253.0,219.1 258.9,222.0 264.9,224.9 270.8,227.8 276.8,230.6 282.7,233.4 288.7,236.2 294.6,239.0 300.6,241.7 306.5,244.5 312.5,247.2 318.4,250.0 324.4,252.7 330.3,255.4 336.3,258.1 342.2,260.8 348.2,263.5 354.1,266.2 360.1,268.9 366.0,271.6 372.0,274.3 377.9,277.0 383.9,279.7 389.8,282.3 395.8,285.0 401.7,287.7 407.7,290.4 413.6,293.0 419.6,295.7 425.5,298.4 431.5,301.0 437.4,303.7 443.4,306.4 449.3,309.0 455.3,311.7 461.2,314.4 467.2,317.0 473.1,319.7 479.1,322.4 485.0,325.0 491.0,327.7 496.9,330.4 502.9,333.0 508.8,335.7 514.8,338.4 520.7,341.0 526.7,343.7 532.6,346.4 538.6,349.0 544.5,351.7 550.5,354.4 556.4,357.1 562.4,359.7 568.3,362.4 574.3,365.1 580.3,367.8 586.2,370.5 592.2,373.1 598.1,375.8 604.1,378.5 610.0,381.2 616.0,383.9 621.9,386.6 627.9,389.3 633.8,392.0 639.8,394.7 645.7,397.4 651.7,400.1 657.6,402.8 663.6,405.5 669.5,408.2 675.5,410.9 681.4,413.6 687.4,416.3 693.3,419.0 699.3,421.7 705.2,424.4 711.2,427.1 717.1,429.8 723.1,432.5 729.0,435.3 735.0,438.0 740.9,440.7 746.9,443.4 752.8,446.1 758.8,448.9 764.7,451.6 770.7,454.3 776.6,457.1 782.6,459.8 788.5,462.5 794.5,465.3 800.4,468.0 806.4,470.7 812.3,473.5 818.3,476.2 824.2,479.0 830.2,481.7 836.1,484.5 842.1,487.2 848.0,490.0 854.0,492.7 859.9,495.5 865.9,498.2 871.8,501.0 877.8,503.7 883.7,506.5 889.7,509.3 895.6,512.0 901.6,514.8 907.5,517.6 913.5,520.3"/>
<circle cx="180.5" cy="166.5" r="6.9" stroke="none"/><circle cx="182.2" cy="170.6" r="6.9" stroke="none"/><circle cx="186.3" cy="175.0" r="6.9" stroke="none"/><circle cx="191.8" cy="187.2" r="6.9" stroke="none"/><circle cx="202.7" cy="199.1" r="6.9" stroke="none"/><circle cx="212.8" cy="208.9" r="6.9" stroke="none"/><circle cx="223.6" cy="216.7" r="6.9" stroke="none"/><circle cx="246.8" cy="229.6" r="6.9" stroke="none"/><circle cx="268.7" cy="238.5" r="6.9" stroke="none"/><circle cx="290.6" cy="245.6" r="6.9" stroke="none"/><circle cx="313.8" cy="253.6" r="6.9" stroke="none"/><circle cx="335.0" cy="261.2" r="6.9" stroke="none"/><circle cx="356.9" cy="269.0" r="6.9" stroke="none"/><circle cx="379.3" cy="276.7" r="6.9" stroke="none"/><circle cx="400.8" cy="284.6" r="6.9" stroke="none"/><circle cx="423.2" cy="293.4" r="6.9" stroke="none"/><circle cx="444.7" cy="303.9" r="6.9" stroke="none"/><circle cx="466.6" cy="314.4" r="6.9" stroke="none"/><circle cx="491.1" cy="328.3" r="6.9" stroke="none"/><circle cx="512.8" cy="340.2" r="6.9" stroke="none"/><circle cx="535.0" cy="348.3" r="6.9" stroke="none"/><circle cx="556.7" cy="356.0" r="6.9" stroke="none"/><circle cx="579.4" cy="365.0" r="6.9" stroke="none"/><circle cx="602.0" cy="375.8" r="6.9" stroke="none"/><circle cx="623.9" cy="386.9" r="6.9" stroke="none"/><circle cx="645.4" cy="397.2" r="6.9" stroke="none"/><circle cx="667.5" cy="408.1" r="6.9" stroke="none"/><circle cx="687.6" cy="419.1" r="6.9" stroke="none"/><circle cx="703.1" cy="427.7" r="6.9" stroke="none"/><circle cx="725.9" cy="439.9" r="6.9" stroke="none"/><circle cx="766.9" cy="456.2" r="6.9" stroke="none"/><circle cx="809.9" cy="471.8" r="6.9" stroke="none"/><circle cx="843.0" cy="484.9" r="6.9" stroke="none"/><circle cx="876.2" cy="501.2" r="6.9" stroke="none"/><circle cx="913.4" cy="531.2" r="6.9" stroke="none"/>
</g>
<g stroke="#c22e52" fill="#c22e52" stroke-width="8.33">
<polyline fill="none" points="180.5,166.5 181.3,186.3 182.2,192.4 183.0,196.9 183.8,200.7 184.6,204.1 185.5,207.2 186.3,210.2 187.1,213.0 188.0,215.7 188.8,218.5 189.6,221.3 190.4,224.1 191.3,227.1 192.1,230.1 192.9,233.2 193.8,236.4 194.6,239.7 195.4,242.9 196.2,246.2 197.1,249.4 197.9,252.7 198.7,255.9 199.5,259.1 200.4,262.2 201.2,265.3 202.0,268.4 202.9,271.4 203.7,274.3 204.5,277.2 205.3,280.0 211.3,298.3 217.2,313.0 223.2,325.0 229.1,335.0 235.1,343.8 241.1,351.7 247.0,359.1 253.0,366.0 258.9,372.6 264.9,378.9 270.8,385.0 276.8,390.9 282.7,396.6 288.7,402.2 294.6,407.7 300.6,413.0 306.5,418.3 312.5,423.5 318.4,428.6 324.4,433.7 330.3,438.7 336.3,443.7 342.2,448.7 348.2,453.6 354.1,458.5 360.1,463.3 366.0,468.2 372.0,473.0 377.9,477.8 383.9,482.7 389.8,487.4 395.8,492.2 401.7,497.0 407.7,501.7 413.6,506.4 419.6,511.0 425.5,515.6 431.5,520.2 437.4,524.7 443.4,529.1 449.3,533.5 455.3,537.9 461.2,542.2 467.2,546.4 473.1,550.5 479.1,554.6 485.0,558.7 491.0,562.6 496.9,566.5 502.9,570.4 508.8,574.1 514.8,577.8 520.7,581.4 526.7,585.0 532.6,588.5 538.6,592.0 544.5,595.4 550.5,598.8 556.4,602.2 562.4,605.6 568.3,608.9 574.3,612.2 580.3,615.5 586.2,618.9 592.2,622.2 598.1,625.5 604.1,628.8 610.0,632.2 616.0,635.5 621.9,638.9 627.9,642.2 633.8,645.6 639.8,648.9 645.7,652.3 651.7,655.6 657.6,658.9 663.6,662.2 669.5,665.5 675.5,668.8 681.4,672.0 687.4,675.2 693.3,678.4 699.3,681.5 705.2,684.6 711.2,687.7 717.1,690.7 723.1,693.7 729.0,696.6 735.0,699.5 740.9,702.4 746.9,705.2 752.8,708.0 758.8,710.7 764.7,713.3 770.7,716.0 776.6,718.5 782.6,721.0 788.5,723.5 794.5,726.0 800.4,728.4 806.4,730.9 812.3,733.3 818.3,735.7 824.2,738.0 830.2,740.4 836.1,742.8 842.1,745.2 848.0,747.6 854.0,750.0 859.9,752.4 865.9,754.9 871.8,757.4 877.8,759.8 883.7,762.4 889.7,764.9 895.6,767.5 901.6,770.1 907.5,772.8 913.5,775.5"/>
<circle cx="180.5" cy="172.9" r="6.9" stroke="none"/><circle cx="182.2" cy="181.8" r="6.9" stroke="none"/><circle cx="186.3" cy="194.6" r="6.9" stroke="none"/><circle cx="191.8" cy="224.3" r="6.9" stroke="none"/><circle cx="202.7" cy="274.4" r="6.9" stroke="none"/><circle cx="212.8" cy="309.6" r="6.9" stroke="none"/><circle cx="223.6" cy="334.7" r="6.9" stroke="none"/><circle cx="246.8" cy="365.9" r="6.9" stroke="none"/><circle cx="268.7" cy="388.5" r="6.9" stroke="none"/><circle cx="290.6" cy="405.9" r="6.9" stroke="none"/><circle cx="313.8" cy="418.7" r="6.9" stroke="none"/><circle cx="335.0" cy="429.6" r="6.9" stroke="none"/><circle cx="356.9" cy="447.4" r="6.9" stroke="none"/><circle cx="379.3" cy="469.5" r="6.9" stroke="none"/><circle cx="400.8" cy="492.0" r="6.9" stroke="none"/><circle cx="423.2" cy="514.3" r="6.9" stroke="none"/><circle cx="444.7" cy="533.2" r="6.9" stroke="none"/><circle cx="466.6" cy="548.4" r="6.9" stroke="none"/><circle cx="491.1" cy="567.6" r="6.9" stroke="none"/><circle cx="512.8" cy="581.7" r="6.9" stroke="none"/><circle cx="535.0" cy="593.8" r="6.9" stroke="none"/><circle cx="556.7" cy="605.2" r="6.9" stroke="none"/><circle cx="579.4" cy="618.8" r="6.9" stroke="none"/><circle cx="602.0" cy="628.3" r="6.9" stroke="none"/><circle cx="623.9" cy="639.1" r="6.9" stroke="none"/><circle cx="645.4" cy="650.2" r="6.9" stroke="none"/><circle cx="667.5" cy="661.2" r="6.9" stroke="none"/><circle cx="687.6" cy="673.6" r="6.9" stroke="none"/><circle cx="703.1" cy="681.7" r="6.9" stroke="none"/><circle cx="725.9" cy="695.5" r="6.9" stroke="none"/><circle cx="766.9" cy="716.1" r="6.9" stroke="none"/><circle cx="809.9" cy="731.7" r="6.9" stroke="none"/><circle cx="843.0" cy="742.9" r="6.9" stroke="none"/><circle cx="876.2" cy="756.1" r="6.9" stroke="none"/><circle cx="913.4" cy="774.1" r="6.9" stroke="none"/>
<polyline fill="none" points="180.5,166.5 181.3,185.5 182.2,191.3 183.0,195.5 183.8,199.1 184.6,202.4 185.5,205.4 186.3,208.2 187.1,211.0 188.0,213.7 188.8,216.3 189.6,219.0 190.4,221.8 191.3,224.6 192.1,227.5 192.9,230.5 193.8,233.5 194.6,236.5 195.4,239.6 196.2,242.6 197.1,245.7 197.9,248.7 198.7,251.8 199.5,254.7 200.4,257.7 201.2,260.6 202.0,263.5 202.9,266.3 203.7,269.1 204.5,271.8 205.3,274.5 211.3,292.1 217.2,306.8 223.2,319.0 229.1,329.6 235.1,338.8 241.1,347.0 247.0,354.4 253.0,361.3 258.9,367.6 264.9,373.6 270.8,379.3 276.8,384.8 282.7,390.0 288.7,395.2 294.6,400.2 300.6,405.1 306.5,410.0 312.5,414.9 318.4,419.7 324.4,424.5 330.3,429.4 336.3,434.2 342.2,439.1 348.2,444.0 354.1,449.0 360.1,454.0 366.0,459.1 372.0,464.3 377.9,469.5 383.9,474.7 389.8,480.1 395.8,485.4 401.7,490.6 407.7,495.8 413.6,500.9 419.6,505.9 425.5,510.7 431.5,515.3 437.4,519.8 443.4,524.2 449.3,528.5 455.3,532.7 461.2,536.7 467.2,540.7 473.1,544.6 479.1,548.5 485.0,552.3 491.0,556.0 496.9,559.7 502.9,563.4 508.8,567.1 514.8,570.7 520.7,574.3 526.7,577.9 532.6,581.5 538.6,585.0 544.5,588.6 550.5,592.1 556.4,595.6 562.4,599.1 568.3,602.6 574.3,606.1 580.3,609.6 586.2,613.1 592.2,616.5 598.1,620.0 604.1,623.4 610.0,626.9 616.0,630.3 621.9,633.8 627.9,637.2 633.8,640.6 639.8,644.0 645.7,647.3 651.7,650.7 657.6,654.0 663.6,657.3 669.5,660.5 675.5,663.8 681.4,667.0 687.4,670.1 693.3,673.3 699.3,676.4 705.2,679.4 711.2,682.5 717.1,685.4 723.1,688.4 729.0,691.3 735.0,694.2 740.9,697.0 746.9,699.8 752.8,702.5 758.8,705.2 764.7,707.8 770.7,710.4 776.6,713.0 782.6,715.5 788.5,718.0 794.5,720.5 800.4,722.9 806.4,725.4 812.3,727.8 818.3,730.2 824.2,732.6 830.2,735.0 836.1,737.4 842.1,739.8 848.0,742.3 854.0,744.7 859.9,747.2 865.9,749.7 871.8,752.2 877.8,754.7 883.7,757.3 889.7,759.8 895.6,762.5 901.6,765.1 907.5,767.8 913.5,770.6"/>
<circle cx="180.5" cy="171.0" r="6.9" stroke="none"/><circle cx="182.2" cy="182.2" r="6.9" stroke="none"/><circle cx="186.3" cy="194.3" r="6.9" stroke="none"/><circle cx="191.8" cy="223.3" r="6.9" stroke="none"/><circle cx="202.7" cy="270.3" r="6.9" stroke="none"/><circle cx="212.8" cy="303.9" r="6.9" stroke="none"/><circle cx="223.6" cy="328.8" r="6.9" stroke="none"/><circle cx="246.8" cy="361.7" r="6.9" stroke="none"/><circle cx="268.7" cy="383.4" r="6.9" stroke="none"/><circle cx="290.6" cy="399.6" r="6.9" stroke="none"/><circle cx="313.8" cy="411.4" r="6.9" stroke="none"/><circle cx="335.0" cy="421.4" r="6.9" stroke="none"/><circle cx="356.9" cy="437.4" r="6.9" stroke="none"/><circle cx="379.3" cy="460.7" r="6.9" stroke="none"/><circle cx="400.8" cy="485.0" r="6.9" stroke="none"/><circle cx="423.2" cy="507.9" r="6.9" stroke="none"/><circle cx="444.7" cy="527.0" r="6.9" stroke="none"/><circle cx="466.6" cy="541.3" r="6.9" stroke="none"/><circle cx="491.1" cy="559.1" r="6.9" stroke="none"/><circle cx="512.8" cy="573.1" r="6.9" stroke="none"/><circle cx="535.0" cy="585.6" r="6.9" stroke="none"/><circle cx="556.7" cy="597.0" r="6.9" stroke="none"/><circle cx="579.4" cy="611.5" r="6.9" stroke="none"/><circle cx="602.0" cy="622.0" r="6.9" stroke="none"/><circle cx="623.9" cy="633.4" r="6.9" stroke="none"/><circle cx="645.4" cy="646.6" r="6.9" stroke="none"/><circle cx="667.5" cy="658.2" r="6.9" stroke="none"/><circle cx="687.6" cy="670.2" r="6.9" stroke="none"/><circle cx="703.1" cy="678.9" r="6.9" stroke="none"/><circle cx="725.9" cy="692.2" r="6.9" stroke="none"/><circle cx="766.9" cy="711.8" r="6.9" stroke="none"/><circle cx="809.9" cy="727.4" r="6.9" stroke="none"/><circle cx="843.0" cy="738.7" r="6.9" stroke="none"/><circle cx="876.2" cy="751.9" r="6.9" stroke="none"/><circle cx="913.4" cy="770.3" r="6.9" stroke="none"/>
<polyline fill="none" points="180.5,166.5 181.3,187.0 182.2,193.4 183.0,198.3 183.8,202.5 184.6,206.2 185.5,209.6 186.3,212.8 187.1,215.9 188.0,218.9 188.8,221.9 189.6,225.0 190.4,228.1 191.3,231.2 192.1,234.4 192.9,237.7 193.8,241.1 194.6,244.5 195.4,247.9 196.2,251.3 197.1,254.7 197.9,258.1 198.7,261.4 199.5,264.7 200.4,268.0 201.2,271.2 202.0,274.3 202.9,277.4 203.7,280.4 204.5,283.4 205.3,286.3 211.3,305.0 217.2,320.1 223.2,332.2 229.1,342.4 235.1,351.4 241.1,359.5 247.0,367.1 253.0,374.3 258.9,381.2 264.9,387.9 270.8,394.3 276.8,400.6 282.7,406.8 288.7,412.8 294.6,418.7 300.6,424.4 306.5,430.1 312.5,435.7 318.4,441.2 324.4,446.5 330.3,451.8 336.3,457.0 342.2,462.1 348.2,467.1 354.1,472.1 360.1,476.9 366.0,481.7 372.0,486.4 377.9,491.1 383.9,495.6 389.8,500.1 395.8,504.5 401.7,508.9 407.7,513.2 413.6,517.5 419.6,521.7 425.5,525.8 431.5,529.9 437.4,534.0 443.4,538.0 449.3,542.0 455.3,545.9 461.2,549.8 467.2,553.7 473.1,557.5 479.1,561.3 485.0,565.1 491.0,568.8 496.9,572.5 502.9,576.2 508.8,579.8 514.8,583.5 520.7,587.1 526.7,590.6 532.6,594.2 538.6,597.7 544.5,601.2 550.5,604.7 556.4,608.2 562.4,611.6 568.3,615.0 574.3,618.4 580.3,621.8 586.2,625.2 592.2,628.6 598.1,631.9 604.1,635.2 610.0,638.5 616.0,641.8 621.9,645.1 627.9,648.4 633.8,651.6 639.8,654.8 645.7,658.0 651.7,661.2 657.6,664.4 663.6,667.6 669.5,670.7 675.5,673.8 681.4,676.9 687.4,680.0 693.3,683.0 699.3,686.1 705.2,689.1 711.2,692.1 717.1,695.0 723.1,698.0 729.0,700.9 735.0,703.8 740.9,706.7 746.9,709.6 752.8,712.4 758.8,715.2 764.7,718.0 770.7,720.8 776.6,723.5 782.6,726.2 788.5,729.0 794.5,731.6 800.4,734.3 806.4,736.9 812.3,739.5 818.3,742.1 824.2,744.7 830.2,747.2 836.1,749.7 842.1,752.2 848.0,754.7 854.0,757.1 859.9,759.6 865.9,762.0 871.8,764.3 877.8,766.7 883.7,769.0 889.7,771.3 895.6,773.6 901.6,775.8 907.5,778.1 913.5,780.3"/>
<circle cx="180.5" cy="171.0" r="6.9" stroke="none"/><circle cx="182.2" cy="184.4" r="6.9" stroke="none"/><circle cx="186.3" cy="198.9" r="6.9" stroke="none"/><circle cx="191.8" cy="230.1" r="6.9" stroke="none"/><circle cx="202.7" cy="281.3" r="6.9" stroke="none"/><circle cx="212.8" cy="317.0" r="6.9" stroke="none"/><circle cx="223.6" cy="342.0" r="6.9" stroke="none"/><circle cx="246.8" cy="374.3" r="6.9" stroke="none"/><circle cx="268.7" cy="398.1" r="6.9" stroke="none"/><circle cx="290.6" cy="417.5" r="6.9" stroke="none"/><circle cx="313.8" cy="432.4" r="6.9" stroke="none"/><circle cx="335.0" cy="444.1" r="6.9" stroke="none"/><circle cx="356.9" cy="460.4" r="6.9" stroke="none"/><circle cx="379.3" cy="482.1" r="6.9" stroke="none"/><circle cx="400.8" cy="503.4" r="6.9" stroke="none"/><circle cx="423.2" cy="523.3" r="6.9" stroke="none"/><circle cx="444.7" cy="540.7" r="6.9" stroke="none"/><circle cx="466.6" cy="554.2" r="6.9" stroke="none"/><circle cx="491.1" cy="571.9" r="6.9" stroke="none"/><circle cx="512.8" cy="585.9" r="6.9" stroke="none"/><circle cx="535.0" cy="598.3" r="6.9" stroke="none"/><circle cx="556.7" cy="609.5" r="6.9" stroke="none"/><circle cx="579.4" cy="623.8" r="6.9" stroke="none"/><circle cx="602.0" cy="633.8" r="6.9" stroke="none"/><circle cx="623.9" cy="644.7" r="6.9" stroke="none"/><circle cx="645.4" cy="657.3" r="6.9" stroke="none"/><circle cx="667.5" cy="668.4" r="6.9" stroke="none"/><circle cx="687.6" cy="680.1" r="6.9" stroke="none"/><circle cx="703.1" cy="688.6" r="6.9" stroke="none"/><circle cx="725.9" cy="701.8" r="6.9" stroke="none"/><circle cx="766.9" cy="722.0" r="6.9" stroke="none"/><circle cx="809.9" cy="739.1" r="6.9" stroke="none"/><circle cx="843.0" cy="751.1" r="6.9" stroke="none"/><circle cx="876.2" cy="763.9" r="6.9" stroke="none"/><circle cx="913.4" cy="779.9" r="6.9" stroke="none"/>
</g>
<g stroke="#9e0142" fill="#9e0142" stroke-width="8.33">
<polyline fill="none" points="180.5,166.5 181.3,189.4 182.2,206.6 183.0,220.7 183.8,232.8 184.6,243.4 185.5,252.8 186.3,261.2 187.1,268.8 188.0,275.6 188.8,281.8 189.6,287.4 190.4,292.4 191.3,296.9 192.1,301.0 192.9,304.6 193.8,307.9 194.6,311.0 195.4,313.8 196.2,316.4 197.1,318.8 197.9,321.1 198.7,323.3 199.5,325.5 200.4,327.5 201.2,329.5 202.0,331.4 202.9,333.3 203.7,335.2 204.5,337.1 205.3,338.9 211.3,351.7 217.2,363.8 223.2,375.3 229.1,386.4 235.1,397.0 241.1,407.3 247.0,417.4 253.0,427.2 258.9,436.8 264.9,446.2 270.8,455.5 276.8,464.5 282.7,473.3 288.7,481.6 294.6,489.4 300.6,496.8 306.5,503.7 312.5,510.3 318.4,516.6 324.4,522.6 330.3,528.4 336.3,534.0 342.2,539.5 348.2,544.8 354.1,550.0 360.1,555.1 366.0,560.2 372.0,565.1 377.9,570.0 383.9,574.7 389.8,579.4 395.8,584.0 401.7,588.6 407.7,593.0 413.6,597.4 419.6,601.8 425.5,606.1 431.5,610.3 437.4,614.5 443.4,618.6 449.3,622.6 455.3,626.7 461.2,630.6 467.2,634.6 473.1,638.5 479.1,642.3 485.0,646.1 491.0,649.9 496.9,653.6 502.9,657.3 508.8,661.0 514.8,664.7 520.7,668.3 526.7,671.9 532.6,675.5 538.6,679.1 544.5,682.7 550.5,686.3 556.4,690.0 562.4,693.7 568.3,697.4 574.3,701.1 580.3,704.7 586.2,708.4 592.2,712.0 598.1,715.5 604.1,719.0 610.0,722.5 616.0,725.9 621.9,729.2 627.9,732.5 633.8,735.7 639.8,738.8 645.7,741.9 651.7,745.0 657.6,748.0 663.6,751.0 669.5,753.9 675.5,756.8 681.4,759.7 687.4,762.5 693.3,765.3 699.3,768.1 705.2,770.8 711.2,773.5 717.1,776.2 723.1,778.9 729.0,781.5 735.0,784.1 740.9,786.7 746.9,789.3 752.8,791.8 758.8,794.3 764.7,796.8 770.7,799.3 776.6,801.8 782.6,804.2 788.5,806.7 794.5,809.1 800.4,811.5 806.4,813.9 812.3,816.3 818.3,818.7 824.2,821.1 830.2,823.4 836.1,825.8 842.1,828.2 848.0,830.5 854.0,832.8 859.9,835.2 865.9,837.5 871.8,839.8 877.8,842.1 883.7,844.4 889.7,846.8 895.6,849.1 901.6,851.4 907.5,853.7 913.5,856.0"/>
<circle cx="182.2" cy="197.5" r="6.9" stroke="none"/><circle cx="186.3" cy="247.9" r="6.9" stroke="none"/><circle cx="191.8" cy="296.4" r="6.9" stroke="none"/><circle cx="202.7" cy="336.3" r="6.9" stroke="none"/><circle cx="212.8" cy="360.6" r="6.9" stroke="none"/><circle cx="223.6" cy="383.7" r="6.9" stroke="none"/><circle cx="246.8" cy="423.0" r="6.9" stroke="none"/><circle cx="268.7" cy="456.0" r="6.9" stroke="none"/><circle cx="290.6" cy="483.5" r="6.9" stroke="none"/><circle cx="313.8" cy="505.9" r="6.9" stroke="none"/><circle cx="335.0" cy="522.9" r="6.9" stroke="none"/><circle cx="356.9" cy="542.2" r="6.9" stroke="none"/><circle cx="379.3" cy="563.9" r="6.9" stroke="none"/><circle cx="400.8" cy="584.6" r="6.9" stroke="none"/><circle cx="423.2" cy="603.1" r="6.9" stroke="none"/><circle cx="444.7" cy="619.9" r="6.9" stroke="none"/><circle cx="466.6" cy="632.7" r="6.9" stroke="none"/><circle cx="491.1" cy="650.3" r="6.9" stroke="none"/><circle cx="512.8" cy="664.7" r="6.9" stroke="none"/><circle cx="535.0" cy="677.9" r="6.9" stroke="none"/><circle cx="556.7" cy="689.2" r="6.9" stroke="none"/><circle cx="579.4" cy="704.4" r="6.9" stroke="none"/><circle cx="602.0" cy="718.6" r="6.9" stroke="none"/><circle cx="623.9" cy="731.5" r="6.9" stroke="none"/><circle cx="645.4" cy="743.4" r="6.9" stroke="none"/><circle cx="667.5" cy="755.5" r="6.9" stroke="none"/><circle cx="687.6" cy="766.5" r="6.9" stroke="none"/><circle cx="703.1" cy="774.6" r="6.9" stroke="none"/><circle cx="725.9" cy="785.3" r="6.9" stroke="none"/><circle cx="766.9" cy="799.7" r="6.9" stroke="none"/><circle cx="809.9" cy="814.4" r="6.9" stroke="none"/><circle cx="843.0" cy="826.1" r="6.9" stroke="none"/><circle cx="876.2" cy="837.6" r="6.9" stroke="none"/><circle cx="913.4" cy="850.5" r="6.9" stroke="none"/>
<polyline fill="none" points="180.5,166.5 181.3,189.3 182.2,206.4 183.0,220.5 183.8,232.7 184.6,243.3 185.5,252.7 186.3,261.1 187.1,268.6 188.0,275.5 188.8,281.6 189.6,287.1 190.4,292.1 191.3,296.6 192.1,300.7 192.9,304.3 193.8,307.6 194.6,310.6 195.4,313.4 196.2,316.0 197.1,318.4 197.9,320.7 198.7,322.8 199.5,324.9 200.4,326.9 201.2,328.9 202.0,330.8 202.9,332.7 203.7,334.5 204.5,336.4 205.3,338.2 211.3,350.9 217.2,362.8 223.2,374.2 229.1,385.1 235.1,395.6 241.1,405.8 247.0,415.8 253.0,425.6 258.9,435.2 264.9,444.6 270.8,453.8 276.8,462.9 282.7,471.7 288.7,480.1 294.6,487.9 300.6,495.2 306.5,502.2 312.5,508.7 318.4,515.0 324.4,521.0 330.3,526.8 336.3,532.4 342.2,537.8 348.2,543.2 354.1,548.4 360.1,553.5 366.0,558.6 372.0,563.5 377.9,568.4 383.9,573.2 389.8,577.9 395.8,582.5 401.7,587.0 407.7,591.5 413.6,595.9 419.6,600.2 425.5,604.5 431.5,608.7 437.4,612.8 443.4,616.9 449.3,620.9 455.3,624.9 461.2,628.8 467.2,632.7 473.1,636.6 479.1,640.3 485.0,644.1 491.0,647.8 496.9,651.5 502.9,655.1 508.8,658.7 514.8,662.3 520.7,665.8 526.7,669.3 532.6,672.8 538.6,676.4 544.5,679.9 550.5,683.5 556.4,687.1 562.4,690.7 568.3,694.3 574.3,697.9 580.3,701.5 586.2,705.0 592.2,708.5 598.1,712.0 604.1,715.4 610.0,718.7 616.0,722.0 621.9,725.2 627.9,728.4 633.8,731.5 639.8,734.5 645.7,737.6 651.7,740.6 657.6,743.5 663.6,746.4 669.5,749.3 675.5,752.2 681.4,755.0 687.4,757.9 693.3,760.7 699.3,763.5 705.2,766.2 711.2,769.0 717.1,771.7 723.1,774.4 729.0,777.1 735.0,779.7 740.9,782.4 746.9,785.0 752.8,787.6 758.8,790.2 764.7,792.8 770.7,795.4 776.6,797.9 782.6,800.5 788.5,803.0 794.5,805.5 800.4,808.0 806.4,810.5 812.3,812.9 818.3,815.4 824.2,817.8 830.2,820.2 836.1,822.6 842.1,825.0 848.0,827.4 854.0,829.8 859.9,832.2 865.9,834.5 871.8,836.9 877.8,839.2 883.7,841.5 889.7,843.8 895.6,846.1 901.6,848.4 907.5,850.7 913.5,853.0"/>
<circle cx="182.2" cy="198.6" r="6.9" stroke="none"/><circle cx="186.3" cy="249.0" r="6.9" stroke="none"/><circle cx="191.8" cy="297.3" r="6.9" stroke="none"/><circle cx="202.7" cy="336.2" r="6.9" stroke="none"/><circle cx="212.8" cy="360.6" r="6.9" stroke="none"/><circle cx="223.6" cy="383.2" r="6.9" stroke="none"/><circle cx="246.8" cy="422.1" r="6.9" stroke="none"/><circle cx="268.7" cy="454.9" r="6.9" stroke="none"/><circle cx="290.6" cy="482.6" r="6.9" stroke="none"/><circle cx="313.8" cy="504.9" r="6.9" stroke="none"/><circle cx="335.0" cy="521.9" r="6.9" stroke="none"/><circle cx="356.9" cy="541.2" r="6.9" stroke="none"/><circle cx="379.3" cy="563.0" r="6.9" stroke="none"/><circle cx="400.8" cy="583.7" r="6.9" stroke="none"/><circle cx="423.2" cy="602.1" r="6.9" stroke="none"/><circle cx="444.7" cy="619.4" r="6.9" stroke="none"/><circle cx="466.6" cy="633.4" r="6.9" stroke="none"/><circle cx="491.1" cy="650.3" r="6.9" stroke="none"/><circle cx="512.8" cy="664.0" r="6.9" stroke="none"/><circle cx="535.0" cy="676.0" r="6.9" stroke="none"/><circle cx="556.7" cy="687.6" r="6.9" stroke="none"/><circle cx="579.4" cy="702.3" r="6.9" stroke="none"/><circle cx="602.0" cy="716.4" r="6.9" stroke="none"/><circle cx="623.9" cy="728.9" r="6.9" stroke="none"/><circle cx="645.4" cy="740.5" r="6.9" stroke="none"/><circle cx="667.5" cy="752.1" r="6.9" stroke="none"/><circle cx="687.6" cy="762.5" r="6.9" stroke="none"/><circle cx="703.1" cy="770.4" r="6.9" stroke="none"/><circle cx="725.9" cy="781.1" r="6.9" stroke="none"/><circle cx="766.9" cy="796.8" r="6.9" stroke="none"/><circle cx="809.9" cy="812.2" r="6.9" stroke="none"/><circle cx="843.0" cy="824.2" r="6.9" stroke="none"/><circle cx="876.2" cy="835.9" r="6.9" stroke="none"/><circle cx="913.4" cy="848.4" r="6.9" stroke="none"/>
<polyline fill="none" points="180.5,166.5 181.3,188.9 182.2,206.1 183.0,220.3 183.8,232.5 184.6,243.1 185.5,252.6 186.3,261.0 187.1,268.6 188.0,275.4 188.8,281.6 189.6,287.1 190.4,292.1 191.3,296.5 192.1,300.5 192.9,304.1 193.8,307.3 194.6,310.3 195.4,313.0 196.2,315.5 197.1,317.9 197.9,320.1 198.7,322.3 199.5,324.3 200.4,326.3 201.2,328.2 202.0,330.1 202.9,331.9 203.7,333.7 204.5,335.6 205.3,337.4 211.3,350.0 217.2,361.9 223.2,373.2 229.1,383.9 235.1,394.3 241.1,404.4 247.0,414.3 253.0,424.0 258.9,433.5 264.9,442.9 270.8,452.0 276.8,461.1 282.7,469.8 288.7,478.2 294.6,486.1 300.6,493.6 306.5,500.6 312.5,507.4 318.4,513.8 324.4,519.9 330.3,525.8 336.3,531.4 342.2,536.9 348.2,542.2 354.1,547.4 360.1,552.4 366.0,557.3 372.0,562.1 377.9,566.8 383.9,571.5 389.8,576.1 395.8,580.6 401.7,585.1 407.7,589.5 413.6,593.9 419.6,598.2 425.5,602.5 431.5,606.7 437.4,610.9 443.4,615.0 449.3,619.1 455.3,623.1 461.2,627.1 467.2,631.0 473.1,634.9 479.1,638.7 485.0,642.4 491.0,646.1 496.9,649.7 502.9,653.3 508.8,656.8 514.8,660.2 520.7,663.6 526.7,667.0 532.6,670.4 538.6,673.7 544.5,677.1 550.5,680.6 556.4,684.1 562.4,687.6 568.3,691.1 574.3,694.7 580.3,698.2 586.2,701.6 592.2,705.1 598.1,708.5 604.1,711.8 610.0,715.0 616.0,718.2 621.9,721.3 627.9,724.3 633.8,727.3 639.8,730.3 645.7,733.2 651.7,736.1 657.6,739.0 663.6,741.8 669.5,744.7 675.5,747.5 681.4,750.4 687.4,753.2 693.3,756.0 699.3,758.8 705.2,761.6 711.2,764.4 717.1,767.1 723.1,769.9 729.0,772.6 735.0,775.3 740.9,778.1 746.9,780.8 752.8,783.5 758.8,786.1 764.7,788.8 770.7,791.4 776.6,794.1 782.6,796.7 788.5,799.3 794.5,801.9 800.4,804.4 806.4,807.0 812.3,809.5 818.3,812.1 824.2,814.6 830.2,817.0 836.1,819.5 842.1,822.0 848.0,824.4 854.0,826.8 859.9,829.2 865.9,831.6 871.8,834.0 877.8,836.3 883.7,838.6 889.7,841.0 895.6,843.2 901.6,845.5 907.5,847.8 913.5,850.0"/>
<circle cx="182.2" cy="197.6" r="6.9" stroke="none"/><circle cx="186.3" cy="248.3" r="6.9" stroke="none"/><circle cx="191.8" cy="296.6" r="6.9" stroke="none"/><circle cx="202.7" cy="335.2" r="6.9" stroke="none"/><circle cx="212.8" cy="359.1" r="6.9" stroke="none"/><circle cx="223.6" cy="381.9" r="6.9" stroke="none"/><circle cx="246.8" cy="420.3" r="6.9" stroke="none"/><circle cx="268.7" cy="452.9" r="6.9" stroke="none"/><circle cx="290.6" cy="480.5" r="6.9" stroke="none"/><circle cx="313.8" cy="503.3" r="6.9" stroke="none"/><circle cx="335.0" cy="520.7" r="6.9" stroke="none"/><circle cx="356.9" cy="539.8" r="6.9" stroke="none"/><circle cx="379.3" cy="561.1" r="6.9" stroke="none"/><circle cx="400.8" cy="581.4" r="6.9" stroke="none"/><circle cx="423.2" cy="599.8" r="6.9" stroke="none"/><circle cx="444.7" cy="617.0" r="6.9" stroke="none"/><circle cx="466.6" cy="630.4" r="6.9" stroke="none"/><circle cx="491.1" cy="647.5" r="6.9" stroke="none"/><circle cx="512.8" cy="661.2" r="6.9" stroke="none"/><circle cx="535.0" cy="673.2" r="6.9" stroke="none"/><circle cx="556.7" cy="684.0" r="6.9" stroke="none"/><circle cx="579.4" cy="698.4" r="6.9" stroke="none"/><circle cx="602.0" cy="712.2" r="6.9" stroke="none"/><circle cx="623.9" cy="724.3" r="6.9" stroke="none"/><circle cx="645.4" cy="735.5" r="6.9" stroke="none"/><circle cx="667.5" cy="746.9" r="6.9" stroke="none"/><circle cx="687.6" cy="757.5" r="6.9" stroke="none"/><circle cx="703.1" cy="765.5" r="6.9" stroke="none"/><circle cx="725.9" cy="776.5" r="6.9" stroke="none"/><circle cx="766.9" cy="794.0" r="6.9" stroke="none"/><circle cx="809.9" cy="810.0" r="6.9" stroke="none"/><circle cx="843.0" cy="822.4" r="6.9" stroke="none"/><circle cx="876.2" cy="834.2" r="6.9" stroke="none"/><circle cx="913.4" cy="846.7" r="6.9" stroke="none"/>
</g>
</g>
<g>
<circle cx="180.5" cy="166.5" r="6.9" fill="#9e0142"/>
<circle cx="180.5" cy="166.5" r="6.9" fill="#9e0142"/>
<circle cx="180.5" cy="166.5" r="6.9" fill="#9e0142"/>
</g>
<g fill="none" stroke-linejoin="round" stroke-linecap="butt" stroke-width="8.33">
<polyline stroke="#5e4fa2" points="1267.4,469.1 1268.1,455.4 1269.7,446.4 1271.9,464.5 1276.3,478.1 1280.4,487.2 1284.7,491.7 1294.1,473.6 1302.9,483.7 1311.8,469.1 1321.1,462.5 1329.6,471.6 1338.5,474.3 1347.5,481.4 1356.1,478.1 1365.2,462.7 1373.8,451.0 1382.7,432.3 1392.5,426.2 1401.3,445.8 1410.2,452.8 1419.0,458.2 1428.1,484.7 1437.2,491.7 1446.0,474.7 1454.7,464.6 1463.6,464.1 1471.7,461.7 1477.9,458.9 1487.1,460.4 1503.6,455.4 1521.0,437.3 1534.3,423.7 1547.7,410.1 1562.7,555.2"/>
<polyline stroke="#5e4fa2" points="1267.4,469.1 1268.1,455.4 1269.7,446.4 1271.9,464.5 1276.3,478.1 1280.4,487.2 1284.7,491.7 1294.1,473.6 1302.9,483.6 1311.8,485.8 1321.1,479.8 1329.6,458.8 1338.5,449.6 1347.5,459.7 1356.1,465.9 1365.2,472.1 1373.8,463.0 1382.7,450.3 1392.5,456.0 1401.3,460.8 1410.2,473.6 1419.0,466.2 1428.1,438.3 1437.2,443.2 1446.0,461.9 1454.7,472.9 1463.6,479.0 1471.7,474.6 1477.9,459.9 1487.1,448.1 1503.6,460.0 1521.0,446.4 1534.3,428.2 1547.7,419.1 1562.7,487.2"/>
<polyline stroke="#3470c0" points="1267.4,469.1 1268.1,455.4 1269.7,446.4 1271.9,464.5 1276.3,478.1 1280.4,487.2 1284.7,491.7 1294.1,473.6 1302.9,487.6 1311.8,488.8 1321.1,470.8 1329.6,466.7 1338.5,480.5 1347.5,486.8 1356.1,475.5 1365.2,470.1 1373.8,481.3 1382.7,479.4 1392.5,473.1 1401.3,463.1 1410.2,449.8 1419.0,458.8 1428.1,477.5 1437.2,475.2 1446.0,462.0 1454.7,476.1 1463.6,493.2 1471.7,474.2 1477.9,458.7 1487.1,466.3 1503.6,470.3 1521.0,461.8 1534.3,437.8 1547.7,429.4 1562.7,456.7"/>
<polyline stroke="#3b98b9" points="1267.4,469.1 1268.1,455.4 1269.7,446.4 1271.9,464.5 1276.3,478.1 1280.4,487.2 1284.7,491.7 1294.1,473.6 1302.9,480.8 1311.8,478.1 1321.1,466.9 1329.6,461.9 1338.5,450.4 1347.5,452.9 1356.1,480.9 1365.2,484.8 1373.8,465.3 1382.7,460.0 1392.5,454.6 1401.3,443.9 1410.2,457.4 1419.0,477.9 1428.1,463.7 1437.2,450.3 1446.0,620.6 1454.7,484.2 1463.6,482.6 1471.7,475.1 1477.9,475.2 1487.1,480.4 1503.6,481.2 1521.0,477.4 1534.3,487.8 1547.7,489.9 1562.7,470.3"/>
<polyline stroke="#3b98b9" points="1267.4,469.1 1268.1,455.4 1269.7,446.4 1271.9,464.5 1276.3,478.1 1280.4,487.2 1284.7,491.7 1294.1,473.6 1302.9,456.7 1311.8,457.9 1321.1,464.5 1329.6,460.3 1338.5,448.4 1347.5,431.9 1356.1,432.2 1365.2,447.8 1373.8,464.0 1382.7,469.5 1392.5,463.7 1401.3,472.6 1410.2,487.1 1419.0,477.0 1428.1,462.4 1437.2,459.1 1446.0,460.9 1454.7,471.1 1463.6,482.7 1471.7,488.1 1477.9,482.2 1487.1,474.0 1503.6,466.3 1521.0,460.5 1534.3,468.8 1547.7,476.4 1562.7,473.5"/>
<polyline stroke="#5dbaa8" points="1267.4,469.1 1268.1,455.4 1269.7,441.8 1271.9,464.5 1276.3,482.7 1280.4,491.7 1284.7,496.3 1294.1,478.1 1302.9,473.2 1311.8,464.6 1321.1,460.7 1329.6,477.8 1338.5,490.5 1347.5,477.2 1356.1,463.9 1365.2,463.9 1373.8,467.8 1382.7,471.4 1392.5,473.0 1401.3,470.3 1410.2,455.4 1419.0,458.3 1428.1,482.3 1437.2,486.7 1446.0,482.3 1454.7,484.9 1463.6,482.8 1471.7,467.0 1477.9,446.5 1487.1,445.5 1503.6,460.3 1521.0,458.1 1534.3,444.0 1547.7,450.6 1562.7,468.3"/>
<polyline stroke="#85d0a4" points="1267.4,469.1 1268.1,450.9 1269.7,432.8 1271.9,460.0 1276.3,482.7 1280.4,496.3 1284.7,500.8 1294.1,478.1 1302.9,464.5 1311.8,455.4 1321.1,437.3 1329.6,410.1 1338.5,455.4 1347.5,463.3 1356.1,471.4 1365.2,468.2 1373.8,474.6 1382.7,470.8 1392.5,462.4 1401.3,477.2 1410.2,486.2 1419.0,469.5 1428.1,467.1 1437.2,483.5 1446.0,471.6 1454.7,443.8 1463.6,432.7 1471.7,438.8 1477.9,450.3 1487.1,457.7 1503.6,452.5 1521.0,452.5 1534.3,470.9 1547.7,471.1 1562.7,461.4"/>
<polyline stroke="#85d0a4" points="1267.4,469.1 1268.1,450.9 1269.7,437.3 1271.9,464.5 1276.3,482.7 1280.4,491.7 1284.7,496.3 1294.1,478.1 1302.9,469.1 1311.8,460.0 1321.1,446.4 1329.6,428.2 1338.5,460.0 1347.5,475.2 1356.1,471.6 1365.2,475.1 1373.8,466.0 1382.7,452.2 1392.5,454.8 1401.3,465.5 1410.2,468.2 1419.0,459.0 1428.1,460.9 1437.2,476.7 1446.0,478.8 1454.7,472.1 1463.6,478.0 1471.7,472.3 1477.9,458.9 1487.1,471.4 1503.6,484.9 1521.0,460.0 1534.3,464.5 1547.7,478.1 1562.7,478.1"/>
<polyline stroke="#b3e0a1" points="1267.4,665.9 1268.1,446.4 1269.7,369.2 1271.9,423.7 1276.3,460.0 1280.4,482.7 1284.7,487.2 1294.1,455.4 1302.9,469.1 1311.8,467.8 1321.1,485.1 1329.6,469.4 1338.5,463.3 1347.5,480.4 1356.1,489.8 1365.2,487.6 1373.8,467.2 1382.7,462.0 1392.5,479.4 1401.3,493.9 1410.2,501.3 1419.0,491.6 1428.1,479.4 1437.2,472.2 1446.0,468.0 1454.7,472.0 1463.6,468.4 1471.7,460.3 1477.9,465.6 1487.1,475.4 1503.6,472.7 1521.0,470.6 1534.3,478.6 1547.7,473.3 1562.7,464.8"/>
<polyline stroke="#b3e0a1" points="1267.4,650.5 1268.1,450.9 1269.7,387.4 1271.9,432.8 1276.3,464.5 1280.4,482.7 1284.7,487.2 1294.1,460.0 1302.9,473.6 1311.8,481.8 1321.1,467.5 1329.6,467.6 1338.5,481.3 1347.5,487.5 1356.1,476.2 1365.2,458.8 1373.8,446.9 1382.7,447.0 1392.5,470.3 1401.3,491.7 1410.2,474.4 1419.0,456.2 1428.1,473.8 1437.2,493.7 1446.0,493.4 1454.7,479.3 1463.6,479.8 1471.7,497.3 1477.9,489.0 1487.1,476.6 1503.6,478.9 1521.0,458.2 1534.3,443.0 1547.7,464.2 1562.7,478.6"/>
<polyline stroke="#b3e0a1" points="1267.4,627.8 1268.1,455.4 1269.7,401.0 1271.9,441.8 1276.3,469.1 1280.4,482.7 1284.7,487.2 1294.1,464.5 1302.9,478.1 1311.8,443.7 1321.1,465.4 1329.6,465.8 1338.5,446.9 1347.5,454.0 1356.1,455.6 1365.2,447.0 1373.8,448.0 1382.7,449.2 1392.5,462.1 1401.3,466.1 1410.2,457.7 1419.0,462.0 1428.1,472.8 1437.2,480.1 1446.0,479.7 1454.7,480.5 1463.6,480.8 1471.7,465.7 1477.9,453.2 1487.1,456.7 1503.6,457.8 1521.0,453.0 1534.3,452.1 1547.7,466.4 1562.7,481.0"/>
<polyline stroke="#d7ee8f" points="1267.4,605.1 1268.1,446.4 1269.7,423.7 1271.9,455.4 1276.3,487.2 1280.4,505.3 1284.7,509.9 1294.1,482.7 1302.9,471.3 1311.8,486.5 1321.1,483.0 1329.6,474.9 1338.5,481.8 1347.5,474.2 1356.1,460.1 1365.2,459.7 1373.8,469.8 1382.7,478.3 1392.5,479.1 1401.3,479.8 1410.2,489.3 1419.0,505.8 1428.1,501.5 1437.2,475.8 1446.0,461.9 1454.7,460.9 1463.6,459.1 1471.7,450.3 1477.9,438.9 1487.1,441.8 1503.6,458.1 1521.0,464.5 1534.3,452.7 1547.7,451.7 1562.7,461.4"/>
<polyline stroke="#d7ee8f" points="1267.4,582.5 1268.1,450.9 1269.7,432.8 1271.9,460.0 1276.3,487.2 1280.4,500.8 1284.7,505.3 1294.1,478.1 1302.9,473.0 1311.8,477.2 1321.1,480.2 1329.6,478.4 1338.5,477.4 1347.5,464.7 1356.1,467.8 1365.2,485.8 1373.8,481.6 1382.7,476.0 1392.5,469.5 1401.3,461.0 1410.2,461.8 1419.0,468.9 1428.1,483.3 1437.2,494.7 1446.0,491.0 1454.7,476.4 1463.6,471.9 1471.7,480.1 1477.9,474.5 1487.1,457.9 1503.6,452.7 1521.0,456.5 1534.3,470.6 1547.7,484.1 1562.7,478.8"/>
<polyline stroke="#f3faa8" points="1267.4,469.1 1268.1,432.8 1269.7,414.6 1271.9,460.0 1276.3,491.7 1280.4,509.9 1284.7,519.0 1294.1,496.3 1302.9,474.5 1311.8,448.7 1321.1,441.7 1329.6,454.3 1338.5,472.8 1347.5,481.7 1356.1,479.6 1365.2,476.8 1373.8,477.6 1382.7,460.2 1392.5,439.3 1401.3,442.9 1410.2,447.0 1419.0,442.4 1428.1,454.2 1437.2,466.8 1446.0,466.5 1454.7,469.4 1463.6,465.0 1471.7,452.3 1477.9,454.0 1487.1,457.4 1503.6,443.1 1521.0,449.5 1534.3,476.4 1547.7,483.2 1562.7,480.5"/>
<polyline stroke="#f3faa8" points="1267.4,469.1 1268.1,432.8 1269.7,423.7 1271.9,464.5 1276.3,491.7 1280.4,505.3 1284.7,514.4 1294.1,491.7 1302.9,478.4 1311.8,468.4 1321.1,479.4 1329.6,472.8 1338.5,469.9 1347.5,487.6 1356.1,501.6 1365.2,497.0 1373.8,475.4 1382.7,462.0 1392.5,464.0 1401.3,464.8 1410.2,467.7 1419.0,473.5 1428.1,462.3 1437.2,452.3 1446.0,445.1 1454.7,435.0 1463.6,440.8 1471.7,459.3 1477.9,468.7 1487.1,461.7 1503.6,456.4 1521.0,462.1 1534.3,475.7 1547.7,486.0 1562.7,485.6"/>
<polyline stroke="#feeb9e" points="1267.4,469.1 1268.1,423.7 1269.7,401.0 1271.9,455.4 1276.3,496.3 1280.4,514.4 1284.7,528.0 1294.1,505.3 1302.9,477.2 1311.8,483.9 1321.1,493.3 1329.6,490.5 1338.5,493.8 1347.5,503.6 1356.1,487.6 1365.2,474.6 1373.8,478.2 1382.7,472.8 1392.5,464.9 1401.3,480.9 1410.2,481.0 1419.0,466.1 1428.1,479.1 1437.2,478.8 1446.0,456.3 1454.7,437.5 1463.6,447.0 1471.7,471.5 1477.9,83.4 1487.1,475.7 1503.6,476.1 1521.0,478.6 1534.3,485.2 1547.7,473.0 1562.7,454.0"/>
<polyline stroke="#fdd884" points="1267.4,469.1 1268.1,414.6 1269.7,387.4 1271.9,450.9 1276.3,500.8 1280.4,523.5 1284.7,537.1 1294.1,509.9 1302.9,488.2 1311.8,487.2 1321.1,477.3 1329.6,484.2 1338.5,486.2 1347.5,474.9 1356.1,292.1 1365.2,473.6 1373.8,460.7 1382.7,452.4 1392.5,448.0 1401.3,459.5 1410.2,472.7 1419.0,478.6 1428.1,482.3 1437.2,472.9 1446.0,456.7 1454.7,464.4 1463.6,481.4 1471.7,475.5 1477.9,454.7 1487.1,430.8 1503.6,438.2 1521.0,473.3 1534.3,495.5 1547.7,493.7 1562.7,475.1"/>
<polyline stroke="#fdd884" points="1267.4,469.1 1268.1,419.1 1269.7,396.5 1271.9,455.4 1276.3,500.8 1280.4,519.0 1284.7,532.6 1294.1,505.3 1302.9,474.9 1311.8,496.2 1321.1,504.7 1329.6,486.2 1338.5,471.1 1347.5,449.9 1356.1,596.1 1365.2,470.4 1373.8,469.3 1382.7,464.8 1392.5,467.7 1401.3,468.7 1410.2,477.3 1419.0,473.0 1428.1,471.0 1437.2,477.7 1446.0,472.3 1454.7,458.8 1463.6,458.4 1471.7,474.7 1477.9,486.8 1487.1,492.1 1503.6,494.3 1521.0,483.8 1534.3,459.2 1547.7,448.0 1562.7,459.4"/>
<polyline stroke="#fdb466" points="1267.4,469.1 1268.1,396.5 1269.7,360.2 1271.9,446.4 1276.3,509.9 1280.4,537.1 1284.7,550.7 1294.1,523.5 1302.9,496.3 1311.8,478.1 1321.1,460.0 1329.6,446.4 1338.5,455.4 1347.5,441.8 1356.1,428.2 1365.2,414.6 1373.8,401.0 1382.7,432.8 1392.5,455.4 1401.3,450.9 1410.2,446.4 1419.0,324.8 1428.1,320.3 1437.2,337.5 1446.0,344.7 1454.7,432.8 1463.6,460.0 1471.7,473.6 1477.9,482.7 1487.1,491.7 1503.6,528.0 1521.0,550.7 1534.3,564.3 1547.7,573.4 1562.7,491.7"/>
<polyline stroke="#fdb466" points="1267.4,469.1 1268.1,405.5 1269.7,378.3 1271.9,455.4 1276.3,514.4 1280.4,546.2 1284.7,559.8 1294.1,532.6 1302.9,505.3 1311.8,487.2 1321.1,469.1 1329.6,455.4 1338.5,464.5 1347.5,450.9 1356.1,423.7 1365.2,396.5 1373.8,410.1 1382.7,441.8 1392.5,464.5 1401.3,460.0 1410.2,460.0 1419.0,441.8 1428.1,450.9 1437.2,460.0 1446.0,469.1 1454.7,478.1 1463.6,473.6 1471.7,482.7 1477.9,491.7 1487.1,500.8 1503.6,514.4 1521.0,523.5 1534.3,537.1 1547.7,514.4 1562.7,482.7"/>
<polyline stroke="#f98e52" points="1267.4,469.1 1268.1,401.0 1269.7,369.2 1271.9,441.8 1276.3,496.3 1280.4,514.4 1284.7,523.5 1294.1,505.3 1302.9,487.2 1311.8,475.9 1321.1,460.0 1329.6,441.8 1338.5,432.8 1347.5,441.8 1356.1,455.4 1365.2,446.4 1373.8,455.4 1382.7,469.1 1392.5,460.0 1401.3,450.9 1410.2,464.5 1419.0,478.1 1428.1,469.1 1437.2,482.7 1446.0,473.6 1454.7,464.5 1463.6,478.1 1471.7,487.2 1477.9,478.1 1487.1,469.1 1503.6,460.0 1521.0,450.9 1534.3,460.0 1547.7,469.1 1562.7,455.4"/>
<polyline stroke="#f06744" points="1267.4,469.1 1268.1,378.3 1269.7,333.0 1271.9,423.7 1276.3,505.3 1280.4,541.6 1284.7,559.8 1294.1,537.1 1302.9,514.4 1311.8,491.7 1321.1,478.1 1329.6,464.5 1338.5,455.4 1347.5,446.4 1356.1,437.3 1365.2,428.2 1373.8,423.7 1382.7,414.6 1392.5,398.3 1401.3,387.4 1410.2,376.1 1419.0,333.9 1428.1,327.1 1437.2,315.7 1446.0,335.7 1454.7,322.5 1463.6,318.0 1471.7,312.5 1477.9,305.7 1487.1,304.8 1503.6,736.2 1521.0,720.4 1534.3,695.9 1547.7,664.6 1562.7,631.5"/>
<polyline stroke="#f06744" points="1267.4,469.1 1268.1,387.4 1269.7,351.1 1271.9,432.8 1276.3,514.4 1280.4,550.7 1284.7,568.9 1294.1,546.2 1302.9,523.5 1311.8,500.8 1321.1,487.2 1329.6,473.6 1338.5,464.5 1347.5,455.4 1356.1,446.4 1365.2,437.3 1373.8,432.8 1382.7,423.7 1392.5,410.1 1401.3,396.5 1410.2,376.1 1419.0,373.8 1428.1,367.0 1437.2,357.9 1446.0,347.0 1454.7,337.5 1463.6,327.1 1471.7,319.3 1477.9,309.4 1487.1,305.7 1503.6,704.9 1521.0,693.6 1534.3,671.4 1547.7,644.6 1562.7,624.7"/>
<polyline stroke="#de4a4d" points="1267.4,469.1 1268.1,414.6 1269.7,396.5 1271.9,505.3 1276.3,568.9 1280.4,623.3 1284.7,646.0 1294.1,636.9 1302.9,632.4 1311.8,576.1 1321.1,537.1 1329.6,509.9 1338.5,478.1 1347.5,441.8 1356.1,414.6 1365.2,396.5 1373.8,391.9 1382.7,401.0 1392.5,450.9 1401.3,487.2 1410.2,464.5 1419.0,432.8 1428.1,414.6 1437.2,401.0 1446.0,441.8 1454.7,446.4 1463.6,469.1 1471.7,496.3 1477.9,537.1 1487.1,623.3 1503.6,541.6 1521.0,478.1 1534.3,403.3 1547.7,401.0 1562.7,514.4"/>
<polyline stroke="#de4a4d" points="1267.4,469.1 1268.1,401.0 1269.7,378.3 1271.9,491.7 1276.3,582.5 1280.4,650.5 1284.7,683.2 1294.1,650.5 1302.9,614.2 1311.8,564.3 1321.1,528.0 1329.6,498.1 1338.5,460.0 1347.5,423.7 1356.1,78.9 1365.2,378.3 1373.8,376.1 1382.7,364.7 1392.5,419.1 1401.3,460.0 1410.2,441.8 1419.0,414.6 1428.1,396.5 1437.2,378.3 1446.0,414.6 1454.7,428.2 1463.6,450.9 1471.7,478.1 1477.9,644.6 1487.1,559.8 1503.6,491.7 1521.0,450.9 1534.3,405.5 1547.7,346.6 1562.7,482.7"/>
<polyline stroke="#de4a4d" points="1267.4,469.1 1268.1,423.7 1269.7,405.5 1271.9,514.4 1276.3,577.9 1280.4,632.4 1284.7,659.6 1294.1,673.2 1302.9,646.0 1311.8,596.1 1321.1,555.2 1329.6,523.5 1338.5,491.7 1347.5,455.4 1356.1,428.2 1365.2,410.1 1373.8,423.7 1382.7,432.8 1392.5,478.1 1401.3,509.9 1410.2,482.7 1419.0,450.9 1428.1,432.8 1437.2,441.8 1446.0,460.0 1454.7,469.1 1463.6,482.7 1471.7,509.9 1477.9,532.6 1487.1,559.8 1503.6,523.5 1521.0,460.0 1534.3,428.2 1547.7,441.8 1562.7,632.4"/>
<polyline stroke="#c22e52" points="1267.4,564.3 1268.1,310.3 1269.7,235.4 1271.9,401.0 1276.3,523.5 1280.4,577.9 1284.7,605.1 1294.1,576.1 1302.9,553.9 1311.8,496.3 1321.1,378.3 1329.6,273.5 1338.5,268.1 1347.5,327.1 1356.1,405.1 1365.2,475.9 1373.8,515.8 1382.7,504.9 1392.5,542.5 1401.3,544.8 1410.2,527.1 1419.0,511.2 1428.1,524.8 1437.2,478.1 1446.0,455.4 1454.7,440.5 1463.6,420.5 1471.7,442.7 1477.9,442.3 1487.1,475.9 1503.6,496.3 1521.0,460.0 1534.3,428.2 1547.7,423.7 1562.7,449.1"/>
<polyline stroke="#c22e52" points="1267.4,537.1 1268.1,333.0 1269.7,260.4 1271.9,423.7 1276.3,537.1 1280.4,587.0 1284.7,605.1 1294.1,582.5 1302.9,559.8 1311.8,509.9 1321.1,401.0 1329.6,292.1 1338.5,260.4 1347.5,319.3 1356.1,396.5 1365.2,455.4 1373.8,496.3 1382.7,482.7 1392.5,514.4 1401.3,523.5 1410.2,509.9 1419.0,487.2 1428.1,505.3 1437.2,464.5 1446.0,446.4 1454.7,460.0 1463.6,450.9 1471.7,469.1 1477.9,478.1 1487.1,505.3 1503.6,514.4 1521.0,478.1 1534.3,446.4 1547.7,437.3 1562.7,464.5"/>
<polyline stroke="#9e0142" points="1267.4,469.1 1268.1,333.0 1269.7,269.4 1271.9,423.7 1276.3,519.0 1280.4,555.2 1284.7,584.7 1294.1,559.8 1302.9,525.8 1311.8,457.7 1321.1,380.6 1329.6,321.6 1338.5,315.7 1347.5,362.4 1356.1,420.5 1365.2,449.5 1373.8,475.9 1382.7,446.8 1392.5,473.6 1401.3,487.2 1410.2,484.9 1419.0,453.6 1428.1,471.3 1437.2,480.4 1446.0,487.2 1454.7,493.5 1463.6,506.7 1471.7,527.1 1477.9,540.3 1487.1,547.1 1503.6,498.1 1521.0,455.4 1534.3,432.8 1547.7,410.1 1562.7,387.4"/>
<polyline stroke="#9e0142" points="1267.4,469.1 1268.1,351.1 1269.7,287.6 1271.9,441.8 1276.3,528.0 1280.4,568.9 1284.7,593.8 1294.1,568.9 1302.9,534.8 1311.8,466.8 1321.1,389.7 1329.6,330.7 1338.5,324.8 1347.5,371.5 1356.1,429.6 1365.2,458.6 1373.8,494.0 1382.7,484.9 1392.5,505.3 1401.3,512.1 1410.2,496.3 1419.0,473.6 1428.1,489.5 1437.2,500.8 1446.0,507.6 1454.7,514.4 1463.6,525.8 1471.7,537.1 1477.9,546.2 1487.1,550.7 1503.6,514.4 1521.0,473.6 1534.3,450.9 1547.7,428.2 1562.7,401.0"/>
<polyline stroke="#9e0142" points="1267.4,469.1 1268.1,342.0 1269.7,278.5 1271.9,432.8 1276.3,523.5 1280.4,559.8 1284.7,589.3 1294.1,564.3 1302.9,530.3 1311.8,462.2 1321.1,385.1 1329.6,326.2 1338.5,320.3 1347.5,367.0 1356.1,425.0 1365.2,454.1 1373.8,484.9 1382.7,464.5 1392.5,489.5 1401.3,500.8 1410.2,491.7 1419.0,464.5 1428.1,480.4 1437.2,491.7 1446.0,498.5 1454.7,505.3 1463.6,516.7 1471.7,532.6 1477.9,542.5 1487.1,548.9 1503.6,532.6 1521.0,491.7 1534.3,469.1 1547.7,446.4 1562.7,419.1"/>
<polyline stroke="#9e0142" points="1267.4,469.1 1268.1,346.6 1269.7,283.1 1271.9,437.3 1276.3,525.8 1280.4,564.3 1284.7,591.5 1294.1,566.6 1302.9,532.6 1311.8,464.5 1321.1,387.4 1329.6,328.4 1338.5,322.5 1347.5,369.2 1356.1,427.3 1365.2,456.3 1373.8,489.5 1382.7,473.6 1392.5,496.3 1401.3,505.3 1410.2,494.0 1419.0,469.1 1428.1,484.9 1437.2,496.3 1446.0,503.1 1454.7,509.9 1463.6,521.2 1471.7,534.8 1477.9,544.4 1487.1,549.8 1503.6,523.5 1521.0,482.7 1534.3,460.0 1547.7,437.3 1562.7,410.1"/>
</g>
<g><rect x="1699.70" y="15.40" width="49.00" height="54.17" fill="#5e4fa2"/><rect x="1699.70" y="69.07" width="49.00" height="54.17" fill="#3470c0"/><rect x="1699.70" y="122.74" width="49.00" height="54.17" fill="#3b98b9"/><rect x="1699.70" y="176.41" width="49.00" height="54.07" fill="#5dbaa8"/><rect x="1699.70" y="229.98" width="49.00" height="54.07" fill="#85d0a4"/><rect x="1699.70" y="283.55" width="49.00" height="53.97" fill="#b3e0a1"/><rect x="1699.70" y="337.02" width="49.00" height="53.92" fill="#d7ee8f"/><rect x="1699.70" y="390.44" width="49.00" height="53.92" fill="#f3faa8"/><rect x="1699.70" y="443.86" width="49.00" height="53.92" fill="#ffffbf"/><rect x="1699.70" y="497.29" width="49.00" height="53.92" fill="#feeb9e"/><rect x="1699.70" y="550.71" width="49.00" height="53.97" fill="#fdd884"/><rect x="1699.70" y="604.18" width="49.00" height="53.97" fill="#fdb466"/><rect x="1699.70" y="657.65" width="49.00" height="53.97" fill="#f98e52"/><rect x="1699.70" y="711.12" width="49.00" height="53.92" fill="#f06744"/><rect x="1699.70" y="764.54" width="49.00" height="53.92" fill="#de4a4d"/><rect x="1699.70" y="817.96" width="49.00" height="53.97" fill="#c22e52"/><rect x="1699.70" y="871.43" width="49.00" height="51.27" fill="#9e0142"/></g><g stroke="#262626" stroke-width="2.10" fill="none"><rect x="1699.70" y="15.40" width="49.00" height="907.30"/><line x1="1748.70" y1="42.09" x2="1739.20" y2="42.09"/><line x1="1748.70" y1="95.46" x2="1739.20" y2="95.46"/><line x1="1748.70" y1="148.83" x2="1739.20" y2="148.83"/><line x1="1748.70" y1="202.20" x2="1739.20" y2="202.20"/><line x1="1748.70" y1="255.57" x2="1739.20" y2="255.57"/><line x1="1748.70" y1="308.94" x2="1739.20" y2="308.94"/><line x1="1748.70" y1="362.31" x2="1739.20" y2="362.31"/><line x1="1748.70" y1="415.68" x2="1739.20" y2="415.68"/><line x1="1748.70" y1="469.05" x2="1739.20" y2="469.05"/><line x1="1748.70" y1="522.42" x2="1739.20" y2="522.42"/><line x1="1748.70" y1="575.79" x2="1739.20" y2="575.79"/><line x1="1748.70" y1="629.16" x2="1739.20" y2="629.16"/><line x1="1748.70" y1="682.53" x2="1739.20" y2="682.53"/><line x1="1748.70" y1="735.90" x2="1739.20" y2="735.90"/><line x1="1748.70" y1="789.27" x2="1739.20" y2="789.27"/><line x1="1748.70" y1="842.64" x2="1739.20" y2="842.64"/><line x1="1748.70" y1="896.01" x2="1739.20" y2="896.01"/></g>
<text x="160.50" y="36.00" font-size="50.00" text-anchor="end" fill="#262626">1.05</text>
<text x="160.50" y="187.22" font-size="50.00" text-anchor="end" fill="#262626">1</text>
<text x="160.50" y="338.43" font-size="50.00" text-anchor="end" fill="#262626">0.95</text>
<text x="160.50" y="489.65" font-size="50.00" text-anchor="end" fill="#262626">0.9</text>
<text x="160.50" y="640.87" font-size="50.00" text-anchor="end" fill="#262626">0.85</text>
<text x="160.50" y="792.08" font-size="50.00" text-anchor="end" fill="#262626">0.8</text>
<text x="160.50" y="943.30" font-size="50.00" text-anchor="end" fill="#262626">0.75</text>
<text x="180.50" y="993.50" font-size="50.00" text-anchor="middle" fill="#262626">0</text>
<text x="346.14" y="993.50" font-size="50.00" text-anchor="middle" fill="#262626">200</text>
<text x="511.77" y="993.50" font-size="50.00" text-anchor="middle" fill="#262626">400</text>
<text x="677.41" y="993.50" font-size="50.00" text-anchor="middle" fill="#262626">600</text>
<text x="843.05" y="993.50" font-size="50.00" text-anchor="middle" fill="#262626">800</text>
<text x="1008.68" y="993.50" font-size="50.00" text-anchor="middle" fill="#262626">1000</text>
<text x="1247.50" y="36.00" font-size="50.00" text-anchor="end" fill="#262626">0.01</text>
<text x="1247.50" y="262.83" font-size="50.00" text-anchor="end" fill="#262626">0.005</text>
<text x="1247.50" y="489.65" font-size="50.00" text-anchor="end" fill="#262626">0</text>
<text x="1247.50" y="716.48" font-size="50.00" text-anchor="end" fill="#262626">-0.005</text>
<text x="1247.50" y="943.30" font-size="50.00" text-anchor="end" fill="#262626">-0.01</text>
<text x="1267.40" y="993.50" font-size="50.00" text-anchor="middle" fill="#262626">0</text>
<text x="1434.22" y="993.50" font-size="50.00" text-anchor="middle" fill="#262626">500</text>
<text x="1601.04" y="993.50" font-size="50.00" text-anchor="middle" fill="#262626">1000</text>
<text x="1766.50" y="62.69" font-size="50.00" text-anchor="start" fill="#262626">1</text>
<text x="1766.50" y="116.06" font-size="50.00" text-anchor="start" fill="#262626">2</text>
<text x="1766.50" y="169.43" font-size="50.00" text-anchor="start" fill="#262626">3</text>
<text x="1766.50" y="222.80" font-size="50.00" text-anchor="start" fill="#262626">4</text>
<text x="1766.50" y="276.17" font-size="50.00" text-anchor="start" fill="#262626">5</text>
<text x="1766.50" y="329.54" font-size="50.00" text-anchor="start" fill="#262626">6</text>
<text x="1766.50" y="382.91" font-size="50.00" text-anchor="start" fill="#262626">7</text>
<text x="1766.50" y="436.28" font-size="50.00" text-anchor="start" fill="#262626">8</text>
<text x="1766.50" y="489.65" font-size="50.00" text-anchor="start" fill="#262626">9</text>
<text x="1766.50" y="543.02" font-size="50.00" text-anchor="start" fill="#262626">10</text>
<text x="1766.50" y="596.39" font-size="50.00" text-anchor="start" fill="#262626">11</text>
<text x="1766.50" y="649.76" font-size="50.00" text-anchor="start" fill="#262626">12</text>
<text x="1766.50" y="703.13" font-size="50.00" text-anchor="start" fill="#262626">13</text>
<text x="1766.50" y="756.50" font-size="50.00" text-anchor="start" fill="#262626">14</text>
<text x="1766.50" y="809.87" font-size="50.00" text-anchor="start" fill="#262626">15</text>
<text x="1766.50" y="863.24" font-size="50.00" text-anchor="start" fill="#262626">16</text>
<text x="1766.50" y="916.61" font-size="50.00" text-anchor="start" fill="#262626">17</text>
<text x="636.00" y="1065.10" font-size="55.00" text-anchor="middle" fill="#262626">Time (days)</text>
<text x="1450.90" y="1065.10" font-size="55.00" text-anchor="middle" fill="#262626">Time (days)</text>
<text transform="translate(39.50,472.05) rotate(-90)" font-size="55.00" text-anchor="middle" fill="#262626">Relative discharge capacity</text>
<text transform="translate(1164.00,469.05) rotate(-90)" font-size="55.00" text-anchor="middle" fill="#262626">Residual error</text>
<text transform="translate(1680.00,471.05) rotate(-90)" font-size="51.00" text-anchor="middle" fill="#262626">Test Group</text>
<text x="1036.00" y="101.50" font-size="67.00" text-anchor="start" fill="#000">a</text>
<text x="1577.00" y="101.50" font-size="67.00" text-anchor="start" fill="#000">b</text>
<text x="217.30" y="793.50" font-size="50.00" text-anchor="start" fill="#000">R</text>
<text x="255.50" y="768.10" font-size="39.00" text-anchor="start" fill="#000">2</text>
<text x="253.80" y="817.40" font-size="39.80" text-anchor="start" fill="#000">adj</text>
<text x="324.00" y="793.50" font-size="50.00" text-anchor="start" fill="#000">= 0.999</text>
<text x="217.50" y="880.00" font-size="49.30" text-anchor="start" fill="#000">MAE = 0.000764</text>
</svg>
</body></html>
